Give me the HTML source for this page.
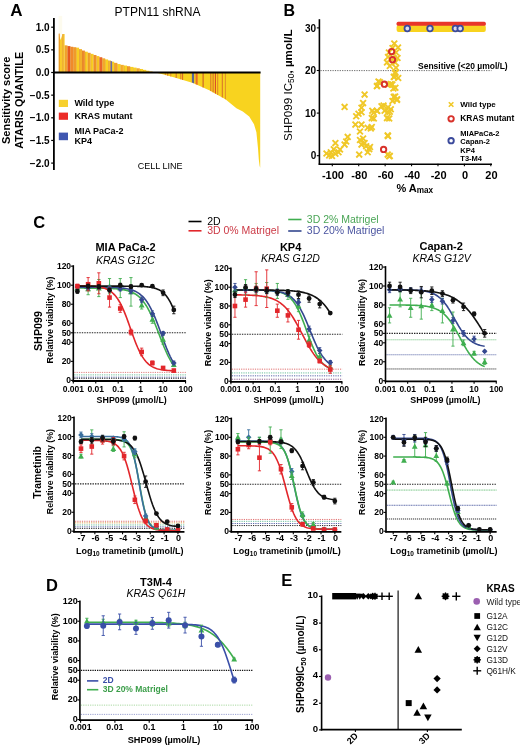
<!DOCTYPE html>
<html><head><meta charset="utf-8"><title>Figure</title><style>html,body{margin:0;padding:0;background:#fff;width:520px;height:750px;overflow:hidden}svg{display:block}</style></head><body>
<svg width="520" height="750" viewBox="0 0 520 750" font-family='"Liberation Sans", Arial, Helvetica, sans-serif'>
<rect width="520" height="750" fill="#fff"/>
<text x="10.2" y="15.8" font-size="17" font-weight="bold">A</text>
<text x="157.5" y="15.8" font-size="12" text-anchor="middle">PTPN11 shRNA</text>
<rect x="58.6" y="15.88" width="3.6" height="56.62" fill="#fdfbee"/>
<rect x="64.6" y="45.36" width="2.9" height="27.14" fill="#f2a22c"/>
<rect x="64.6" y="45.36" width="0.6" height="27.14" fill="#d88a2a" fill-opacity="0.55"/>
<rect x="67.5" y="46.1" width="2.9" height="26.4" fill="#e6561f"/>
<rect x="67.5" y="46.1" width="0.6" height="26.4" fill="#d88a2a" fill-opacity="0.55"/>
<rect x="70.4" y="46.77" width="2.9" height="25.73" fill="#f08a2a"/>
<rect x="70.4" y="46.77" width="0.6" height="25.73" fill="#d88a2a" fill-opacity="0.55"/>
<rect x="73.3" y="47.19" width="2.9" height="25.31" fill="#f09a2a"/>
<rect x="73.3" y="47.19" width="0.6" height="25.31" fill="#d88a2a" fill-opacity="0.55"/>
<rect x="76.2" y="47.66" width="2.9" height="24.84" fill="#f9cd22"/>
<rect x="76.2" y="47.66" width="0.6" height="24.84" fill="#d88a2a" fill-opacity="0.55"/>
<rect x="79.1" y="49.12" width="2.9" height="23.38" fill="#f3b02a"/>
<rect x="79.1" y="49.12" width="0.6" height="23.38" fill="#d88a2a" fill-opacity="0.55"/>
<rect x="82" y="50.58" width="2.9" height="21.92" fill="#ee8a2a"/>
<rect x="82" y="50.58" width="0.6" height="21.92" fill="#d88a2a" fill-opacity="0.55"/>
<rect x="84.9" y="51.71" width="2.9" height="20.79" fill="#f9cf22"/>
<rect x="84.9" y="51.71" width="0.6" height="20.79" fill="#d88a2a" fill-opacity="0.55"/>
<rect x="87.8" y="52.79" width="2.9" height="19.71" fill="#f3a02a"/>
<rect x="87.8" y="52.79" width="0.6" height="19.71" fill="#d88a2a" fill-opacity="0.55"/>
<rect x="90.7" y="53.87" width="2.9" height="18.63" fill="#f9d022"/>
<rect x="90.7" y="53.87" width="0.6" height="18.63" fill="#d88a2a" fill-opacity="0.55"/>
<rect x="93.6" y="54.98" width="2.9" height="17.52" fill="#ef9029"/>
<rect x="93.6" y="54.98" width="0.6" height="17.52" fill="#d88a2a" fill-opacity="0.55"/>
<rect x="96.5" y="56.1" width="2.9" height="16.4" fill="#f9c522"/>
<rect x="96.5" y="56.1" width="0.6" height="16.4" fill="#d88a2a" fill-opacity="0.55"/>
<rect x="99.4" y="57.22" width="2.9" height="15.28" fill="#e9652a"/>
<rect x="99.4" y="57.22" width="0.6" height="15.28" fill="#d88a2a" fill-opacity="0.55"/>
<rect x="102.3" y="58.32" width="2.9" height="14.18" fill="#f3a82a"/>
<rect x="102.3" y="58.32" width="0.6" height="14.18" fill="#d88a2a" fill-opacity="0.55"/>
<rect x="105.2" y="59.42" width="2.9" height="13.08" fill="#f9d122"/>
<rect x="105.2" y="59.42" width="0.6" height="13.08" fill="#d88a2a" fill-opacity="0.55"/>
<rect x="108.1" y="60.51" width="2.9" height="11.99" fill="#f6b82a"/>
<rect x="108.1" y="60.51" width="0.6" height="11.99" fill="#d88a2a" fill-opacity="0.55"/>
<rect x="111" y="61.66" width="3.2" height="10.84" fill="#f9cf22"/>
<rect x="111" y="61.66" width="0.6" height="10.84" fill="#d88a2a" fill-opacity="0.55"/>
<rect x="114.2" y="62.85" width="3.2" height="9.65" fill="#f3a12a"/>
<rect x="114.2" y="62.85" width="0.6" height="9.65" fill="#d88a2a" fill-opacity="0.55"/>
<rect x="117.4" y="64.05" width="3.2" height="8.45" fill="#f9d122"/>
<rect x="117.4" y="64.05" width="0.6" height="8.45" fill="#d88a2a" fill-opacity="0.55"/>
<rect x="120.6" y="64.86" width="3.2" height="7.64" fill="#f6b02a"/>
<rect x="120.6" y="64.86" width="0.6" height="7.64" fill="#d88a2a" fill-opacity="0.55"/>
<rect x="123.8" y="65.54" width="3.2" height="6.96" fill="#f9d122"/>
<rect x="123.8" y="65.54" width="0.6" height="6.96" fill="#d88a2a" fill-opacity="0.55"/>
<rect x="127" y="66.23" width="3.2" height="6.27" fill="#ef9a2a"/>
<rect x="127" y="66.23" width="0.6" height="6.27" fill="#d88a2a" fill-opacity="0.55"/>
<rect x="130.2" y="66.91" width="3.2" height="5.59" fill="#f9d122"/>
<rect x="130.2" y="66.91" width="0.6" height="5.59" fill="#d88a2a" fill-opacity="0.55"/>
<rect x="133.4" y="67.59" width="3.2" height="4.91" fill="#f9d122"/>
<rect x="133.4" y="67.59" width="0.6" height="4.91" fill="#d88a2a" fill-opacity="0.55"/>
<rect x="136.6" y="68.28" width="3.2" height="4.22" fill="#f4aa2a"/>
<rect x="136.6" y="68.28" width="0.6" height="4.22" fill="#d88a2a" fill-opacity="0.55"/>
<rect x="139.8" y="68.98" width="3.2" height="3.52" fill="#f9d122"/>
<rect x="139.8" y="68.98" width="0.6" height="3.52" fill="#d88a2a" fill-opacity="0.55"/>
<rect x="143" y="69.85" width="3.2" height="2.65" fill="#f9d122"/>
<rect x="143" y="69.85" width="0.6" height="2.65" fill="#d88a2a" fill-opacity="0.55"/>
<rect x="146.2" y="70.71" width="3.2" height="1.79" fill="#f9d122"/>
<rect x="146.2" y="70.71" width="0.6" height="1.79" fill="#d88a2a" fill-opacity="0.55"/>
<rect x="149.4" y="71.48" width="3.2" height="1.02" fill="#f6b52a"/>
<rect x="149.4" y="71.48" width="0.6" height="1.02" fill="#d88a2a" fill-opacity="0.55"/>
<rect x="152.6" y="72.11" width="3.2" height="0.39" fill="#f9d122"/>
<rect x="152.6" y="72.11" width="0.6" height="0.39" fill="#d88a2a" fill-opacity="0.55"/>
<path d="M58.8 72.5L58.8 33.54L60.6 39.88L62.6 34L64.6 34L64.6 72.5Z" fill="#f8c92a" stroke="none" stroke-width="1"/>
<rect x="58.8" y="33.54" width="0.9" height="38.96" fill="#e48a2a"/>
<rect x="62.4" y="34" width="0.9" height="38.5" fill="#e8a040"/>
<path d="M155 72.5L160.8 73.86L174.6 77.48L193 82.92L209.2 90.17L225.4 99.23L236.4 108.29L242.8 111.46L249.2 116.44L254 124.14L256.4 132.3L258 148.15L258.8 159.48L259.6 165.82L260.2 167.63L260.2 72.5Z" fill="#f8d31f" stroke="none" stroke-width="1"/>
<rect x="164.9" y="72.5" width="1" height="2.57" fill="#e08a2a"/>
<rect x="167.2" y="72.5" width="1" height="3.17" fill="#d8702a"/>
<rect x="170.3" y="72.5" width="1" height="3.99" fill="#e08a2a"/>
<rect x="175.7" y="72.5" width="1" height="5.46" fill="#d8702a"/>
<rect x="180.3" y="72.5" width="1" height="6.81" fill="#e07a2a"/>
<rect x="182.1" y="72.5" width="1" height="7.35" fill="#d8602a"/>
<rect x="191.9" y="72.5" width="1" height="10.24" fill="#4459a8"/>
<rect x="193.1" y="72.5" width="1" height="10.69" fill="#4a5aa0"/>
<rect x="195.7" y="72.5" width="1" height="11.85" fill="#e0402a"/>
<rect x="196.7" y="72.5" width="1" height="12.3" fill="#e8702a"/>
<rect x="202.6" y="72.5" width="1" height="14.94" fill="#c8502a"/>
<rect x="210.3" y="72.5" width="1" height="18.56" fill="#d8702a"/>
<rect x="212.6" y="72.5" width="1" height="19.85" fill="#d8602a"/>
<rect x="214.9" y="72.5" width="1" height="21.13" fill="#d8402a"/>
<rect x="217.2" y="72.5" width="1" height="22.42" fill="#e0802a"/>
<rect x="221.8" y="72.5" width="1" height="24.99" fill="#d8702a"/>
<rect x="224.9" y="72.5" width="1" height="26.73" fill="#e0902a"/>
<rect x="110.5" y="61.17" width="1.6" height="11.33" fill="#6a6aa8"/>
<line x1="53.9" y1="18" x2="53.9" y2="170" stroke="#000" stroke-width="1.8"/>
<line x1="53" y1="72.5" x2="260.6" y2="72.5" stroke="#000" stroke-width="2"/>
<line x1="51.2" y1="27.2" x2="53.9" y2="27.2" stroke="#000" stroke-width="1.2"/>
<text x="49.6" y="30.7" font-size="10" font-weight="bold" text-anchor="end">1.0</text>
<line x1="51.2" y1="49.85" x2="53.9" y2="49.85" stroke="#000" stroke-width="1.2"/>
<text x="49.6" y="53.35" font-size="10" font-weight="bold" text-anchor="end">0.5</text>
<line x1="51.2" y1="72.5" x2="53.9" y2="72.5" stroke="#000" stroke-width="1.2"/>
<text x="49.6" y="76" font-size="10" font-weight="bold" text-anchor="end">0.0</text>
<line x1="51.2" y1="95.15" x2="53.9" y2="95.15" stroke="#000" stroke-width="1.2"/>
<text x="49.6" y="98.65" font-size="10" font-weight="bold" text-anchor="end">−0.5</text>
<line x1="51.2" y1="117.8" x2="53.9" y2="117.8" stroke="#000" stroke-width="1.2"/>
<text x="49.6" y="121.3" font-size="10" font-weight="bold" text-anchor="end">−1.0</text>
<line x1="51.2" y1="140.45" x2="53.9" y2="140.45" stroke="#000" stroke-width="1.2"/>
<text x="49.6" y="143.95" font-size="10" font-weight="bold" text-anchor="end">−1.5</text>
<line x1="51.2" y1="163.1" x2="53.9" y2="163.1" stroke="#000" stroke-width="1.2"/>
<text x="49.6" y="166.6" font-size="10" font-weight="bold" text-anchor="end">−2.0</text>
<text x="9.8" y="100.3" font-size="11" font-weight="bold" text-anchor="middle" transform="rotate(-90 9.8 100.3)">Sensitivity score</text>
<text x="22.6" y="100.3" font-size="10.8" font-weight="bold" text-anchor="middle" transform="rotate(-90 22.6 100.3)">ATARIS QUANTILE</text>
<rect x="58.8" y="99.8" width="9.2" height="7.2" fill="#f7d02e"/>
<rect x="58.8" y="112.6" width="9.2" height="7.2" fill="#ec2b27"/>
<rect x="58.8" y="132.6" width="9.2" height="7.6" fill="#3f56b0"/>
<text x="74.4" y="106.3" font-size="9" font-weight="bold">Wild type</text>
<text x="74.4" y="119.2" font-size="9" font-weight="bold">KRAS mutant</text>
<text x="74.4" y="134.2" font-size="9" font-weight="bold">MIA PaCa-2</text>
<text x="74.4" y="143.5" font-size="9" font-weight="bold">KP4</text>
<text x="137.8" y="169.1" font-size="9">CELL LINE</text>
<text x="283.5" y="16.2" font-size="16" font-weight="bold">B</text>
<line x1="320.5" y1="70.6" x2="491.5" y2="70.6" stroke="#555" stroke-width="0.9" stroke-dasharray="1.2,1.2"/>
<text x="418" y="68.8" font-size="8.5" font-weight="bold">Sensitive (&lt;20 µmol/L)</text>
<rect x="396.6" y="25" width="89.2" height="7" fill="#f8d31f" rx="2"/>
<rect x="396.6" y="21.8" width="89.2" height="4" fill="#e8352a" rx="1.5"/>
<circle cx="407.3" cy="28.5" r="2.8" fill="#dcdcef" stroke="#3b4a9c" stroke-width="1.8"/>
<circle cx="430" cy="28.5" r="2.8" fill="#dcdcef" stroke="#3b4a9c" stroke-width="1.8"/>
<circle cx="455.4" cy="28.5" r="2.8" fill="#dcdcef" stroke="#3b4a9c" stroke-width="1.8"/>
<circle cx="460.2" cy="28.5" r="2.8" fill="#dcdcef" stroke="#3b4a9c" stroke-width="1.8"/>
<path d="M341.7 104L347.5 109.8M341.7 109.8L347.5 104" fill="none" stroke="#f0c828" stroke-width="1.9"/>
<path d="M361.7 91.7L367.5 97.5M361.7 97.5L367.5 91.7" fill="none" stroke="#f0c828" stroke-width="1.9"/>
<path d="M360.2 100.2L366 106M360.2 106L366 100.2" fill="none" stroke="#f0c828" stroke-width="1.9"/>
<path d="M358.6 104.8L364.4 110.6M358.6 110.6L364.4 104.8" fill="none" stroke="#f0c828" stroke-width="1.9"/>
<path d="M355.6 110.9L361.4 116.7M355.6 116.7L361.4 110.9" fill="none" stroke="#f0c828" stroke-width="1.9"/>
<path d="M358.6 109.4L364.4 115.2M358.6 115.2L364.4 109.4" fill="none" stroke="#f0c828" stroke-width="1.9"/>
<path d="M353.3 113.3L359.1 119.1M353.3 119.1L359.1 113.3" fill="none" stroke="#f0c828" stroke-width="1.9"/>
<path d="M352.5 121.7L358.3 127.5M352.5 127.5L358.3 121.7" fill="none" stroke="#f0c828" stroke-width="1.9"/>
<path d="M358.6 121.7L364.4 127.5M358.6 127.5L364.4 121.7" fill="none" stroke="#f0c828" stroke-width="1.9"/>
<path d="M357.1 128.6L362.9 134.4M357.1 134.4L362.9 128.6" fill="none" stroke="#f0c828" stroke-width="1.9"/>
<path d="M364.8 124.8L370.6 130.6M364.8 130.6L370.6 124.8" fill="none" stroke="#f0c828" stroke-width="1.9"/>
<path d="M367.9 125.6L373.7 131.4M367.9 131.4L373.7 125.6" fill="none" stroke="#f0c828" stroke-width="1.9"/>
<path d="M369.4 107.9L375.2 113.7M369.4 113.7L375.2 107.9" fill="none" stroke="#f0c828" stroke-width="1.9"/>
<path d="M374 107.9L379.8 113.7M374 113.7L379.8 107.9" fill="none" stroke="#f0c828" stroke-width="1.9"/>
<path d="M370.9 115.6L376.7 121.4M370.9 121.4L376.7 115.6" fill="none" stroke="#f0c828" stroke-width="1.9"/>
<path d="M378.6 103.3L384.4 109.1M378.6 109.1L384.4 103.3" fill="none" stroke="#f0c828" stroke-width="1.9"/>
<path d="M381.7 107.9L387.5 113.7M381.7 113.7L387.5 107.9" fill="none" stroke="#f0c828" stroke-width="1.9"/>
<path d="M384.8 109.4L390.6 115.2M384.8 115.2L390.6 109.4" fill="none" stroke="#f0c828" stroke-width="1.9"/>
<path d="M386.3 115.6L392.1 121.4M386.3 121.4L392.1 115.6" fill="none" stroke="#f0c828" stroke-width="1.9"/>
<path d="M384.8 132.5L390.6 138.3M384.8 138.3L390.6 132.5" fill="none" stroke="#f0c828" stroke-width="1.9"/>
<path d="M387.9 106.3L393.7 112.1M387.9 112.1L393.7 106.3" fill="none" stroke="#f0c828" stroke-width="1.9"/>
<path d="M390.9 94L396.7 99.8M390.9 99.8L396.7 94" fill="none" stroke="#f0c828" stroke-width="1.9"/>
<path d="M394 97.1L399.8 102.9M394 102.9L399.8 97.1" fill="none" stroke="#f0c828" stroke-width="1.9"/>
<path d="M389.4 81.7L395.2 87.5M389.4 87.5L395.2 81.7" fill="none" stroke="#f0c828" stroke-width="1.9"/>
<path d="M392.5 84.8L398.3 90.6M392.5 90.6L398.3 84.8" fill="none" stroke="#f0c828" stroke-width="1.9"/>
<path d="M390.9 74L396.7 79.8M390.9 79.8L396.7 74" fill="none" stroke="#f0c828" stroke-width="1.9"/>
<path d="M392.5 69.4L398.3 75.2M392.5 75.2L398.3 69.4" fill="none" stroke="#f0c828" stroke-width="1.9"/>
<path d="M374 83.3L379.8 89.1M374 89.1L379.8 83.3" fill="none" stroke="#f0c828" stroke-width="1.9"/>
<path d="M375.6 78.6L381.4 84.4M375.6 84.4L381.4 78.6" fill="none" stroke="#f0c828" stroke-width="1.9"/>
<path d="M384.8 81.7L390.6 87.5M384.8 87.5L390.6 81.7" fill="none" stroke="#f0c828" stroke-width="1.9"/>
<path d="M332.5 140.2L338.3 146M332.5 146L338.3 140.2" fill="none" stroke="#f0c828" stroke-width="1.9"/>
<path d="M330.9 146.3L336.7 152.1M330.9 152.1L336.7 146.3" fill="none" stroke="#f0c828" stroke-width="1.9"/>
<path d="M327.9 149.4L333.7 155.2M327.9 155.2L333.7 149.4" fill="none" stroke="#f0c828" stroke-width="1.9"/>
<path d="M332.5 150.9L338.3 156.7M332.5 156.7L338.3 150.9" fill="none" stroke="#f0c828" stroke-width="1.9"/>
<path d="M326.3 152.5L332.1 158.3M326.3 158.3L332.1 152.5" fill="none" stroke="#f0c828" stroke-width="1.9"/>
<path d="M335.6 149.4L341.4 155.2M335.6 155.2L341.4 149.4" fill="none" stroke="#f0c828" stroke-width="1.9"/>
<path d="M344.8 134L350.6 139.8M344.8 139.8L350.6 134" fill="none" stroke="#f0c828" stroke-width="1.9"/>
<path d="M343.3 138.6L349.1 144.4M343.3 144.4L349.1 138.6" fill="none" stroke="#f0c828" stroke-width="1.9"/>
<path d="M341.7 141.7L347.5 147.5M341.7 147.5L347.5 141.7" fill="none" stroke="#f0c828" stroke-width="1.9"/>
<path d="M357.1 137.1L362.9 142.9M357.1 142.9L362.9 137.1" fill="none" stroke="#f0c828" stroke-width="1.9"/>
<path d="M360.2 135.6L366 141.4M360.2 141.4L366 135.6" fill="none" stroke="#f0c828" stroke-width="1.9"/>
<path d="M358.6 141.7L364.4 147.5M358.6 147.5L364.4 141.7" fill="none" stroke="#f0c828" stroke-width="1.9"/>
<path d="M361.7 140.2L367.5 146M361.7 146L367.5 140.2" fill="none" stroke="#f0c828" stroke-width="1.9"/>
<path d="M363.3 143.3L369.1 149.1M363.3 149.1L369.1 143.3" fill="none" stroke="#f0c828" stroke-width="1.9"/>
<path d="M366.3 146.3L372.1 152.1M366.3 152.1L372.1 146.3" fill="none" stroke="#f0c828" stroke-width="1.9"/>
<path d="M364.8 149.4L370.6 155.2M364.8 155.2L370.6 149.4" fill="none" stroke="#f0c828" stroke-width="1.9"/>
<path d="M356.3 151.7L362.1 157.5M356.3 157.5L362.1 151.7" fill="none" stroke="#f0c828" stroke-width="1.9"/>
<path d="M384.8 151.7L390.6 157.5M384.8 157.5L390.6 151.7" fill="none" stroke="#f0c828" stroke-width="1.9"/>
<path d="M386.3 153.3L392.1 159.1M386.3 159.1L392.1 153.3" fill="none" stroke="#f0c828" stroke-width="1.9"/>
<path d="M391.4 40.6L397.2 46.4M391.4 46.4L397.2 40.6" fill="none" stroke="#f0c828" stroke-width="1.9"/>
<path d="M389.6 45.1L395.4 50.9M389.6 50.9L395.4 45.1" fill="none" stroke="#f0c828" stroke-width="1.9"/>
<path d="M386 49.6L391.8 55.4M386 55.4L391.8 49.6" fill="none" stroke="#f0c828" stroke-width="1.9"/>
<path d="M393.1 49.6L398.9 55.4M393.1 55.4L398.9 49.6" fill="none" stroke="#f0c828" stroke-width="1.9"/>
<path d="M385.1 54.1L390.9 59.9M385.1 59.9L390.9 54.1" fill="none" stroke="#f0c828" stroke-width="1.9"/>
<path d="M390.5 55L396.3 60.8M390.5 60.8L396.3 55" fill="none" stroke="#f0c828" stroke-width="1.9"/>
<path d="M384.1 59.5L389.9 65.3M384.1 65.3L389.9 59.5" fill="none" stroke="#f0c828" stroke-width="1.9"/>
<path d="M392.3 59.5L398.1 65.3M392.3 65.3L398.1 59.5" fill="none" stroke="#f0c828" stroke-width="1.9"/>
<path d="M386.9 63.1L392.7 68.9M386.9 68.9L392.7 63.1" fill="none" stroke="#f0c828" stroke-width="1.9"/>
<path d="M393.1 64.9L398.9 70.7M393.1 70.7L398.9 64.9" fill="none" stroke="#f0c828" stroke-width="1.9"/>
<path d="M392.3 70.3L398.1 76.1M392.3 76.1L398.1 70.3" fill="none" stroke="#f0c828" stroke-width="1.9"/>
<path d="M391.4 73.9L397.2 79.7M391.4 79.7L397.2 73.9" fill="none" stroke="#f0c828" stroke-width="1.9"/>
<path d="M374.3 82.9L380.1 88.7M374.3 88.7L380.1 82.9" fill="none" stroke="#f0c828" stroke-width="1.9"/>
<path d="M377 79.3L382.8 85.1M377 85.1L382.8 79.3" fill="none" stroke="#f0c828" stroke-width="1.9"/>
<path d="M387.8 81.1L393.6 86.9M387.8 86.9L393.6 81.1" fill="none" stroke="#f0c828" stroke-width="1.9"/>
<path d="M390.5 85.6L396.3 91.4M390.5 91.4L396.3 85.6" fill="none" stroke="#f0c828" stroke-width="1.9"/>
<path d="M392.3 93.6L398.1 99.4M392.3 99.4L398.1 93.6" fill="none" stroke="#f0c828" stroke-width="1.9"/>
<path d="M394.1 96.3L399.9 102.1M394.1 102.1L399.9 96.3" fill="none" stroke="#f0c828" stroke-width="1.9"/>
<path d="M389.6 98.1L395.4 103.9M389.6 103.9L395.4 98.1" fill="none" stroke="#f0c828" stroke-width="1.9"/>
<path d="M380.6 102.6L386.4 108.4M380.6 108.4L386.4 102.6" fill="none" stroke="#f0c828" stroke-width="1.9"/>
<path d="M385.1 104.4L390.9 110.2M385.1 110.2L390.9 104.4" fill="none" stroke="#f0c828" stroke-width="1.9"/>
<path d="M374.3 108.1L380.1 113.9M374.3 113.9L380.1 108.1" fill="none" stroke="#f0c828" stroke-width="1.9"/>
<path d="M370.7 109.8L376.5 115.6M370.7 115.6L376.5 109.8" fill="none" stroke="#f0c828" stroke-width="1.9"/>
<path d="M368.9 115.2L374.7 121M368.9 121L374.7 115.2" fill="none" stroke="#f0c828" stroke-width="1.9"/>
<path d="M386.9 108.9L392.7 114.7M386.9 114.7L392.7 108.9" fill="none" stroke="#f0c828" stroke-width="1.9"/>
<path d="M384.1 115.2L389.9 121M384.1 121L389.9 115.2" fill="none" stroke="#f0c828" stroke-width="1.9"/>
<path d="M368.9 124.1L374.7 129.9M368.9 129.9L374.7 124.1" fill="none" stroke="#f0c828" stroke-width="1.9"/>
<path d="M385.1 133.2L390.9 139M385.1 139L390.9 133.2" fill="none" stroke="#f0c828" stroke-width="1.9"/>
<path d="M386.9 153L392.7 158.8M386.9 158.8L392.7 153" fill="none" stroke="#f0c828" stroke-width="1.9"/>
<path d="M367.1 144.1L372.9 149.9M367.1 149.9L372.9 144.1" fill="none" stroke="#f0c828" stroke-width="1.9"/>
<path d="M323.6 150.6L329.4 156.4M323.6 156.4L329.4 150.6" fill="none" stroke="#f0c828" stroke-width="1.9"/>
<path d="M329.1 153.1L334.9 158.9M329.1 158.9L334.9 153.1" fill="none" stroke="#f0c828" stroke-width="1.9"/>
<path d="M337.1 146.6L342.9 152.4M337.1 152.4L342.9 146.6" fill="none" stroke="#f0c828" stroke-width="1.9"/>
<path d="M395.1 44.6L400.9 50.4M395.1 50.4L400.9 44.6" fill="none" stroke="#f0c828" stroke-width="1.9"/>
<path d="M394.6 55.1L400.4 60.9M394.6 60.9L400.4 55.1" fill="none" stroke="#f0c828" stroke-width="1.9"/>
<path d="M395.3 75.1L401.1 80.9M395.3 80.9L401.1 75.1" fill="none" stroke="#f0c828" stroke-width="1.9"/>
<circle cx="391.6" cy="51.6" r="2.7" fill="none" stroke="#d8322b" stroke-width="1.9"/>
<circle cx="392.5" cy="59.7" r="2.7" fill="none" stroke="#d8322b" stroke-width="1.9"/>
<circle cx="384.4" cy="84.2" r="2.7" fill="none" stroke="#d8322b" stroke-width="1.9"/>
<circle cx="383.6" cy="149.4" r="2.7" fill="none" stroke="#d8322b" stroke-width="1.9"/>
<line x1="319.4" y1="19.2" x2="319.4" y2="164.6" stroke="#000" stroke-width="1.6"/>
<line x1="318.6" y1="164.2" x2="492" y2="164.2" stroke="#000" stroke-width="1.6"/>
<line x1="316.8" y1="155.7" x2="319.4" y2="155.7" stroke="#000" stroke-width="1.1"/>
<text x="316.2" y="159.3" font-size="10" font-weight="bold" text-anchor="end">0</text>
<line x1="316.8" y1="113.1" x2="319.4" y2="113.1" stroke="#000" stroke-width="1.1"/>
<text x="316.2" y="116.7" font-size="10" font-weight="bold" text-anchor="end">10</text>
<line x1="316.8" y1="70.5" x2="319.4" y2="70.5" stroke="#000" stroke-width="1.1"/>
<text x="316.2" y="74.1" font-size="10" font-weight="bold" text-anchor="end">20</text>
<line x1="316.8" y1="27.9" x2="319.4" y2="27.9" stroke="#000" stroke-width="1.1"/>
<text x="316.2" y="31.5" font-size="10" font-weight="bold" text-anchor="end">30</text>
<line x1="332.3" y1="163.8" x2="332.3" y2="166.3" stroke="#000" stroke-width="1.1"/>
<text x="332.9" y="178.8" font-size="11" font-weight="bold" text-anchor="middle">-100</text>
<line x1="358.72" y1="163.8" x2="358.72" y2="166.3" stroke="#000" stroke-width="1.1"/>
<text x="359.32" y="178.8" font-size="11" font-weight="bold" text-anchor="middle">-80</text>
<line x1="385.14" y1="163.8" x2="385.14" y2="166.3" stroke="#000" stroke-width="1.1"/>
<text x="385.74" y="178.8" font-size="11" font-weight="bold" text-anchor="middle">-60</text>
<line x1="411.56" y1="163.8" x2="411.56" y2="166.3" stroke="#000" stroke-width="1.1"/>
<text x="412.16" y="178.8" font-size="11" font-weight="bold" text-anchor="middle">-40</text>
<line x1="437.98" y1="163.8" x2="437.98" y2="166.3" stroke="#000" stroke-width="1.1"/>
<text x="438.58" y="178.8" font-size="11" font-weight="bold" text-anchor="middle">-20</text>
<line x1="464.4" y1="163.8" x2="464.4" y2="166.3" stroke="#000" stroke-width="1.1"/>
<text x="465" y="178.8" font-size="11" font-weight="bold" text-anchor="middle">0</text>
<line x1="490.82" y1="163.8" x2="490.82" y2="166.3" stroke="#000" stroke-width="1.1"/>
<text x="491.42" y="178.8" font-size="11" font-weight="bold" text-anchor="middle">20</text>
<text x="396.4" y="191.5" font-size="11" font-weight="bold">% A<tspan font-size="8.2" dy="1.2">max</tspan></text>
<text x="291.6" y="85.2" font-size="11.6" text-anchor="middle" transform="rotate(-90 291.6 85.2)">SHP099 IC<tspan font-size="8.5" dy="2">50</tspan><tspan dy="-2" font-weight="bold">, µmol/L</tspan></text>
<path d="M448.8 102.2L453.4 106.8M448.8 106.8L453.4 102.2" fill="none" stroke="#f0c828" stroke-width="1.6"/>
<circle cx="451.1" cy="118.8" r="2.7" fill="none" stroke="#d8322b" stroke-width="1.9"/>
<circle cx="451.1" cy="140.7" r="2.7" fill="none" stroke="#3b4a9c" stroke-width="1.9"/>
<text x="460.3" y="107.3" font-size="8" font-weight="bold">Wild type</text>
<text x="460.3" y="121.2" font-size="8.4" font-weight="bold">KRAS mutant</text>
<text x="460.3" y="135.8" font-size="7.5" font-weight="bold">MIAPaCa-2</text>
<text x="460.3" y="144.1" font-size="7.5" font-weight="bold">Capan-2</text>
<text x="460.3" y="152.5" font-size="7.5" font-weight="bold">KP4</text>
<text x="460.3" y="160.8" font-size="7.5" font-weight="bold">T3-M4</text>
<text x="33.2" y="227.7" font-size="16.5" font-weight="bold">C</text>
<line x1="188.5" y1="221.5" x2="201.5" y2="221.5" stroke="#000" stroke-width="1.6"/>
<text x="207.2" y="224.6" font-size="10.5">2D</text>
<line x1="188.5" y1="230.8" x2="201.5" y2="230.8" stroke="#e2262b" stroke-width="1.6"/>
<text x="207.2" y="233.7" font-size="10.5" fill="#cc3a46">3D 0% Matrigel</text>
<line x1="288.2" y1="219.5" x2="301.5" y2="219.5" stroke="#3fae4f" stroke-width="1.6"/>
<text x="306.8" y="222.7" font-size="10.5" fill="#4aa556">3D 2% Matrigel</text>
<line x1="288.2" y1="231" x2="301.5" y2="231" stroke="#34488f" stroke-width="1.6"/>
<text x="306.8" y="234" font-size="10.5" fill="#4a54a0">3D 20% Matrigel</text>
<line x1="74.3" y1="372.4" x2="186.05" y2="372.4" stroke="#e08080" stroke-width="1" stroke-dasharray="1.2,1.1"/>
<line x1="74.3" y1="374.88" x2="186.05" y2="374.88" stroke="#6cbf9a" stroke-width="1" stroke-dasharray="1.2,1.1"/>
<line x1="74.3" y1="377.16" x2="186.05" y2="377.16" stroke="#5a66aa" stroke-width="1" stroke-dasharray="1.2,1.1"/>
<line x1="74.3" y1="378.31" x2="186.05" y2="378.31" stroke="#222" stroke-width="1" stroke-dasharray="1.2,1.1"/>
<line x1="74.3" y1="332.8" x2="186.05" y2="332.8" stroke="#222" stroke-width="1.1" stroke-dasharray="1.4,1.1"/>
<path d="M77.41 288.07L78.61 288.07L79.82 288.07L81.02 288.07L82.23 288.07L83.43 288.07L84.64 288.08L85.84 288.08L87.05 288.08L88.25 288.09L89.46 288.09L90.66 288.1L91.87 288.1L93.07 288.11L94.28 288.12L95.48 288.13L96.69 288.14L97.89 288.15L99.1 288.16L100.3 288.18L101.51 288.2L102.71 288.22L103.92 288.24L105.12 288.27L106.33 288.3L107.53 288.33L108.74 288.37L109.94 288.42L111.15 288.47L112.35 288.53L113.56 288.6L114.76 288.68L115.97 288.77L117.17 288.87L118.38 288.99L119.59 289.12L120.79 289.27L122 289.45L123.2 289.65L124.41 289.87L125.61 290.13L126.82 290.43L128.02 290.76L129.23 291.14L130.43 291.57L131.64 292.06L132.84 292.62L134.05 293.25L135.25 293.95L136.46 294.75L137.66 295.65L138.87 296.65L140.07 297.77L141.28 299.01L142.48 300.4L143.69 301.92L144.89 303.6L146.1 305.44L147.3 307.44L148.51 309.6L149.71 311.93L150.92 314.42L152.12 317.05L153.33 319.82L154.53 322.71L155.74 325.7L156.94 328.76L158.15 331.88L159.35 335.02L160.56 338.14L161.76 341.24L162.97 344.27L164.17 347.21L165.38 350.04L166.58 352.75L167.79 355.31L168.99 357.71L170.2 359.96L171.4 362.04L172.61 363.96L173.81 365.72" fill="none" stroke="#3fae4f" stroke-width="1.6" stroke-linejoin="round"/>
<path d="M77.41 287.11L78.61 287.11L79.82 287.11L81.02 287.11L82.23 287.11L83.43 287.11L84.64 287.12L85.84 287.12L87.05 287.12L88.25 287.12L89.46 287.12L90.66 287.13L91.87 287.13L93.07 287.13L94.28 287.14L95.48 287.14L96.69 287.15L97.89 287.16L99.1 287.17L100.3 287.18L101.51 287.19L102.71 287.2L103.92 287.21L105.12 287.23L106.33 287.25L107.53 287.27L108.74 287.3L109.94 287.33L111.15 287.36L112.35 287.4L113.56 287.44L114.76 287.49L115.97 287.55L117.17 287.62L118.38 287.7L119.59 287.79L120.79 287.89L122 288.01L123.2 288.15L124.41 288.31L125.61 288.49L126.82 288.7L128.02 288.94L129.23 289.21L130.43 289.53L131.64 289.88L132.84 290.29L134.05 290.76L135.25 291.3L136.46 291.9L137.66 292.59L138.87 293.38L140.07 294.26L141.28 295.26L142.48 296.38L143.69 297.63L144.89 299.04L146.1 300.6L147.3 302.32L148.51 304.22L149.71 306.3L150.92 308.55L152.12 310.99L153.33 313.6L154.53 316.38L155.74 319.31L156.94 322.37L158.15 325.53L159.35 328.78L160.56 332.08L161.76 335.39L162.97 338.69L164.17 341.94L165.38 345.1L166.58 348.17L167.79 351.09L168.99 353.87L170.2 356.49L171.4 358.93L172.61 361.19L173.81 363.26" fill="none" stroke="#34488f" stroke-width="1.6" stroke-linejoin="round"/>
<path d="M77.41 285.75L78.61 285.76L79.82 285.78L81.02 285.79L82.23 285.81L83.43 285.84L84.64 285.87L85.84 285.9L87.05 285.94L88.25 285.98L89.46 286.04L90.66 286.1L91.87 286.17L93.07 286.26L94.28 286.36L95.48 286.48L96.69 286.62L97.89 286.78L99.1 286.97L100.3 287.19L101.51 287.45L102.71 287.75L103.92 288.1L105.12 288.51L106.33 288.98L107.53 289.53L108.74 290.17L109.94 290.91L111.15 291.75L112.35 292.73L113.56 293.84L114.76 295.1L115.97 296.54L117.17 298.15L118.38 299.97L119.59 301.98L120.79 304.21L122 306.64L123.2 309.29L124.41 312.13L125.61 315.15L126.82 318.32L128.02 321.62L129.23 325L130.43 328.42L131.64 331.84L132.84 335.22L134.05 338.51L135.25 341.68L136.46 344.7L137.66 347.53L138.87 350.17L140.07 352.6L141.28 354.82L142.48 356.83L143.69 358.64L144.89 360.25L146.1 361.68L147.3 362.94L148.51 364.05L149.71 365.02L150.92 365.86L152.12 366.59L153.33 367.23L154.53 367.78L155.74 368.25L156.94 368.66L158.15 369.01L159.35 369.31L160.56 369.56L161.76 369.78L162.97 369.97L164.17 370.13L165.38 370.27L166.58 370.39L167.79 370.49L168.99 370.57L170.2 370.65L171.4 370.71L172.61 370.76L173.81 370.81" fill="none" stroke="#e2262b" stroke-width="1.6" stroke-linejoin="round"/>
<path d="M77.41 286.15L78.61 286.15L79.82 286.15L81.02 286.15L82.23 286.15L83.43 286.15L84.64 286.15L85.84 286.15L87.05 286.15L88.25 286.15L89.46 286.15L90.66 286.15L91.87 286.15L93.07 286.15L94.28 286.15L95.48 286.15L96.69 286.15L97.89 286.15L99.1 286.15L100.3 286.15L101.51 286.15L102.71 286.15L103.92 286.15L105.12 286.15L106.33 286.15L107.53 286.15L108.74 286.15L109.94 286.16L111.15 286.16L112.35 286.16L113.56 286.16L114.76 286.16L115.97 286.16L117.17 286.16L118.38 286.16L119.59 286.17L120.79 286.17L122 286.17L123.2 286.17L124.41 286.18L125.61 286.18L126.82 286.19L128.02 286.2L129.23 286.2L130.43 286.21L131.64 286.23L132.84 286.24L134.05 286.26L135.25 286.28L136.46 286.3L137.66 286.33L138.87 286.36L140.07 286.4L141.28 286.45L142.48 286.51L143.69 286.57L144.89 286.65L146.1 286.74L147.3 286.86L148.51 286.99L149.71 287.14L150.92 287.33L152.12 287.55L153.33 287.81L154.53 288.11L155.74 288.48L156.94 288.9L158.15 289.4L159.35 289.99L160.56 290.68L161.76 291.49L162.97 292.43L164.17 293.52L165.38 294.79L166.58 296.25L167.79 297.92L168.99 299.82L170.2 301.96L171.4 304.37L172.61 307.05L173.81 310" fill="none" stroke="#111" stroke-width="1.6" stroke-linejoin="round"/>
<line x1="77.41" y1="286.15" x2="77.41" y2="289.96" stroke="#3fae4f" stroke-width="0.9"/>
<line x1="75.81" y1="286.15" x2="79.01" y2="286.15" stroke="#3fae4f" stroke-width="0.9"/>
<line x1="75.81" y1="289.96" x2="79.01" y2="289.96" stroke="#3fae4f" stroke-width="0.9"/>
<path d="M77.41 285.16L80.31 290.38L74.51 290.38Z" fill="#3fae4f" stroke="none" stroke-width="1"/>
<line x1="88.12" y1="283.3" x2="88.12" y2="294.72" stroke="#3fae4f" stroke-width="0.9"/>
<line x1="86.52" y1="283.3" x2="89.72" y2="283.3" stroke="#3fae4f" stroke-width="0.9"/>
<line x1="86.52" y1="294.72" x2="89.72" y2="294.72" stroke="#3fae4f" stroke-width="0.9"/>
<path d="M88.12 286.11L91.02 291.33L85.22 291.33Z" fill="#3fae4f" stroke="none" stroke-width="1"/>
<line x1="98.83" y1="279.49" x2="98.83" y2="296.62" stroke="#3fae4f" stroke-width="0.9"/>
<line x1="97.23" y1="279.49" x2="100.43" y2="279.49" stroke="#3fae4f" stroke-width="0.9"/>
<line x1="97.23" y1="296.62" x2="100.43" y2="296.62" stroke="#3fae4f" stroke-width="0.9"/>
<path d="M98.83 285.16L101.73 290.38L95.93 290.38Z" fill="#3fae4f" stroke="none" stroke-width="1"/>
<line x1="109.54" y1="278.54" x2="109.54" y2="293.77" stroke="#3fae4f" stroke-width="0.9"/>
<line x1="107.94" y1="278.54" x2="111.14" y2="278.54" stroke="#3fae4f" stroke-width="0.9"/>
<line x1="107.94" y1="293.77" x2="111.14" y2="293.77" stroke="#3fae4f" stroke-width="0.9"/>
<path d="M109.54 283.25L112.44 288.47L106.64 288.47Z" fill="#3fae4f" stroke="none" stroke-width="1"/>
<line x1="120.25" y1="278.54" x2="120.25" y2="297.58" stroke="#3fae4f" stroke-width="0.9"/>
<line x1="118.65" y1="278.54" x2="121.85" y2="278.54" stroke="#3fae4f" stroke-width="0.9"/>
<line x1="118.65" y1="297.58" x2="121.85" y2="297.58" stroke="#3fae4f" stroke-width="0.9"/>
<path d="M120.25 285.16L123.15 290.38L117.35 290.38Z" fill="#3fae4f" stroke="none" stroke-width="1"/>
<line x1="130.97" y1="277.58" x2="130.97" y2="306.14" stroke="#3fae4f" stroke-width="0.9"/>
<line x1="129.37" y1="277.58" x2="132.57" y2="277.58" stroke="#3fae4f" stroke-width="0.9"/>
<line x1="129.37" y1="306.14" x2="132.57" y2="306.14" stroke="#3fae4f" stroke-width="0.9"/>
<path d="M130.97 288.96L133.87 294.18L128.07 294.18Z" fill="#3fae4f" stroke="none" stroke-width="1"/>
<line x1="141.68" y1="301.38" x2="141.68" y2="309" stroke="#3fae4f" stroke-width="0.9"/>
<line x1="140.08" y1="301.38" x2="143.28" y2="301.38" stroke="#3fae4f" stroke-width="0.9"/>
<line x1="140.08" y1="309" x2="143.28" y2="309" stroke="#3fae4f" stroke-width="0.9"/>
<path d="M141.68 302.29L144.58 307.51L138.78 307.51Z" fill="#3fae4f" stroke="none" stroke-width="1"/>
<line x1="152.39" y1="315.66" x2="152.39" y2="323.28" stroke="#3fae4f" stroke-width="0.9"/>
<line x1="150.79" y1="315.66" x2="153.99" y2="315.66" stroke="#3fae4f" stroke-width="0.9"/>
<line x1="150.79" y1="323.28" x2="153.99" y2="323.28" stroke="#3fae4f" stroke-width="0.9"/>
<path d="M152.39 316.57L155.29 321.79L149.49 321.79Z" fill="#3fae4f" stroke="none" stroke-width="1"/>
<line x1="163.1" y1="334.7" x2="163.1" y2="344.22" stroke="#3fae4f" stroke-width="0.9"/>
<line x1="161.5" y1="334.7" x2="164.7" y2="334.7" stroke="#3fae4f" stroke-width="0.9"/>
<line x1="161.5" y1="344.22" x2="164.7" y2="344.22" stroke="#3fae4f" stroke-width="0.9"/>
<path d="M163.1 336.56L166 341.78L160.2 341.78Z" fill="#3fae4f" stroke="none" stroke-width="1"/>
<line x1="173.81" y1="362.79" x2="173.81" y2="366.6" stroke="#3fae4f" stroke-width="0.9"/>
<line x1="172.21" y1="362.79" x2="175.41" y2="362.79" stroke="#3fae4f" stroke-width="0.9"/>
<line x1="172.21" y1="366.6" x2="175.41" y2="366.6" stroke="#3fae4f" stroke-width="0.9"/>
<path d="M173.81 361.79L176.71 367.01L170.91 367.01Z" fill="#3fae4f" stroke="none" stroke-width="1"/>
<line x1="77.41" y1="285.2" x2="77.41" y2="289.01" stroke="#34488f" stroke-width="0.9"/>
<line x1="75.81" y1="285.2" x2="79.01" y2="285.2" stroke="#34488f" stroke-width="0.9"/>
<line x1="75.81" y1="289.01" x2="79.01" y2="289.01" stroke="#34488f" stroke-width="0.9"/>
<path d="M77.41 284.3L80.21 287.1L77.41 289.9L74.61 287.1Z" fill="#34488f" stroke="none" stroke-width="1"/>
<line x1="88.12" y1="286.15" x2="88.12" y2="289.96" stroke="#34488f" stroke-width="0.9"/>
<line x1="86.52" y1="286.15" x2="89.72" y2="286.15" stroke="#34488f" stroke-width="0.9"/>
<line x1="86.52" y1="289.96" x2="89.72" y2="289.96" stroke="#34488f" stroke-width="0.9"/>
<path d="M88.12 285.26L90.92 288.06L88.12 290.86L85.32 288.06Z" fill="#34488f" stroke="none" stroke-width="1"/>
<line x1="98.83" y1="285.2" x2="98.83" y2="289.01" stroke="#34488f" stroke-width="0.9"/>
<line x1="97.23" y1="285.2" x2="100.43" y2="285.2" stroke="#34488f" stroke-width="0.9"/>
<line x1="97.23" y1="289.01" x2="100.43" y2="289.01" stroke="#34488f" stroke-width="0.9"/>
<path d="M98.83 284.3L101.63 287.1L98.83 289.9L96.03 287.1Z" fill="#34488f" stroke="none" stroke-width="1"/>
<line x1="109.54" y1="286.15" x2="109.54" y2="289.96" stroke="#34488f" stroke-width="0.9"/>
<line x1="107.94" y1="286.15" x2="111.14" y2="286.15" stroke="#34488f" stroke-width="0.9"/>
<line x1="107.94" y1="289.96" x2="111.14" y2="289.96" stroke="#34488f" stroke-width="0.9"/>
<path d="M109.54 285.26L112.34 288.06L109.54 290.86L106.74 288.06Z" fill="#34488f" stroke="none" stroke-width="1"/>
<line x1="120.25" y1="287.1" x2="120.25" y2="290.91" stroke="#34488f" stroke-width="0.9"/>
<line x1="118.65" y1="287.1" x2="121.85" y2="287.1" stroke="#34488f" stroke-width="0.9"/>
<line x1="118.65" y1="290.91" x2="121.85" y2="290.91" stroke="#34488f" stroke-width="0.9"/>
<path d="M120.25 286.21L123.05 289.01L120.25 291.81L117.45 289.01Z" fill="#34488f" stroke="none" stroke-width="1"/>
<line x1="130.97" y1="288.06" x2="130.97" y2="293.77" stroke="#34488f" stroke-width="0.9"/>
<line x1="129.37" y1="288.06" x2="132.57" y2="288.06" stroke="#34488f" stroke-width="0.9"/>
<line x1="129.37" y1="293.77" x2="132.57" y2="293.77" stroke="#34488f" stroke-width="0.9"/>
<path d="M130.97 288.11L133.77 290.91L130.97 293.71L128.17 290.91Z" fill="#34488f" stroke="none" stroke-width="1"/>
<line x1="141.68" y1="297" x2="141.68" y2="302.72" stroke="#34488f" stroke-width="0.9"/>
<line x1="140.08" y1="297" x2="143.28" y2="297" stroke="#34488f" stroke-width="0.9"/>
<line x1="140.08" y1="302.72" x2="143.28" y2="302.72" stroke="#34488f" stroke-width="0.9"/>
<path d="M141.68 297.06L144.48 299.86L141.68 302.66L138.88 299.86Z" fill="#34488f" stroke="none" stroke-width="1"/>
<line x1="152.39" y1="310.9" x2="152.39" y2="316.62" stroke="#34488f" stroke-width="0.9"/>
<line x1="150.79" y1="310.9" x2="153.99" y2="310.9" stroke="#34488f" stroke-width="0.9"/>
<line x1="150.79" y1="316.62" x2="153.99" y2="316.62" stroke="#34488f" stroke-width="0.9"/>
<path d="M152.39 310.96L155.19 313.76L152.39 316.56L149.59 313.76Z" fill="#34488f" stroke="none" stroke-width="1"/>
<line x1="163.1" y1="331.47" x2="163.1" y2="335.28" stroke="#34488f" stroke-width="0.9"/>
<line x1="161.5" y1="331.47" x2="164.7" y2="331.47" stroke="#34488f" stroke-width="0.9"/>
<line x1="161.5" y1="335.28" x2="164.7" y2="335.28" stroke="#34488f" stroke-width="0.9"/>
<path d="M163.1 330.57L165.9 333.37L163.1 336.17L160.3 333.37Z" fill="#34488f" stroke="none" stroke-width="1"/>
<line x1="173.81" y1="361.07" x2="173.81" y2="364.88" stroke="#34488f" stroke-width="0.9"/>
<line x1="172.21" y1="361.07" x2="175.41" y2="361.07" stroke="#34488f" stroke-width="0.9"/>
<line x1="172.21" y1="364.88" x2="175.41" y2="364.88" stroke="#34488f" stroke-width="0.9"/>
<path d="M173.81 360.18L176.61 362.98L173.81 365.78L171.01 362.98Z" fill="#34488f" stroke="none" stroke-width="1"/>
<line x1="77.41" y1="284.25" x2="77.41" y2="288.06" stroke="#e2262b" stroke-width="0.9"/>
<line x1="75.81" y1="284.25" x2="79.01" y2="284.25" stroke="#e2262b" stroke-width="0.9"/>
<line x1="75.81" y1="288.06" x2="79.01" y2="288.06" stroke="#e2262b" stroke-width="0.9"/>
<rect x="75.11" y="283.85" width="4.6" height="4.6" fill="#e2262b"/>
<line x1="88.12" y1="277.58" x2="88.12" y2="290.91" stroke="#e2262b" stroke-width="0.9"/>
<line x1="86.52" y1="277.58" x2="89.72" y2="277.58" stroke="#e2262b" stroke-width="0.9"/>
<line x1="86.52" y1="290.91" x2="89.72" y2="290.91" stroke="#e2262b" stroke-width="0.9"/>
<rect x="85.82" y="281.95" width="4.6" height="4.6" fill="#e2262b"/>
<line x1="98.83" y1="272.82" x2="98.83" y2="293.77" stroke="#e2262b" stroke-width="0.9"/>
<line x1="97.23" y1="272.82" x2="100.43" y2="272.82" stroke="#e2262b" stroke-width="0.9"/>
<line x1="97.23" y1="293.77" x2="100.43" y2="293.77" stroke="#e2262b" stroke-width="0.9"/>
<rect x="96.53" y="281" width="4.6" height="4.6" fill="#e2262b"/>
<line x1="109.54" y1="288.06" x2="109.54" y2="307.1" stroke="#e2262b" stroke-width="0.9"/>
<line x1="107.94" y1="288.06" x2="111.14" y2="288.06" stroke="#e2262b" stroke-width="0.9"/>
<line x1="107.94" y1="307.1" x2="111.14" y2="307.1" stroke="#e2262b" stroke-width="0.9"/>
<rect x="107.24" y="295.28" width="4.6" height="4.6" fill="#e2262b"/>
<line x1="120.25" y1="304.72" x2="120.25" y2="312.33" stroke="#e2262b" stroke-width="0.9"/>
<line x1="118.65" y1="304.72" x2="121.85" y2="304.72" stroke="#e2262b" stroke-width="0.9"/>
<line x1="118.65" y1="312.33" x2="121.85" y2="312.33" stroke="#e2262b" stroke-width="0.9"/>
<rect x="117.95" y="306.22" width="4.6" height="4.6" fill="#e2262b"/>
<line x1="130.97" y1="329.28" x2="130.97" y2="334.99" stroke="#e2262b" stroke-width="0.9"/>
<line x1="129.37" y1="329.28" x2="132.57" y2="329.28" stroke="#e2262b" stroke-width="0.9"/>
<line x1="129.37" y1="334.99" x2="132.57" y2="334.99" stroke="#e2262b" stroke-width="0.9"/>
<rect x="128.67" y="329.83" width="4.6" height="4.6" fill="#e2262b"/>
<line x1="141.68" y1="348.13" x2="141.68" y2="355.74" stroke="#e2262b" stroke-width="0.9"/>
<line x1="140.08" y1="348.13" x2="143.28" y2="348.13" stroke="#e2262b" stroke-width="0.9"/>
<line x1="140.08" y1="355.74" x2="143.28" y2="355.74" stroke="#e2262b" stroke-width="0.9"/>
<rect x="139.38" y="349.64" width="4.6" height="4.6" fill="#e2262b"/>
<line x1="152.39" y1="361.07" x2="152.39" y2="364.88" stroke="#e2262b" stroke-width="0.9"/>
<line x1="150.79" y1="361.07" x2="153.99" y2="361.07" stroke="#e2262b" stroke-width="0.9"/>
<line x1="150.79" y1="364.88" x2="153.99" y2="364.88" stroke="#e2262b" stroke-width="0.9"/>
<rect x="150.09" y="360.68" width="4.6" height="4.6" fill="#e2262b"/>
<line x1="163.1" y1="366.98" x2="163.1" y2="368.88" stroke="#e2262b" stroke-width="0.9"/>
<line x1="161.5" y1="366.98" x2="164.7" y2="366.98" stroke="#e2262b" stroke-width="0.9"/>
<line x1="161.5" y1="368.88" x2="164.7" y2="368.88" stroke="#e2262b" stroke-width="0.9"/>
<rect x="160.8" y="365.63" width="4.6" height="4.6" fill="#e2262b"/>
<line x1="173.81" y1="369.17" x2="173.81" y2="372.02" stroke="#e2262b" stroke-width="0.9"/>
<line x1="172.21" y1="369.17" x2="175.41" y2="369.17" stroke="#e2262b" stroke-width="0.9"/>
<line x1="172.21" y1="372.02" x2="175.41" y2="372.02" stroke="#e2262b" stroke-width="0.9"/>
<rect x="171.51" y="368.29" width="4.6" height="4.6" fill="#e2262b"/>
<line x1="77.41" y1="289.48" x2="77.41" y2="293.29" stroke="#111" stroke-width="0.9"/>
<line x1="75.81" y1="289.48" x2="79.01" y2="289.48" stroke="#111" stroke-width="0.9"/>
<line x1="75.81" y1="293.29" x2="79.01" y2="293.29" stroke="#111" stroke-width="0.9"/>
<circle cx="77.41" cy="291.39" r="2.4" fill="#111" stroke="none" stroke-width="1"/>
<line x1="88.12" y1="284.25" x2="88.12" y2="288.06" stroke="#111" stroke-width="0.9"/>
<line x1="86.52" y1="284.25" x2="89.72" y2="284.25" stroke="#111" stroke-width="0.9"/>
<line x1="86.52" y1="288.06" x2="89.72" y2="288.06" stroke="#111" stroke-width="0.9"/>
<circle cx="88.12" cy="286.15" r="2.4" fill="#111" stroke="none" stroke-width="1"/>
<line x1="98.83" y1="284.82" x2="98.83" y2="288.63" stroke="#111" stroke-width="0.9"/>
<line x1="97.23" y1="284.82" x2="100.43" y2="284.82" stroke="#111" stroke-width="0.9"/>
<line x1="97.23" y1="288.63" x2="100.43" y2="288.63" stroke="#111" stroke-width="0.9"/>
<circle cx="98.83" cy="286.72" r="2.4" fill="#111" stroke="none" stroke-width="1"/>
<line x1="109.54" y1="288.25" x2="109.54" y2="292.05" stroke="#111" stroke-width="0.9"/>
<line x1="107.94" y1="288.25" x2="111.14" y2="288.25" stroke="#111" stroke-width="0.9"/>
<line x1="107.94" y1="292.05" x2="111.14" y2="292.05" stroke="#111" stroke-width="0.9"/>
<circle cx="109.54" cy="290.15" r="2.4" fill="#111" stroke="none" stroke-width="1"/>
<line x1="120.25" y1="283.3" x2="120.25" y2="287.1" stroke="#111" stroke-width="0.9"/>
<line x1="118.65" y1="283.3" x2="121.85" y2="283.3" stroke="#111" stroke-width="0.9"/>
<line x1="118.65" y1="287.1" x2="121.85" y2="287.1" stroke="#111" stroke-width="0.9"/>
<circle cx="120.25" cy="285.2" r="2.4" fill="#111" stroke="none" stroke-width="1"/>
<line x1="130.97" y1="284.72" x2="130.97" y2="288.53" stroke="#111" stroke-width="0.9"/>
<line x1="129.37" y1="284.72" x2="132.57" y2="284.72" stroke="#111" stroke-width="0.9"/>
<line x1="129.37" y1="288.53" x2="132.57" y2="288.53" stroke="#111" stroke-width="0.9"/>
<circle cx="130.97" cy="286.63" r="2.4" fill="#111" stroke="none" stroke-width="1"/>
<line x1="141.68" y1="284.25" x2="141.68" y2="286.15" stroke="#111" stroke-width="0.9"/>
<line x1="140.08" y1="284.25" x2="143.28" y2="284.25" stroke="#111" stroke-width="0.9"/>
<line x1="140.08" y1="286.15" x2="143.28" y2="286.15" stroke="#111" stroke-width="0.9"/>
<circle cx="141.68" cy="285.2" r="2.4" fill="#111" stroke="none" stroke-width="1"/>
<line x1="152.39" y1="285.2" x2="152.39" y2="287.1" stroke="#111" stroke-width="0.9"/>
<line x1="150.79" y1="285.2" x2="153.99" y2="285.2" stroke="#111" stroke-width="0.9"/>
<line x1="150.79" y1="287.1" x2="153.99" y2="287.1" stroke="#111" stroke-width="0.9"/>
<circle cx="152.39" cy="286.15" r="2.4" fill="#111" stroke="none" stroke-width="1"/>
<line x1="163.1" y1="289.96" x2="163.1" y2="295.67" stroke="#111" stroke-width="0.9"/>
<line x1="161.5" y1="289.96" x2="164.7" y2="289.96" stroke="#111" stroke-width="0.9"/>
<line x1="161.5" y1="295.67" x2="164.7" y2="295.67" stroke="#111" stroke-width="0.9"/>
<circle cx="163.1" cy="292.82" r="2.4" fill="#111" stroke="none" stroke-width="1"/>
<line x1="173.81" y1="306.14" x2="173.81" y2="313.76" stroke="#111" stroke-width="0.9"/>
<line x1="172.21" y1="306.14" x2="175.41" y2="306.14" stroke="#111" stroke-width="0.9"/>
<line x1="172.21" y1="313.76" x2="175.41" y2="313.76" stroke="#111" stroke-width="0.9"/>
<circle cx="173.81" cy="309.95" r="2.4" fill="#111" stroke="none" stroke-width="1"/>
<line x1="73.3" y1="265.21" x2="73.3" y2="381.8" stroke="#000" stroke-width="1.6"/>
<line x1="72.5" y1="381" x2="186.05" y2="381" stroke="#000" stroke-width="1.8"/>
<line x1="70.8" y1="380.4" x2="73.3" y2="380.4" stroke="#000" stroke-width="1.1"/>
<text x="71.1" y="383.46" font-size="8.5" font-weight="bold" text-anchor="end">0</text>
<line x1="70.8" y1="361.36" x2="73.3" y2="361.36" stroke="#000" stroke-width="1.1"/>
<text x="71.1" y="364.42" font-size="8.5" font-weight="bold" text-anchor="end">20</text>
<line x1="70.8" y1="342.32" x2="73.3" y2="342.32" stroke="#000" stroke-width="1.1"/>
<text x="71.1" y="345.38" font-size="8.5" font-weight="bold" text-anchor="end">40</text>
<line x1="70.8" y1="332.8" x2="73.3" y2="332.8" stroke="#000" stroke-width="1.1"/>
<text x="71.1" y="335.86" font-size="8.5" font-weight="bold" text-anchor="end">50</text>
<line x1="70.8" y1="323.28" x2="73.3" y2="323.28" stroke="#000" stroke-width="1.1"/>
<text x="71.1" y="326.34" font-size="8.5" font-weight="bold" text-anchor="end">60</text>
<line x1="70.8" y1="304.24" x2="73.3" y2="304.24" stroke="#000" stroke-width="1.1"/>
<text x="71.1" y="307.3" font-size="8.5" font-weight="bold" text-anchor="end">80</text>
<line x1="70.8" y1="285.2" x2="73.3" y2="285.2" stroke="#000" stroke-width="1.1"/>
<text x="71.1" y="288.26" font-size="8.5" font-weight="bold" text-anchor="end">100</text>
<line x1="70.8" y1="266.16" x2="73.3" y2="266.16" stroke="#000" stroke-width="1.1"/>
<text x="71.1" y="269.22" font-size="8.5" font-weight="bold" text-anchor="end">120</text>
<line x1="73.3" y1="381" x2="73.3" y2="383.5" stroke="#000" stroke-width="1.1"/>
<text x="73.3" y="391.5" font-size="8.5" font-weight="bold" text-anchor="middle">0.001</text>
<line x1="95.75" y1="381" x2="95.75" y2="383.5" stroke="#000" stroke-width="1.1"/>
<text x="95.75" y="391.5" font-size="8.5" font-weight="bold" text-anchor="middle">0.01</text>
<line x1="118.2" y1="381" x2="118.2" y2="383.5" stroke="#000" stroke-width="1.1"/>
<text x="118.2" y="391.5" font-size="8.5" font-weight="bold" text-anchor="middle">0.1</text>
<line x1="140.65" y1="381" x2="140.65" y2="383.5" stroke="#000" stroke-width="1.1"/>
<text x="140.65" y="391.5" font-size="8.5" font-weight="bold" text-anchor="middle">1</text>
<line x1="163.1" y1="381" x2="163.1" y2="383.5" stroke="#000" stroke-width="1.1"/>
<text x="163.1" y="391.5" font-size="8.5" font-weight="bold" text-anchor="middle">10</text>
<line x1="185.55" y1="381" x2="185.55" y2="383.5" stroke="#000" stroke-width="1.1"/>
<text x="185.55" y="391.5" font-size="8.5" font-weight="bold" text-anchor="middle">100</text>
<line x1="231.9" y1="369.17" x2="342.4" y2="369.17" stroke="#e07070" stroke-width="1" stroke-dasharray="1.2,1.1"/>
<line x1="231.9" y1="372.93" x2="342.4" y2="372.93" stroke="#6cbf9a" stroke-width="1" stroke-dasharray="1.2,1.1"/>
<line x1="231.9" y1="375.84" x2="342.4" y2="375.84" stroke="#5a66aa" stroke-width="1" stroke-dasharray="1.2,1.1"/>
<line x1="231.9" y1="379.23" x2="342.4" y2="379.23" stroke="#8a5a8a" stroke-width="1" stroke-dasharray="1.2,1.1"/>
<line x1="231.9" y1="334.2" x2="342.4" y2="334.2" stroke="#222" stroke-width="1.1" stroke-dasharray="1.4,1.1"/>
<path d="M234.96 290.03L236.15 290.03L237.35 290.03L238.54 290.03L239.73 290.03L240.92 290.03L242.11 290.03L243.3 290.04L244.5 290.04L245.69 290.04L246.88 290.05L248.07 290.05L249.26 290.06L250.45 290.06L251.65 290.07L252.84 290.08L254.03 290.09L255.22 290.1L256.41 290.11L257.6 290.13L258.8 290.15L259.99 290.17L261.18 290.2L262.37 290.23L263.56 290.26L264.75 290.3L265.95 290.35L267.14 290.41L268.33 290.48L269.52 290.56L270.71 290.65L271.9 290.76L273.09 290.89L274.29 291.04L275.48 291.21L276.67 291.42L277.86 291.66L279.05 291.94L280.24 292.26L281.44 292.64L282.63 293.08L283.82 293.59L285.01 294.18L286.2 294.86L287.39 295.65L288.59 296.55L289.78 297.58L290.97 298.76L292.16 300.1L293.35 301.61L294.54 303.3L295.74 305.18L296.93 307.27L298.12 309.56L299.31 312.04L300.5 314.72L301.69 317.58L302.89 320.59L304.08 323.72L305.27 326.94L306.46 330.21L307.65 333.5L308.84 336.74L310.03 339.92L311.23 342.98L312.42 345.91L313.61 348.66L314.8 351.23L315.99 353.61L317.18 355.78L318.38 357.75L319.57 359.52L320.76 361.1L321.95 362.51L323.14 363.75L324.33 364.85L325.53 365.8L326.72 366.64L327.91 367.36L329.1 367.99L330.29 368.53" fill="none" stroke="#3fae4f" stroke-width="1.6" stroke-linejoin="round"/>
<path d="M234.96 290.03L236.15 290.03L237.35 290.03L238.54 290.03L239.73 290.03L240.92 290.04L242.11 290.04L243.3 290.04L244.5 290.04L245.69 290.05L246.88 290.05L248.07 290.06L249.26 290.06L250.45 290.07L251.65 290.08L252.84 290.09L254.03 290.1L255.22 290.11L256.41 290.12L257.6 290.14L258.8 290.16L259.99 290.18L261.18 290.21L262.37 290.24L263.56 290.27L264.75 290.31L265.95 290.36L267.14 290.41L268.33 290.47L269.52 290.54L270.71 290.63L271.9 290.72L273.09 290.84L274.29 290.96L275.48 291.11L276.67 291.28L277.86 291.48L279.05 291.71L280.24 291.98L281.44 292.28L282.63 292.63L283.82 293.03L285.01 293.49L286.2 294.02L287.39 294.62L288.59 295.31L289.78 296.09L290.97 296.98L292.16 297.98L293.35 299.11L294.54 300.37L295.74 301.78L296.93 303.35L298.12 305.08L299.31 306.97L300.5 309.04L301.69 311.27L302.89 313.66L304.08 316.2L305.27 318.88L306.46 321.66L307.65 324.54L308.84 327.47L310.03 330.43L311.23 333.38L312.42 336.3L313.61 339.15L314.8 341.9L315.99 344.54L317.18 347.04L318.38 349.38L319.57 351.56L320.76 353.57L321.95 355.42L323.14 357.1L324.33 358.61L325.53 359.98L326.72 361.2L327.91 362.29L329.1 363.25L330.29 364.1" fill="none" stroke="#34488f" stroke-width="1.6" stroke-linejoin="round"/>
<path d="M234.96 294.83L236.15 294.84L237.35 294.85L238.54 294.87L239.73 294.89L240.92 294.91L242.11 294.93L243.3 294.96L244.5 294.99L245.69 295.02L246.88 295.06L248.07 295.1L249.26 295.15L250.45 295.2L251.65 295.26L252.84 295.33L254.03 295.4L255.22 295.49L256.41 295.58L257.6 295.69L258.8 295.81L259.99 295.94L261.18 296.09L262.37 296.26L263.56 296.44L264.75 296.65L265.95 296.89L267.14 297.15L268.33 297.44L269.52 297.77L270.71 298.13L271.9 298.53L273.09 298.98L274.29 299.48L275.48 300.03L276.67 300.64L277.86 301.32L279.05 302.06L280.24 302.88L281.44 303.78L282.63 304.77L283.82 305.84L285.01 307.01L286.2 308.27L287.39 309.64L288.59 311.11L289.78 312.68L290.97 314.35L292.16 316.13L293.35 318L294.54 319.96L295.74 322L296.93 324.12L298.12 326.3L299.31 328.53L300.5 330.8L301.69 333.08L302.89 335.37L304.08 337.65L305.27 339.9L306.46 342.11L307.65 344.26L308.84 346.35L310.03 348.36L311.23 350.28L312.42 352.11L313.61 353.85L314.8 355.48L315.99 357L317.18 358.43L318.38 359.75L319.57 360.97L320.76 362.1L321.95 363.13L323.14 364.08L324.33 364.94L325.53 365.73L326.72 366.44L327.91 367.09L329.1 367.67L330.29 368.2" fill="none" stroke="#e2262b" stroke-width="1.6" stroke-linejoin="round"/>
<path d="M234.96 290.02L236.15 290.02L237.35 290.03L238.54 290.03L239.73 290.03L240.92 290.03L242.11 290.03L243.3 290.03L244.5 290.03L245.69 290.03L246.88 290.03L248.07 290.03L249.26 290.04L250.45 290.04L251.65 290.04L252.84 290.04L254.03 290.04L255.22 290.05L256.41 290.05L257.6 290.05L258.8 290.06L259.99 290.06L261.18 290.07L262.37 290.07L263.56 290.08L264.75 290.09L265.95 290.1L267.14 290.1L268.33 290.11L269.52 290.13L270.71 290.14L271.9 290.15L273.09 290.17L274.29 290.19L275.48 290.2L276.67 290.23L277.86 290.25L279.05 290.28L280.24 290.31L281.44 290.34L282.63 290.38L283.82 290.42L285.01 290.47L286.2 290.52L287.39 290.58L288.59 290.64L289.78 290.72L290.97 290.8L292.16 290.89L293.35 290.99L294.54 291.1L295.74 291.23L296.93 291.37L298.12 291.53L299.31 291.7L300.5 291.89L301.69 292.11L302.89 292.35L304.08 292.61L305.27 292.91L306.46 293.24L307.65 293.6L308.84 294L310.03 294.45L311.23 294.94L312.42 295.49L313.61 296.09L314.8 296.75L315.99 297.48L317.18 298.27L318.38 299.15L319.57 300.1L320.76 301.15L321.95 302.28L323.14 303.51L324.33 304.84L325.53 306.27L326.72 307.81L327.91 309.45L329.1 311.21L330.29 313.07" fill="none" stroke="#111" stroke-width="1.6" stroke-linejoin="round"/>
<line x1="234.96" y1="287.2" x2="234.96" y2="292.84" stroke="#3fae4f" stroke-width="0.9"/>
<line x1="233.36" y1="287.2" x2="236.56" y2="287.2" stroke="#3fae4f" stroke-width="0.9"/>
<line x1="233.36" y1="292.84" x2="236.56" y2="292.84" stroke="#3fae4f" stroke-width="0.9"/>
<path d="M234.96 287.12L237.86 292.34L232.06 292.34Z" fill="#3fae4f" stroke="none" stroke-width="1"/>
<line x1="245.56" y1="279.68" x2="245.56" y2="294.72" stroke="#3fae4f" stroke-width="0.9"/>
<line x1="243.96" y1="279.68" x2="247.16" y2="279.68" stroke="#3fae4f" stroke-width="0.9"/>
<line x1="243.96" y1="294.72" x2="247.16" y2="294.72" stroke="#3fae4f" stroke-width="0.9"/>
<path d="M245.56 284.3L248.46 289.52L242.66 289.52Z" fill="#3fae4f" stroke="none" stroke-width="1"/>
<line x1="256.15" y1="283.44" x2="256.15" y2="294.72" stroke="#3fae4f" stroke-width="0.9"/>
<line x1="254.55" y1="283.44" x2="257.75" y2="283.44" stroke="#3fae4f" stroke-width="0.9"/>
<line x1="254.55" y1="294.72" x2="257.75" y2="294.72" stroke="#3fae4f" stroke-width="0.9"/>
<path d="M256.15 286.18L259.05 291.4L253.25 291.4Z" fill="#3fae4f" stroke="none" stroke-width="1"/>
<line x1="266.74" y1="282.5" x2="266.74" y2="297.54" stroke="#3fae4f" stroke-width="0.9"/>
<line x1="265.14" y1="282.5" x2="268.34" y2="282.5" stroke="#3fae4f" stroke-width="0.9"/>
<line x1="265.14" y1="297.54" x2="268.34" y2="297.54" stroke="#3fae4f" stroke-width="0.9"/>
<path d="M266.74 287.12L269.64 292.34L263.84 292.34Z" fill="#3fae4f" stroke="none" stroke-width="1"/>
<line x1="277.33" y1="283.44" x2="277.33" y2="298.48" stroke="#3fae4f" stroke-width="0.9"/>
<line x1="275.73" y1="283.44" x2="278.93" y2="283.44" stroke="#3fae4f" stroke-width="0.9"/>
<line x1="275.73" y1="298.48" x2="278.93" y2="298.48" stroke="#3fae4f" stroke-width="0.9"/>
<path d="M277.33 288.06L280.23 293.28L274.43 293.28Z" fill="#3fae4f" stroke="none" stroke-width="1"/>
<line x1="287.92" y1="290.02" x2="287.92" y2="299.42" stroke="#3fae4f" stroke-width="0.9"/>
<line x1="286.32" y1="290.02" x2="289.52" y2="290.02" stroke="#3fae4f" stroke-width="0.9"/>
<line x1="286.32" y1="299.42" x2="289.52" y2="299.42" stroke="#3fae4f" stroke-width="0.9"/>
<path d="M287.92 291.82L290.82 297.04L285.02 297.04Z" fill="#3fae4f" stroke="none" stroke-width="1"/>
<line x1="298.52" y1="300.36" x2="298.52" y2="311.64" stroke="#3fae4f" stroke-width="0.9"/>
<line x1="296.92" y1="300.36" x2="300.12" y2="300.36" stroke="#3fae4f" stroke-width="0.9"/>
<line x1="296.92" y1="311.64" x2="300.12" y2="311.64" stroke="#3fae4f" stroke-width="0.9"/>
<path d="M298.52 303.1L301.42 308.32L295.62 308.32Z" fill="#3fae4f" stroke="none" stroke-width="1"/>
<line x1="309.11" y1="336.08" x2="309.11" y2="343.6" stroke="#3fae4f" stroke-width="0.9"/>
<line x1="307.51" y1="336.08" x2="310.71" y2="336.08" stroke="#3fae4f" stroke-width="0.9"/>
<line x1="307.51" y1="343.6" x2="310.71" y2="343.6" stroke="#3fae4f" stroke-width="0.9"/>
<path d="M309.11 336.94L312.01 342.16L306.21 342.16Z" fill="#3fae4f" stroke="none" stroke-width="1"/>
<line x1="319.7" y1="353.38" x2="319.7" y2="359.02" stroke="#3fae4f" stroke-width="0.9"/>
<line x1="318.1" y1="353.38" x2="321.3" y2="353.38" stroke="#3fae4f" stroke-width="0.9"/>
<line x1="318.1" y1="359.02" x2="321.3" y2="359.02" stroke="#3fae4f" stroke-width="0.9"/>
<path d="M319.7 353.3L322.6 358.52L316.8 358.52Z" fill="#3fae4f" stroke="none" stroke-width="1"/>
<line x1="330.29" y1="365.22" x2="330.29" y2="368.98" stroke="#3fae4f" stroke-width="0.9"/>
<line x1="328.69" y1="365.22" x2="331.89" y2="365.22" stroke="#3fae4f" stroke-width="0.9"/>
<line x1="328.69" y1="368.98" x2="331.89" y2="368.98" stroke="#3fae4f" stroke-width="0.9"/>
<path d="M330.29 364.2L333.19 369.42L327.39 369.42Z" fill="#3fae4f" stroke="none" stroke-width="1"/>
<line x1="234.96" y1="283.44" x2="234.96" y2="290.96" stroke="#34488f" stroke-width="0.9"/>
<line x1="233.36" y1="283.44" x2="236.56" y2="283.44" stroke="#34488f" stroke-width="0.9"/>
<line x1="233.36" y1="290.96" x2="236.56" y2="290.96" stroke="#34488f" stroke-width="0.9"/>
<path d="M234.96 284.4L237.76 287.2L234.96 290L232.16 287.2Z" fill="#34488f" stroke="none" stroke-width="1"/>
<line x1="245.56" y1="287.2" x2="245.56" y2="292.84" stroke="#34488f" stroke-width="0.9"/>
<line x1="243.96" y1="287.2" x2="247.16" y2="287.2" stroke="#34488f" stroke-width="0.9"/>
<line x1="243.96" y1="292.84" x2="247.16" y2="292.84" stroke="#34488f" stroke-width="0.9"/>
<path d="M245.56 287.22L248.36 290.02L245.56 292.82L242.76 290.02Z" fill="#34488f" stroke="none" stroke-width="1"/>
<line x1="256.15" y1="287.2" x2="256.15" y2="292.84" stroke="#34488f" stroke-width="0.9"/>
<line x1="254.55" y1="287.2" x2="257.75" y2="287.2" stroke="#34488f" stroke-width="0.9"/>
<line x1="254.55" y1="292.84" x2="257.75" y2="292.84" stroke="#34488f" stroke-width="0.9"/>
<path d="M256.15 287.22L258.95 290.02L256.15 292.82L253.35 290.02Z" fill="#34488f" stroke="none" stroke-width="1"/>
<line x1="266.74" y1="288.14" x2="266.74" y2="293.78" stroke="#34488f" stroke-width="0.9"/>
<line x1="265.14" y1="288.14" x2="268.34" y2="288.14" stroke="#34488f" stroke-width="0.9"/>
<line x1="265.14" y1="293.78" x2="268.34" y2="293.78" stroke="#34488f" stroke-width="0.9"/>
<path d="M266.74 288.16L269.54 290.96L266.74 293.76L263.94 290.96Z" fill="#34488f" stroke="none" stroke-width="1"/>
<line x1="277.33" y1="289.08" x2="277.33" y2="294.72" stroke="#34488f" stroke-width="0.9"/>
<line x1="275.73" y1="289.08" x2="278.93" y2="289.08" stroke="#34488f" stroke-width="0.9"/>
<line x1="275.73" y1="294.72" x2="278.93" y2="294.72" stroke="#34488f" stroke-width="0.9"/>
<path d="M277.33 289.1L280.13 291.9L277.33 294.7L274.53 291.9Z" fill="#34488f" stroke="none" stroke-width="1"/>
<line x1="287.92" y1="290.96" x2="287.92" y2="296.6" stroke="#34488f" stroke-width="0.9"/>
<line x1="286.32" y1="290.96" x2="289.52" y2="290.96" stroke="#34488f" stroke-width="0.9"/>
<line x1="286.32" y1="296.6" x2="289.52" y2="296.6" stroke="#34488f" stroke-width="0.9"/>
<path d="M287.92 290.98L290.72 293.78L287.92 296.58L285.12 293.78Z" fill="#34488f" stroke="none" stroke-width="1"/>
<line x1="298.52" y1="299.42" x2="298.52" y2="305.06" stroke="#34488f" stroke-width="0.9"/>
<line x1="296.92" y1="299.42" x2="300.12" y2="299.42" stroke="#34488f" stroke-width="0.9"/>
<line x1="296.92" y1="305.06" x2="300.12" y2="305.06" stroke="#34488f" stroke-width="0.9"/>
<path d="M298.52 299.44L301.32 302.24L298.52 305.04L295.72 302.24Z" fill="#34488f" stroke="none" stroke-width="1"/>
<line x1="309.11" y1="326.12" x2="309.11" y2="331.76" stroke="#34488f" stroke-width="0.9"/>
<line x1="307.51" y1="326.12" x2="310.71" y2="326.12" stroke="#34488f" stroke-width="0.9"/>
<line x1="307.51" y1="331.76" x2="310.71" y2="331.76" stroke="#34488f" stroke-width="0.9"/>
<path d="M309.11 326.14L311.91 328.94L309.11 331.74L306.31 328.94Z" fill="#34488f" stroke="none" stroke-width="1"/>
<line x1="319.7" y1="347.64" x2="319.7" y2="353.28" stroke="#34488f" stroke-width="0.9"/>
<line x1="318.1" y1="347.64" x2="321.3" y2="347.64" stroke="#34488f" stroke-width="0.9"/>
<line x1="318.1" y1="353.28" x2="321.3" y2="353.28" stroke="#34488f" stroke-width="0.9"/>
<path d="M319.7 347.66L322.5 350.46L319.7 353.26L316.9 350.46Z" fill="#34488f" stroke="none" stroke-width="1"/>
<line x1="330.29" y1="360.52" x2="330.29" y2="364.28" stroke="#34488f" stroke-width="0.9"/>
<line x1="328.69" y1="360.52" x2="331.89" y2="360.52" stroke="#34488f" stroke-width="0.9"/>
<line x1="328.69" y1="364.28" x2="331.89" y2="364.28" stroke="#34488f" stroke-width="0.9"/>
<path d="M330.29 359.6L333.09 362.4L330.29 365.2L327.49 362.4Z" fill="#34488f" stroke="none" stroke-width="1"/>
<line x1="234.96" y1="294.72" x2="234.96" y2="317.28" stroke="#e2262b" stroke-width="0.9"/>
<line x1="233.36" y1="294.72" x2="236.56" y2="294.72" stroke="#e2262b" stroke-width="0.9"/>
<line x1="233.36" y1="317.28" x2="236.56" y2="317.28" stroke="#e2262b" stroke-width="0.9"/>
<rect x="232.66" y="303.7" width="4.6" height="4.6" fill="#e2262b"/>
<line x1="245.56" y1="292.09" x2="245.56" y2="307.13" stroke="#e2262b" stroke-width="0.9"/>
<line x1="243.96" y1="292.09" x2="247.16" y2="292.09" stroke="#e2262b" stroke-width="0.9"/>
<line x1="243.96" y1="307.13" x2="247.16" y2="307.13" stroke="#e2262b" stroke-width="0.9"/>
<rect x="243.26" y="297.31" width="4.6" height="4.6" fill="#e2262b"/>
<line x1="256.15" y1="271.78" x2="256.15" y2="305.62" stroke="#e2262b" stroke-width="0.9"/>
<line x1="254.55" y1="271.78" x2="257.75" y2="271.78" stroke="#e2262b" stroke-width="0.9"/>
<line x1="254.55" y1="305.62" x2="257.75" y2="305.62" stroke="#e2262b" stroke-width="0.9"/>
<rect x="253.85" y="286.4" width="4.6" height="4.6" fill="#e2262b"/>
<line x1="266.74" y1="269.9" x2="266.74" y2="307.5" stroke="#e2262b" stroke-width="0.9"/>
<line x1="265.14" y1="269.9" x2="268.34" y2="269.9" stroke="#e2262b" stroke-width="0.9"/>
<line x1="265.14" y1="307.5" x2="268.34" y2="307.5" stroke="#e2262b" stroke-width="0.9"/>
<rect x="264.44" y="286.4" width="4.6" height="4.6" fill="#e2262b"/>
<line x1="277.33" y1="304.12" x2="277.33" y2="317.28" stroke="#e2262b" stroke-width="0.9"/>
<line x1="275.73" y1="304.12" x2="278.93" y2="304.12" stroke="#e2262b" stroke-width="0.9"/>
<line x1="275.73" y1="317.28" x2="278.93" y2="317.28" stroke="#e2262b" stroke-width="0.9"/>
<rect x="275.03" y="308.4" width="4.6" height="4.6" fill="#e2262b"/>
<line x1="287.92" y1="308.82" x2="287.92" y2="321.98" stroke="#e2262b" stroke-width="0.9"/>
<line x1="286.32" y1="308.82" x2="289.52" y2="308.82" stroke="#e2262b" stroke-width="0.9"/>
<line x1="286.32" y1="321.98" x2="289.52" y2="321.98" stroke="#e2262b" stroke-width="0.9"/>
<rect x="285.62" y="313.1" width="4.6" height="4.6" fill="#e2262b"/>
<line x1="298.52" y1="320.38" x2="298.52" y2="339.18" stroke="#e2262b" stroke-width="0.9"/>
<line x1="296.92" y1="320.38" x2="300.12" y2="320.38" stroke="#e2262b" stroke-width="0.9"/>
<line x1="296.92" y1="339.18" x2="300.12" y2="339.18" stroke="#e2262b" stroke-width="0.9"/>
<rect x="296.22" y="327.48" width="4.6" height="4.6" fill="#e2262b"/>
<line x1="309.11" y1="341.81" x2="309.11" y2="347.45" stroke="#e2262b" stroke-width="0.9"/>
<line x1="307.51" y1="341.81" x2="310.71" y2="341.81" stroke="#e2262b" stroke-width="0.9"/>
<line x1="307.51" y1="347.45" x2="310.71" y2="347.45" stroke="#e2262b" stroke-width="0.9"/>
<rect x="306.81" y="342.33" width="4.6" height="4.6" fill="#e2262b"/>
<line x1="319.7" y1="359.11" x2="319.7" y2="362.87" stroke="#e2262b" stroke-width="0.9"/>
<line x1="318.1" y1="359.11" x2="321.3" y2="359.11" stroke="#e2262b" stroke-width="0.9"/>
<line x1="318.1" y1="362.87" x2="321.3" y2="362.87" stroke="#e2262b" stroke-width="0.9"/>
<rect x="317.4" y="358.69" width="4.6" height="4.6" fill="#e2262b"/>
<line x1="330.29" y1="365.78" x2="330.29" y2="373.3" stroke="#e2262b" stroke-width="0.9"/>
<line x1="328.69" y1="365.78" x2="331.89" y2="365.78" stroke="#e2262b" stroke-width="0.9"/>
<line x1="328.69" y1="373.3" x2="331.89" y2="373.3" stroke="#e2262b" stroke-width="0.9"/>
<rect x="327.99" y="367.24" width="4.6" height="4.6" fill="#e2262b"/>
<line x1="234.96" y1="291.9" x2="234.96" y2="297.54" stroke="#111" stroke-width="0.9"/>
<line x1="233.36" y1="291.9" x2="236.56" y2="291.9" stroke="#111" stroke-width="0.9"/>
<line x1="233.36" y1="297.54" x2="236.56" y2="297.54" stroke="#111" stroke-width="0.9"/>
<circle cx="234.96" cy="294.72" r="2.4" fill="#111" stroke="none" stroke-width="1"/>
<line x1="245.56" y1="284.57" x2="245.56" y2="290.21" stroke="#111" stroke-width="0.9"/>
<line x1="243.96" y1="284.57" x2="247.16" y2="284.57" stroke="#111" stroke-width="0.9"/>
<line x1="243.96" y1="290.21" x2="247.16" y2="290.21" stroke="#111" stroke-width="0.9"/>
<circle cx="245.56" cy="287.39" r="2.4" fill="#111" stroke="none" stroke-width="1"/>
<line x1="256.15" y1="286.26" x2="256.15" y2="291.9" stroke="#111" stroke-width="0.9"/>
<line x1="254.55" y1="286.26" x2="257.75" y2="286.26" stroke="#111" stroke-width="0.9"/>
<line x1="254.55" y1="291.9" x2="257.75" y2="291.9" stroke="#111" stroke-width="0.9"/>
<circle cx="256.15" cy="289.08" r="2.4" fill="#111" stroke="none" stroke-width="1"/>
<line x1="266.74" y1="287.76" x2="266.74" y2="293.4" stroke="#111" stroke-width="0.9"/>
<line x1="265.14" y1="287.76" x2="268.34" y2="287.76" stroke="#111" stroke-width="0.9"/>
<line x1="265.14" y1="293.4" x2="268.34" y2="293.4" stroke="#111" stroke-width="0.9"/>
<circle cx="266.74" cy="290.58" r="2.4" fill="#111" stroke="none" stroke-width="1"/>
<line x1="277.33" y1="289.55" x2="277.33" y2="295.19" stroke="#111" stroke-width="0.9"/>
<line x1="275.73" y1="289.55" x2="278.93" y2="289.55" stroke="#111" stroke-width="0.9"/>
<line x1="275.73" y1="295.19" x2="278.93" y2="295.19" stroke="#111" stroke-width="0.9"/>
<circle cx="277.33" cy="292.37" r="2.4" fill="#111" stroke="none" stroke-width="1"/>
<line x1="287.92" y1="289.55" x2="287.92" y2="295.19" stroke="#111" stroke-width="0.9"/>
<line x1="286.32" y1="289.55" x2="289.52" y2="289.55" stroke="#111" stroke-width="0.9"/>
<line x1="286.32" y1="295.19" x2="289.52" y2="295.19" stroke="#111" stroke-width="0.9"/>
<circle cx="287.92" cy="292.37" r="2.4" fill="#111" stroke="none" stroke-width="1"/>
<line x1="298.52" y1="290.96" x2="298.52" y2="298.48" stroke="#111" stroke-width="0.9"/>
<line x1="296.92" y1="290.96" x2="300.12" y2="290.96" stroke="#111" stroke-width="0.9"/>
<line x1="296.92" y1="298.48" x2="300.12" y2="298.48" stroke="#111" stroke-width="0.9"/>
<circle cx="298.52" cy="294.72" r="2.4" fill="#111" stroke="none" stroke-width="1"/>
<line x1="309.11" y1="294.72" x2="309.11" y2="302.24" stroke="#111" stroke-width="0.9"/>
<line x1="307.51" y1="294.72" x2="310.71" y2="294.72" stroke="#111" stroke-width="0.9"/>
<line x1="307.51" y1="302.24" x2="310.71" y2="302.24" stroke="#111" stroke-width="0.9"/>
<circle cx="309.11" cy="298.48" r="2.4" fill="#111" stroke="none" stroke-width="1"/>
<line x1="319.7" y1="300.36" x2="319.7" y2="307.88" stroke="#111" stroke-width="0.9"/>
<line x1="318.1" y1="300.36" x2="321.3" y2="300.36" stroke="#111" stroke-width="0.9"/>
<line x1="318.1" y1="307.88" x2="321.3" y2="307.88" stroke="#111" stroke-width="0.9"/>
<circle cx="319.7" cy="304.12" r="2.4" fill="#111" stroke="none" stroke-width="1"/>
<line x1="330.29" y1="312.11" x2="330.29" y2="313.99" stroke="#111" stroke-width="0.9"/>
<line x1="328.69" y1="312.11" x2="331.89" y2="312.11" stroke="#111" stroke-width="0.9"/>
<line x1="328.69" y1="313.99" x2="331.89" y2="313.99" stroke="#111" stroke-width="0.9"/>
<circle cx="330.29" cy="313.05" r="2.4" fill="#111" stroke="none" stroke-width="1"/>
<line x1="230.9" y1="267.46" x2="230.9" y2="382.6" stroke="#000" stroke-width="1.6"/>
<line x1="230.1" y1="381.8" x2="342.4" y2="381.8" stroke="#000" stroke-width="1.8"/>
<line x1="228.4" y1="381.2" x2="230.9" y2="381.2" stroke="#000" stroke-width="1.1"/>
<text x="228.7" y="384.26" font-size="8.5" font-weight="bold" text-anchor="end">0</text>
<line x1="228.4" y1="362.4" x2="230.9" y2="362.4" stroke="#000" stroke-width="1.1"/>
<text x="228.7" y="365.46" font-size="8.5" font-weight="bold" text-anchor="end">20</text>
<line x1="228.4" y1="343.6" x2="230.9" y2="343.6" stroke="#000" stroke-width="1.1"/>
<text x="228.7" y="346.66" font-size="8.5" font-weight="bold" text-anchor="end">40</text>
<line x1="228.4" y1="334.2" x2="230.9" y2="334.2" stroke="#000" stroke-width="1.1"/>
<text x="228.7" y="337.26" font-size="8.5" font-weight="bold" text-anchor="end">50</text>
<line x1="228.4" y1="324.8" x2="230.9" y2="324.8" stroke="#000" stroke-width="1.1"/>
<text x="228.7" y="327.86" font-size="8.5" font-weight="bold" text-anchor="end">60</text>
<line x1="228.4" y1="306" x2="230.9" y2="306" stroke="#000" stroke-width="1.1"/>
<text x="228.7" y="309.06" font-size="8.5" font-weight="bold" text-anchor="end">80</text>
<line x1="228.4" y1="287.2" x2="230.9" y2="287.2" stroke="#000" stroke-width="1.1"/>
<text x="228.7" y="290.26" font-size="8.5" font-weight="bold" text-anchor="end">100</text>
<line x1="228.4" y1="268.4" x2="230.9" y2="268.4" stroke="#000" stroke-width="1.1"/>
<text x="228.7" y="271.46" font-size="8.5" font-weight="bold" text-anchor="end">120</text>
<line x1="230.9" y1="381.8" x2="230.9" y2="384.3" stroke="#000" stroke-width="1.1"/>
<text x="230.9" y="392.3" font-size="8.5" font-weight="bold" text-anchor="middle">0.001</text>
<line x1="253.1" y1="381.8" x2="253.1" y2="384.3" stroke="#000" stroke-width="1.1"/>
<text x="253.1" y="392.3" font-size="8.5" font-weight="bold" text-anchor="middle">0.01</text>
<line x1="275.3" y1="381.8" x2="275.3" y2="384.3" stroke="#000" stroke-width="1.1"/>
<text x="275.3" y="392.3" font-size="8.5" font-weight="bold" text-anchor="middle">0.1</text>
<line x1="297.5" y1="381.8" x2="297.5" y2="384.3" stroke="#000" stroke-width="1.1"/>
<text x="297.5" y="392.3" font-size="8.5" font-weight="bold" text-anchor="middle">1</text>
<line x1="319.7" y1="381.8" x2="319.7" y2="384.3" stroke="#000" stroke-width="1.1"/>
<text x="319.7" y="392.3" font-size="8.5" font-weight="bold" text-anchor="middle">10</text>
<line x1="341.9" y1="381.8" x2="341.9" y2="384.3" stroke="#000" stroke-width="1.1"/>
<text x="341.9" y="392.3" font-size="8.5" font-weight="bold" text-anchor="middle">100</text>
<line x1="386.5" y1="339.79" x2="496.75" y2="339.79" stroke="#7cc88a" stroke-width="1" stroke-dasharray="1.2,0.8"/>
<line x1="386.5" y1="354.75" x2="496.75" y2="354.75" stroke="#6a76b0" stroke-width="1" stroke-dasharray="1.2,0.8"/>
<line x1="386.5" y1="368.96" x2="496.75" y2="368.96" stroke="#333" stroke-width="1" stroke-dasharray="1.2,0.8"/>
<line x1="386.5" y1="333.35" x2="496.75" y2="333.35" stroke="#222" stroke-width="1.1" stroke-dasharray="1.4,1.1"/>
<path d="M389.55 304.96L390.74 304.96L391.93 304.97L393.12 304.97L394.31 304.98L395.5 304.98L396.69 304.99L397.88 304.99L399.07 305L400.25 305.01L401.44 305.02L402.63 305.03L403.82 305.05L405.01 305.06L406.2 305.08L407.39 305.1L408.58 305.12L409.77 305.15L410.95 305.18L412.14 305.21L413.33 305.25L414.52 305.3L415.71 305.35L416.9 305.41L418.09 305.48L419.28 305.56L420.47 305.65L421.66 305.75L422.84 305.86L424.03 306L425.22 306.15L426.41 306.32L427.6 306.52L428.79 306.74L429.98 306.99L431.17 307.28L432.36 307.61L433.54 307.98L434.73 308.4L435.92 308.87L437.11 309.4L438.3 310L439.49 310.68L440.68 311.43L441.87 312.27L443.06 313.2L444.24 314.23L445.43 315.37L446.62 316.61L447.81 317.98L449 319.45L450.19 321.05L451.38 322.75L452.57 324.57L453.76 326.48L454.95 328.49L456.13 330.57L457.32 332.72L458.51 334.91L459.7 337.12L460.89 339.34L462.08 341.55L463.27 343.71L464.46 345.83L465.65 347.87L466.83 349.83L468.02 351.69L469.21 353.44L470.4 355.08L471.59 356.61L472.78 358.02L473.97 359.32L475.16 360.51L476.35 361.58L477.53 362.56L478.72 363.44L479.91 364.23L481.1 364.93L482.29 365.56L483.48 366.13L484.67 366.62" fill="none" stroke="#3fae4f" stroke-width="1.6" stroke-linejoin="round"/>
<path d="M389.55 289.81L390.74 289.81L391.93 289.81L393.12 289.82L394.31 289.82L395.5 289.82L396.69 289.83L397.88 289.84L399.07 289.85L400.25 289.85L401.44 289.87L402.63 289.88L403.82 289.89L405.01 289.91L406.2 289.93L407.39 289.95L408.58 289.98L409.77 290.01L410.95 290.04L412.14 290.08L413.33 290.13L414.52 290.18L415.71 290.24L416.9 290.32L418.09 290.4L419.28 290.5L420.47 290.61L421.66 290.74L422.84 290.88L424.03 291.06L425.22 291.25L426.41 291.48L427.6 291.74L428.79 292.04L429.98 292.39L431.17 292.78L432.36 293.23L433.54 293.74L434.73 294.32L435.92 294.98L437.11 295.73L438.3 296.57L439.49 297.51L440.68 298.55L441.87 299.71L443.06 300.99L444.24 302.39L445.43 303.92L446.62 305.56L447.81 307.32L449 309.18L450.19 311.13L451.38 313.16L452.57 315.25L453.76 317.38L454.95 319.52L456.13 321.65L457.32 323.75L458.51 325.8L459.7 327.77L460.89 329.65L462.08 331.43L463.27 333.1L464.46 334.64L465.65 336.07L466.83 337.37L468.02 338.56L469.21 339.63L470.4 340.59L471.59 341.45L472.78 342.21L473.97 342.89L475.16 343.49L476.35 344.01L477.53 344.48L478.72 344.88L479.91 345.23L481.1 345.54L482.29 345.81L483.48 346.05L484.67 346.25" fill="none" stroke="#34488f" stroke-width="1.6" stroke-linejoin="round"/>
<path d="M389.55 289.87L390.74 289.88L391.93 289.89L393.12 289.9L394.31 289.91L395.5 289.92L396.69 289.93L397.88 289.94L399.07 289.96L400.25 289.97L401.44 289.99L402.63 290.01L403.82 290.03L405.01 290.05L406.2 290.07L407.39 290.1L408.58 290.13L409.77 290.16L410.95 290.19L412.14 290.23L413.33 290.27L414.52 290.31L415.71 290.36L416.9 290.41L418.09 290.47L419.28 290.53L420.47 290.59L421.66 290.67L422.84 290.74L424.03 290.83L425.22 290.92L426.41 291.02L427.6 291.13L428.79 291.25L429.98 291.38L431.17 291.53L432.36 291.68L433.54 291.85L434.73 292.03L435.92 292.22L437.11 292.44L438.3 292.67L439.49 292.92L440.68 293.19L441.87 293.49L443.06 293.81L444.24 294.15L445.43 294.53L446.62 294.93L447.81 295.37L449 295.84L450.19 296.35L451.38 296.89L452.57 297.48L453.76 298.11L454.95 298.79L456.13 299.52L457.32 300.29L458.51 301.13L459.7 302.01L460.89 302.96L462.08 303.96L463.27 305.03L464.46 306.16L465.65 307.35L466.83 308.61L468.02 309.93L469.21 311.32L470.4 312.78L471.59 314.29L472.78 315.87L473.97 317.51L475.16 319.21L476.35 320.95L477.53 322.75L478.72 324.59L479.91 326.46L481.1 328.37L482.29 330.3L483.48 332.26L484.67 334.22" fill="none" stroke="#111" stroke-width="1.6" stroke-linejoin="round"/>
<line x1="389.55" y1="307.78" x2="389.55" y2="322.93" stroke="#3fae4f" stroke-width="0.9"/>
<line x1="387.95" y1="307.78" x2="391.15" y2="307.78" stroke="#3fae4f" stroke-width="0.9"/>
<line x1="387.95" y1="322.93" x2="391.15" y2="322.93" stroke="#3fae4f" stroke-width="0.9"/>
<path d="M389.55 312.46L392.45 317.68L386.65 317.68Z" fill="#3fae4f" stroke="none" stroke-width="1"/>
<line x1="400.12" y1="291.68" x2="400.12" y2="306.83" stroke="#3fae4f" stroke-width="0.9"/>
<line x1="398.52" y1="291.68" x2="401.72" y2="291.68" stroke="#3fae4f" stroke-width="0.9"/>
<line x1="398.52" y1="306.83" x2="401.72" y2="306.83" stroke="#3fae4f" stroke-width="0.9"/>
<path d="M400.12 296.36L403.02 301.58L397.22 301.58Z" fill="#3fae4f" stroke="none" stroke-width="1"/>
<line x1="410.69" y1="298.31" x2="410.69" y2="317.25" stroke="#3fae4f" stroke-width="0.9"/>
<line x1="409.09" y1="298.31" x2="412.29" y2="298.31" stroke="#3fae4f" stroke-width="0.9"/>
<line x1="409.09" y1="317.25" x2="412.29" y2="317.25" stroke="#3fae4f" stroke-width="0.9"/>
<path d="M410.69 304.88L413.59 310.1L407.79 310.1Z" fill="#3fae4f" stroke="none" stroke-width="1"/>
<line x1="421.26" y1="292.63" x2="421.26" y2="319.14" stroke="#3fae4f" stroke-width="0.9"/>
<line x1="419.66" y1="292.63" x2="422.86" y2="292.63" stroke="#3fae4f" stroke-width="0.9"/>
<line x1="419.66" y1="319.14" x2="422.86" y2="319.14" stroke="#3fae4f" stroke-width="0.9"/>
<path d="M421.26 302.99L424.16 308.21L418.36 308.21Z" fill="#3fae4f" stroke="none" stroke-width="1"/>
<line x1="431.83" y1="299.26" x2="431.83" y2="310.62" stroke="#3fae4f" stroke-width="0.9"/>
<line x1="430.23" y1="299.26" x2="433.43" y2="299.26" stroke="#3fae4f" stroke-width="0.9"/>
<line x1="430.23" y1="310.62" x2="433.43" y2="310.62" stroke="#3fae4f" stroke-width="0.9"/>
<path d="M431.83 302.04L434.73 307.26L428.93 307.26Z" fill="#3fae4f" stroke="none" stroke-width="1"/>
<line x1="442.4" y1="298.31" x2="442.4" y2="322.93" stroke="#3fae4f" stroke-width="0.9"/>
<line x1="440.8" y1="298.31" x2="444" y2="298.31" stroke="#3fae4f" stroke-width="0.9"/>
<line x1="440.8" y1="322.93" x2="444" y2="322.93" stroke="#3fae4f" stroke-width="0.9"/>
<path d="M442.4 307.72L445.3 312.94L439.5 312.94Z" fill="#3fae4f" stroke="none" stroke-width="1"/>
<line x1="452.96" y1="312.04" x2="452.96" y2="346.13" stroke="#3fae4f" stroke-width="0.9"/>
<line x1="451.36" y1="312.04" x2="454.56" y2="312.04" stroke="#3fae4f" stroke-width="0.9"/>
<line x1="451.36" y1="346.13" x2="454.56" y2="346.13" stroke="#3fae4f" stroke-width="0.9"/>
<path d="M452.96 326.19L455.86 331.41L450.06 331.41Z" fill="#3fae4f" stroke="none" stroke-width="1"/>
<line x1="463.53" y1="339.98" x2="463.53" y2="345.66" stroke="#3fae4f" stroke-width="0.9"/>
<line x1="461.93" y1="339.98" x2="465.13" y2="339.98" stroke="#3fae4f" stroke-width="0.9"/>
<line x1="461.93" y1="345.66" x2="465.13" y2="345.66" stroke="#3fae4f" stroke-width="0.9"/>
<path d="M463.53 339.92L466.43 345.14L460.63 345.14Z" fill="#3fae4f" stroke="none" stroke-width="1"/>
<line x1="474.1" y1="351.34" x2="474.1" y2="355.13" stroke="#3fae4f" stroke-width="0.9"/>
<line x1="472.5" y1="351.34" x2="475.7" y2="351.34" stroke="#3fae4f" stroke-width="0.9"/>
<line x1="472.5" y1="355.13" x2="475.7" y2="355.13" stroke="#3fae4f" stroke-width="0.9"/>
<path d="M474.1 350.34L477 355.56L471.2 355.56Z" fill="#3fae4f" stroke="none" stroke-width="1"/>
<line x1="484.67" y1="358.92" x2="484.67" y2="364.6" stroke="#3fae4f" stroke-width="0.9"/>
<line x1="483.07" y1="358.92" x2="486.27" y2="358.92" stroke="#3fae4f" stroke-width="0.9"/>
<line x1="483.07" y1="364.6" x2="486.27" y2="364.6" stroke="#3fae4f" stroke-width="0.9"/>
<path d="M484.67 358.86L487.57 364.08L481.77 364.08Z" fill="#3fae4f" stroke="none" stroke-width="1"/>
<line x1="389.55" y1="286.95" x2="389.55" y2="292.63" stroke="#34488f" stroke-width="0.9"/>
<line x1="387.95" y1="286.95" x2="391.15" y2="286.95" stroke="#34488f" stroke-width="0.9"/>
<line x1="387.95" y1="292.63" x2="391.15" y2="292.63" stroke="#34488f" stroke-width="0.9"/>
<path d="M389.55 286.99L392.35 289.79L389.55 292.59L386.75 289.79Z" fill="#34488f" stroke="none" stroke-width="1"/>
<line x1="400.12" y1="286" x2="400.12" y2="291.68" stroke="#34488f" stroke-width="0.9"/>
<line x1="398.52" y1="286" x2="401.72" y2="286" stroke="#34488f" stroke-width="0.9"/>
<line x1="398.52" y1="291.68" x2="401.72" y2="291.68" stroke="#34488f" stroke-width="0.9"/>
<path d="M400.12 286.04L402.92 288.84L400.12 291.64L397.32 288.84Z" fill="#34488f" stroke="none" stroke-width="1"/>
<line x1="410.69" y1="287.89" x2="410.69" y2="291.68" stroke="#34488f" stroke-width="0.9"/>
<line x1="409.09" y1="287.89" x2="412.29" y2="287.89" stroke="#34488f" stroke-width="0.9"/>
<line x1="409.09" y1="291.68" x2="412.29" y2="291.68" stroke="#34488f" stroke-width="0.9"/>
<path d="M410.69 286.99L413.49 289.79L410.69 292.59L407.89 289.79Z" fill="#34488f" stroke="none" stroke-width="1"/>
<line x1="421.26" y1="287.89" x2="421.26" y2="293.58" stroke="#34488f" stroke-width="0.9"/>
<line x1="419.66" y1="287.89" x2="422.86" y2="287.89" stroke="#34488f" stroke-width="0.9"/>
<line x1="419.66" y1="293.58" x2="422.86" y2="293.58" stroke="#34488f" stroke-width="0.9"/>
<path d="M421.26 287.94L424.06 290.74L421.26 293.54L418.46 290.74Z" fill="#34488f" stroke="none" stroke-width="1"/>
<line x1="431.83" y1="296.7" x2="431.83" y2="302.38" stroke="#34488f" stroke-width="0.9"/>
<line x1="430.23" y1="296.7" x2="433.43" y2="296.7" stroke="#34488f" stroke-width="0.9"/>
<line x1="430.23" y1="302.38" x2="433.43" y2="302.38" stroke="#34488f" stroke-width="0.9"/>
<path d="M431.83 296.74L434.63 299.54L431.83 302.34L429.03 299.54Z" fill="#34488f" stroke="none" stroke-width="1"/>
<line x1="442.4" y1="298.31" x2="442.4" y2="303.99" stroke="#34488f" stroke-width="0.9"/>
<line x1="440.8" y1="298.31" x2="444" y2="298.31" stroke="#34488f" stroke-width="0.9"/>
<line x1="440.8" y1="303.99" x2="444" y2="303.99" stroke="#34488f" stroke-width="0.9"/>
<path d="M442.4 298.35L445.2 301.15L442.4 303.95L439.6 301.15Z" fill="#34488f" stroke="none" stroke-width="1"/>
<line x1="452.96" y1="317.63" x2="452.96" y2="323.31" stroke="#34488f" stroke-width="0.9"/>
<line x1="451.36" y1="317.63" x2="454.56" y2="317.63" stroke="#34488f" stroke-width="0.9"/>
<line x1="451.36" y1="323.31" x2="454.56" y2="323.31" stroke="#34488f" stroke-width="0.9"/>
<path d="M452.96 317.67L455.76 320.47L452.96 323.27L450.16 320.47Z" fill="#34488f" stroke="none" stroke-width="1"/>
<line x1="463.53" y1="330.51" x2="463.53" y2="336.19" stroke="#34488f" stroke-width="0.9"/>
<line x1="461.93" y1="330.51" x2="465.13" y2="330.51" stroke="#34488f" stroke-width="0.9"/>
<line x1="461.93" y1="336.19" x2="465.13" y2="336.19" stroke="#34488f" stroke-width="0.9"/>
<path d="M463.53 330.55L466.33 333.35L463.53 336.15L460.73 333.35Z" fill="#34488f" stroke="none" stroke-width="1"/>
<line x1="474.1" y1="336.19" x2="474.1" y2="341.87" stroke="#34488f" stroke-width="0.9"/>
<line x1="472.5" y1="336.19" x2="475.7" y2="336.19" stroke="#34488f" stroke-width="0.9"/>
<line x1="472.5" y1="341.87" x2="475.7" y2="341.87" stroke="#34488f" stroke-width="0.9"/>
<path d="M474.1 336.23L476.9 339.03L474.1 341.83L471.3 339.03Z" fill="#34488f" stroke="none" stroke-width="1"/>
<line x1="484.67" y1="350.4" x2="484.67" y2="352.29" stroke="#34488f" stroke-width="0.9"/>
<line x1="483.07" y1="350.4" x2="486.27" y2="350.4" stroke="#34488f" stroke-width="0.9"/>
<line x1="483.07" y1="352.29" x2="486.27" y2="352.29" stroke="#34488f" stroke-width="0.9"/>
<path d="M484.67 348.54L487.47 351.34L484.67 354.14L481.87 351.34Z" fill="#34488f" stroke="none" stroke-width="1"/>
<line x1="389.55" y1="282.21" x2="389.55" y2="289.79" stroke="#111" stroke-width="0.9"/>
<line x1="387.95" y1="282.21" x2="391.15" y2="282.21" stroke="#111" stroke-width="0.9"/>
<line x1="387.95" y1="289.79" x2="391.15" y2="289.79" stroke="#111" stroke-width="0.9"/>
<circle cx="389.55" cy="286" r="2.4" fill="#111" stroke="none" stroke-width="1"/>
<line x1="400.12" y1="282.21" x2="400.12" y2="291.68" stroke="#111" stroke-width="0.9"/>
<line x1="398.52" y1="282.21" x2="401.72" y2="282.21" stroke="#111" stroke-width="0.9"/>
<line x1="398.52" y1="291.68" x2="401.72" y2="291.68" stroke="#111" stroke-width="0.9"/>
<circle cx="400.12" cy="286.95" r="2.4" fill="#111" stroke="none" stroke-width="1"/>
<line x1="410.69" y1="287.89" x2="410.69" y2="293.58" stroke="#111" stroke-width="0.9"/>
<line x1="409.09" y1="287.89" x2="412.29" y2="287.89" stroke="#111" stroke-width="0.9"/>
<line x1="409.09" y1="293.58" x2="412.29" y2="293.58" stroke="#111" stroke-width="0.9"/>
<circle cx="410.69" cy="290.74" r="2.4" fill="#111" stroke="none" stroke-width="1"/>
<line x1="421.26" y1="286.47" x2="421.26" y2="297.84" stroke="#111" stroke-width="0.9"/>
<line x1="419.66" y1="286.47" x2="422.86" y2="286.47" stroke="#111" stroke-width="0.9"/>
<line x1="419.66" y1="297.84" x2="422.86" y2="297.84" stroke="#111" stroke-width="0.9"/>
<circle cx="421.26" cy="292.16" r="2.4" fill="#111" stroke="none" stroke-width="1"/>
<line x1="431.83" y1="286.95" x2="431.83" y2="294.52" stroke="#111" stroke-width="0.9"/>
<line x1="430.23" y1="286.95" x2="433.43" y2="286.95" stroke="#111" stroke-width="0.9"/>
<line x1="430.23" y1="294.52" x2="433.43" y2="294.52" stroke="#111" stroke-width="0.9"/>
<circle cx="431.83" cy="290.74" r="2.4" fill="#111" stroke="none" stroke-width="1"/>
<line x1="442.4" y1="290.74" x2="442.4" y2="296.42" stroke="#111" stroke-width="0.9"/>
<line x1="440.8" y1="290.74" x2="444" y2="290.74" stroke="#111" stroke-width="0.9"/>
<line x1="440.8" y1="296.42" x2="444" y2="296.42" stroke="#111" stroke-width="0.9"/>
<circle cx="442.4" cy="293.58" r="2.4" fill="#111" stroke="none" stroke-width="1"/>
<line x1="452.96" y1="297.36" x2="452.96" y2="303.05" stroke="#111" stroke-width="0.9"/>
<line x1="451.36" y1="297.36" x2="454.56" y2="297.36" stroke="#111" stroke-width="0.9"/>
<line x1="451.36" y1="303.05" x2="454.56" y2="303.05" stroke="#111" stroke-width="0.9"/>
<circle cx="452.96" cy="300.2" r="2.4" fill="#111" stroke="none" stroke-width="1"/>
<line x1="463.53" y1="303.05" x2="463.53" y2="310.62" stroke="#111" stroke-width="0.9"/>
<line x1="461.93" y1="303.05" x2="465.13" y2="303.05" stroke="#111" stroke-width="0.9"/>
<line x1="461.93" y1="310.62" x2="465.13" y2="310.62" stroke="#111" stroke-width="0.9"/>
<circle cx="463.53" cy="306.83" r="2.4" fill="#111" stroke="none" stroke-width="1"/>
<line x1="474.1" y1="312.04" x2="474.1" y2="315.83" stroke="#111" stroke-width="0.9"/>
<line x1="472.5" y1="312.04" x2="475.7" y2="312.04" stroke="#111" stroke-width="0.9"/>
<line x1="472.5" y1="315.83" x2="475.7" y2="315.83" stroke="#111" stroke-width="0.9"/>
<circle cx="474.1" cy="313.94" r="2.4" fill="#111" stroke="none" stroke-width="1"/>
<line x1="484.67" y1="329.56" x2="484.67" y2="337.14" stroke="#111" stroke-width="0.9"/>
<line x1="483.07" y1="329.56" x2="486.27" y2="329.56" stroke="#111" stroke-width="0.9"/>
<line x1="483.07" y1="337.14" x2="486.27" y2="337.14" stroke="#111" stroke-width="0.9"/>
<circle cx="484.67" cy="333.35" r="2.4" fill="#111" stroke="none" stroke-width="1"/>
<line x1="385.5" y1="266.11" x2="385.5" y2="382.1" stroke="#000" stroke-width="1.6"/>
<line x1="384.7" y1="381.3" x2="496.75" y2="381.3" stroke="#000" stroke-width="1.8"/>
<line x1="383" y1="380.7" x2="385.5" y2="380.7" stroke="#000" stroke-width="1.1"/>
<text x="383.3" y="383.76" font-size="8.5" font-weight="bold" text-anchor="end">0</text>
<line x1="383" y1="361.76" x2="385.5" y2="361.76" stroke="#000" stroke-width="1.1"/>
<text x="383.3" y="364.82" font-size="8.5" font-weight="bold" text-anchor="end">20</text>
<line x1="383" y1="342.82" x2="385.5" y2="342.82" stroke="#000" stroke-width="1.1"/>
<text x="383.3" y="345.88" font-size="8.5" font-weight="bold" text-anchor="end">40</text>
<line x1="383" y1="333.35" x2="385.5" y2="333.35" stroke="#000" stroke-width="1.1"/>
<text x="383.3" y="336.41" font-size="8.5" font-weight="bold" text-anchor="end">50</text>
<line x1="383" y1="323.88" x2="385.5" y2="323.88" stroke="#000" stroke-width="1.1"/>
<text x="383.3" y="326.94" font-size="8.5" font-weight="bold" text-anchor="end">60</text>
<line x1="383" y1="304.94" x2="385.5" y2="304.94" stroke="#000" stroke-width="1.1"/>
<text x="383.3" y="308" font-size="8.5" font-weight="bold" text-anchor="end">80</text>
<line x1="383" y1="286" x2="385.5" y2="286" stroke="#000" stroke-width="1.1"/>
<text x="383.3" y="289.06" font-size="8.5" font-weight="bold" text-anchor="end">100</text>
<line x1="383" y1="267.06" x2="385.5" y2="267.06" stroke="#000" stroke-width="1.1"/>
<text x="383.3" y="270.12" font-size="8.5" font-weight="bold" text-anchor="end">120</text>
<line x1="385.5" y1="381.3" x2="385.5" y2="383.8" stroke="#000" stroke-width="1.1"/>
<text x="385.5" y="391.8" font-size="8.5" font-weight="bold" text-anchor="middle">0.001</text>
<line x1="407.65" y1="381.3" x2="407.65" y2="383.8" stroke="#000" stroke-width="1.1"/>
<text x="407.65" y="391.8" font-size="8.5" font-weight="bold" text-anchor="middle">0.01</text>
<line x1="429.8" y1="381.3" x2="429.8" y2="383.8" stroke="#000" stroke-width="1.1"/>
<text x="429.8" y="391.8" font-size="8.5" font-weight="bold" text-anchor="middle">0.1</text>
<line x1="451.95" y1="381.3" x2="451.95" y2="383.8" stroke="#000" stroke-width="1.1"/>
<text x="451.95" y="391.8" font-size="8.5" font-weight="bold" text-anchor="middle">1</text>
<line x1="474.1" y1="381.3" x2="474.1" y2="383.8" stroke="#000" stroke-width="1.1"/>
<text x="474.1" y="391.8" font-size="8.5" font-weight="bold" text-anchor="middle">10</text>
<line x1="496.25" y1="381.3" x2="496.25" y2="383.8" stroke="#000" stroke-width="1.1"/>
<text x="496.25" y="391.8" font-size="8.5" font-weight="bold" text-anchor="middle">100</text>
<text x="125.5" y="251.1" font-size="11" font-weight="bold" text-anchor="middle">MIA PaCa-2</text>
<text x="125.4" y="263.5" font-size="10.5" font-style="italic" text-anchor="middle">KRAS G12C</text>
<text x="290.6" y="250.8" font-size="11" font-weight="bold" text-anchor="middle">KP4</text>
<text x="290.5" y="261.9" font-size="10.5" font-style="italic" text-anchor="middle">KRAS G12D</text>
<text x="441.2" y="250.4" font-size="11" font-weight="bold" text-anchor="middle">Capan-2</text>
<text x="441.6" y="261.9" font-size="10.5" font-style="italic" text-anchor="middle">KRAS G12V</text>
<text x="131.7" y="403.4" font-size="8.9" font-weight="bold" text-anchor="middle">SHP099 (µmol/L)</text>
<text x="288.7" y="403.2" font-size="8.9" font-weight="bold" text-anchor="middle">SHP099 (µmol/L)</text>
<text x="445.4" y="403.4" font-size="8.9" font-weight="bold" text-anchor="middle">SHP099 (µmol/L)</text>
<text x="52.8" y="319.9" font-size="9" font-weight="bold" text-anchor="middle" transform="rotate(-90 52.8 319.9)">Relative viability (%)</text>
<text x="210.8" y="322.8" font-size="9" font-weight="bold" text-anchor="middle" transform="rotate(-90 210.8 322.8)">Relative viability (%)</text>
<text x="364.8" y="322.4" font-size="9" font-weight="bold" text-anchor="middle" transform="rotate(-90 364.8 322.4)">Relative viability (%)</text>
<text x="41.6" y="331" font-size="10.8" font-weight="bold" text-anchor="middle" transform="rotate(-90 41.6 331)">SHP099</text>
<line x1="75" y1="521.26" x2="184.45" y2="521.26" stroke="#e07070" stroke-width="1" stroke-dasharray="1.2,1.1"/>
<line x1="75" y1="522.87" x2="184.45" y2="522.87" stroke="#d8a050" stroke-width="1" stroke-dasharray="1.2,1.1"/>
<line x1="75" y1="524.95" x2="184.45" y2="524.95" stroke="#6cbf9a" stroke-width="1" stroke-dasharray="1.2,1.1"/>
<line x1="75" y1="526.84" x2="184.45" y2="526.84" stroke="#5a66aa" stroke-width="1" stroke-dasharray="1.2,1.1"/>
<line x1="75" y1="528.36" x2="184.45" y2="528.36" stroke="#222" stroke-width="1" stroke-dasharray="1.2,1.1"/>
<line x1="75" y1="483.85" x2="184.45" y2="483.85" stroke="#222" stroke-width="1.1" stroke-dasharray="1.4,1.1"/>
<path d="M81 439.34L82.21 439.34L83.42 439.34L84.64 439.34L85.85 439.34L87.06 439.34L88.27 439.34L89.48 439.34L90.7 439.34L91.91 439.34L93.12 439.34L94.33 439.34L95.54 439.34L96.75 439.34L97.97 439.34L99.18 439.34L100.39 439.35L101.6 439.35L102.81 439.35L104.03 439.35L105.24 439.36L106.45 439.36L107.66 439.37L108.87 439.38L110.08 439.4L111.3 439.42L112.51 439.45L113.72 439.48L114.93 439.53L116.14 439.6L117.36 439.7L118.57 439.82L119.78 439.99L120.99 440.21L122.2 440.52L123.42 440.92L124.63 441.47L125.84 442.2L127.05 443.16L128.26 444.44L129.47 446.1L130.69 448.25L131.9 451L133.11 454.43L134.32 458.62L135.53 463.61L136.75 469.34L137.96 475.7L139.17 482.44L140.38 489.3L141.59 495.95L142.81 502.13L144.02 507.64L145.23 512.38L146.44 516.32L147.65 519.53L148.87 522.07L150.08 524.06L151.29 525.59L152.5 526.76L153.71 527.65L154.92 528.31L156.14 528.81L157.35 529.18L158.56 529.46L159.77 529.66L160.98 529.82L162.2 529.93L163.41 530.01L164.62 530.08L165.83 530.12L167.04 530.16L168.25 530.18L169.47 530.2L170.68 530.21L171.89 530.22L173.1 530.23L174.31 530.24L175.53 530.24L176.74 530.24L177.95 530.25" fill="none" stroke="#3fae4f" stroke-width="1.6" stroke-linejoin="round"/>
<path d="M81 436.5L82.21 436.5L83.42 436.5L84.64 436.5L85.85 436.5L87.06 436.5L88.27 436.5L89.48 436.5L90.7 436.5L91.91 436.5L93.12 436.5L94.33 436.5L95.54 436.5L96.75 436.5L97.97 436.5L99.18 436.5L100.39 436.51L101.6 436.51L102.81 436.51L104.03 436.51L105.24 436.52L106.45 436.53L107.66 436.54L108.87 436.55L110.08 436.57L111.3 436.59L112.51 436.62L113.72 436.66L114.93 436.72L116.14 436.8L117.36 436.91L118.57 437.05L119.78 437.24L120.99 437.5L122.2 437.84L123.42 438.31L124.63 438.93L125.84 439.76L127.05 440.85L128.26 442.29L129.47 444.17L130.69 446.59L131.9 449.65L133.11 453.45L134.32 458.05L135.53 463.47L136.75 469.63L137.96 476.35L139.17 483.38L140.38 490.41L141.59 497.13L142.81 503.28L144.02 508.7L145.23 513.3L146.44 517.1L147.65 520.17L148.87 522.58L150.08 524.46L151.29 525.9L152.5 527L153.71 527.82L154.92 528.44L156.14 528.91L157.35 529.26L158.56 529.51L159.77 529.71L160.98 529.85L162.2 529.95L163.41 530.03L164.62 530.09L165.83 530.13L167.04 530.16L168.25 530.19L169.47 530.2L170.68 530.22L171.89 530.23L173.1 530.23L174.31 530.24L175.53 530.24L176.74 530.24L177.95 530.25" fill="none" stroke="#3a6f9e" stroke-width="1.6" stroke-linejoin="round"/>
<path d="M81 440.3L82.21 440.3L83.42 440.3L84.64 440.3L85.85 440.31L87.06 440.31L88.27 440.32L89.48 440.32L90.7 440.33L91.91 440.34L93.12 440.36L94.33 440.38L95.54 440.4L96.75 440.43L97.97 440.46L99.18 440.5L100.39 440.55L101.6 440.62L102.81 440.7L104.03 440.8L105.24 440.93L106.45 441.09L107.66 441.29L108.87 441.53L110.08 441.83L111.3 442.21L112.51 442.67L113.72 443.24L114.93 443.95L116.14 444.81L117.36 445.86L118.57 447.14L119.78 448.68L120.99 450.53L122.2 452.72L123.42 455.3L124.63 458.28L125.84 461.69L127.05 465.51L128.26 469.73L129.47 474.29L130.69 479.11L131.9 484.08L133.11 489.08L134.32 494L135.53 498.71L136.75 503.13L137.96 507.19L139.17 510.84L140.38 514.07L141.59 516.87L142.81 519.28L144.02 521.32L145.23 523.03L146.44 524.45L147.65 525.63L148.87 526.6L150.08 527.39L151.29 528.03L152.5 528.55L153.71 528.98L154.92 529.32L156.14 529.6L157.35 529.82L158.56 530L159.77 530.14L160.98 530.26L162.2 530.35L163.41 530.42L164.62 530.48L165.83 530.53L167.04 530.57L168.25 530.6L169.47 530.63L170.68 530.65L171.89 530.66L173.1 530.68L174.31 530.69L175.53 530.69L176.74 530.7L177.95 530.71" fill="none" stroke="#e2262b" stroke-width="1.6" stroke-linejoin="round"/>
<path d="M81 439.34L82.21 439.34L83.42 439.34L84.64 439.34L85.85 439.34L87.06 439.35L88.27 439.35L89.48 439.35L90.7 439.35L91.91 439.35L93.12 439.35L94.33 439.36L95.54 439.36L96.75 439.36L97.97 439.37L99.18 439.38L100.39 439.38L101.6 439.39L102.81 439.41L104.03 439.42L105.24 439.44L106.45 439.46L107.66 439.49L108.87 439.52L110.08 439.56L111.3 439.61L112.51 439.67L113.72 439.74L114.93 439.83L116.14 439.94L117.36 440.07L118.57 440.23L119.78 440.43L120.99 440.67L122.2 440.96L123.42 441.31L124.63 441.74L125.84 442.26L127.05 442.89L128.26 443.64L129.47 444.54L130.69 445.62L131.9 446.9L133.11 448.41L134.32 450.18L135.53 452.25L136.75 454.62L137.96 457.34L139.17 460.39L140.38 463.77L141.59 467.48L142.81 471.45L144.02 475.65L145.23 479.99L146.44 484.4L147.65 488.78L148.87 493.05L150.08 497.13L151.29 500.96L152.5 504.48L153.71 507.68L154.92 510.53L156.14 513.05L157.35 515.25L158.56 517.14L159.77 518.76L160.98 520.14L162.2 521.3L163.41 522.27L164.62 523.09L165.83 523.77L167.04 524.33L168.25 524.79L169.47 525.18L170.68 525.49L171.89 525.75L173.1 525.97L174.31 526.14L175.53 526.29L176.74 526.4L177.95 526.5" fill="none" stroke="#111" stroke-width="1.6" stroke-linejoin="round"/>
<line x1="81" y1="454.21" x2="81" y2="458" stroke="#3fae4f" stroke-width="0.9"/>
<line x1="79.4" y1="454.21" x2="82.6" y2="454.21" stroke="#3fae4f" stroke-width="0.9"/>
<line x1="79.4" y1="458" x2="82.6" y2="458" stroke="#3fae4f" stroke-width="0.9"/>
<path d="M81 453.2L83.9 458.42L78.1 458.42Z" fill="#3fae4f" stroke="none" stroke-width="1"/>
<line x1="91.77" y1="429.87" x2="91.77" y2="445.02" stroke="#3fae4f" stroke-width="0.9"/>
<line x1="90.17" y1="429.87" x2="93.37" y2="429.87" stroke="#3fae4f" stroke-width="0.9"/>
<line x1="90.17" y1="445.02" x2="93.37" y2="445.02" stroke="#3fae4f" stroke-width="0.9"/>
<path d="M91.77 434.55L94.67 439.77L88.87 439.77Z" fill="#3fae4f" stroke="none" stroke-width="1"/>
<line x1="102.54" y1="436.5" x2="102.54" y2="442.18" stroke="#3fae4f" stroke-width="0.9"/>
<line x1="100.94" y1="436.5" x2="104.14" y2="436.5" stroke="#3fae4f" stroke-width="0.9"/>
<line x1="100.94" y1="442.18" x2="104.14" y2="442.18" stroke="#3fae4f" stroke-width="0.9"/>
<path d="M102.54 436.44L105.44 441.66L99.64 441.66Z" fill="#3fae4f" stroke="none" stroke-width="1"/>
<line x1="113.32" y1="445.78" x2="113.32" y2="451.46" stroke="#3fae4f" stroke-width="0.9"/>
<line x1="111.72" y1="445.78" x2="114.92" y2="445.78" stroke="#3fae4f" stroke-width="0.9"/>
<line x1="111.72" y1="451.46" x2="114.92" y2="451.46" stroke="#3fae4f" stroke-width="0.9"/>
<path d="M113.32 445.72L116.22 450.94L110.42 450.94Z" fill="#3fae4f" stroke="none" stroke-width="1"/>
<line x1="124.09" y1="431.77" x2="124.09" y2="446.92" stroke="#3fae4f" stroke-width="0.9"/>
<line x1="122.49" y1="431.77" x2="125.69" y2="431.77" stroke="#3fae4f" stroke-width="0.9"/>
<line x1="122.49" y1="446.92" x2="125.69" y2="446.92" stroke="#3fae4f" stroke-width="0.9"/>
<path d="M124.09 436.44L126.99 441.66L121.19 441.66Z" fill="#3fae4f" stroke="none" stroke-width="1"/>
<line x1="134.86" y1="450.23" x2="134.86" y2="457.81" stroke="#3fae4f" stroke-width="0.9"/>
<line x1="133.26" y1="450.23" x2="136.46" y2="450.23" stroke="#3fae4f" stroke-width="0.9"/>
<line x1="133.26" y1="457.81" x2="136.46" y2="457.81" stroke="#3fae4f" stroke-width="0.9"/>
<path d="M134.86 451.12L137.76 456.34L131.96 456.34Z" fill="#3fae4f" stroke="none" stroke-width="1"/>
<line x1="145.63" y1="515.95" x2="145.63" y2="519.74" stroke="#3fae4f" stroke-width="0.9"/>
<line x1="144.03" y1="515.95" x2="147.23" y2="515.95" stroke="#3fae4f" stroke-width="0.9"/>
<line x1="144.03" y1="519.74" x2="147.23" y2="519.74" stroke="#3fae4f" stroke-width="0.9"/>
<path d="M145.63 514.95L148.53 520.17L142.73 520.17Z" fill="#3fae4f" stroke="none" stroke-width="1"/>
<line x1="156.41" y1="526.47" x2="156.41" y2="528.36" stroke="#3fae4f" stroke-width="0.9"/>
<line x1="154.81" y1="526.47" x2="158.01" y2="526.47" stroke="#3fae4f" stroke-width="0.9"/>
<line x1="154.81" y1="528.36" x2="158.01" y2="528.36" stroke="#3fae4f" stroke-width="0.9"/>
<path d="M156.41 524.51L159.31 529.73L153.51 529.73Z" fill="#3fae4f" stroke="none" stroke-width="1"/>
<line x1="167.18" y1="528.36" x2="167.18" y2="530.25" stroke="#3fae4f" stroke-width="0.9"/>
<line x1="165.58" y1="528.36" x2="168.78" y2="528.36" stroke="#3fae4f" stroke-width="0.9"/>
<line x1="165.58" y1="530.25" x2="168.78" y2="530.25" stroke="#3fae4f" stroke-width="0.9"/>
<path d="M167.18 526.41L170.08 531.63L164.28 531.63Z" fill="#3fae4f" stroke="none" stroke-width="1"/>
<line x1="177.95" y1="528.83" x2="177.95" y2="530.73" stroke="#3fae4f" stroke-width="0.9"/>
<line x1="176.35" y1="528.83" x2="179.55" y2="528.83" stroke="#3fae4f" stroke-width="0.9"/>
<line x1="176.35" y1="530.73" x2="179.55" y2="530.73" stroke="#3fae4f" stroke-width="0.9"/>
<path d="M177.95 526.88L180.85 532.1L175.05 532.1Z" fill="#3fae4f" stroke="none" stroke-width="1"/>
<line x1="81" y1="432.05" x2="81" y2="437.73" stroke="#3a6f9e" stroke-width="0.9"/>
<line x1="79.4" y1="432.05" x2="82.6" y2="432.05" stroke="#3a6f9e" stroke-width="0.9"/>
<line x1="79.4" y1="437.73" x2="82.6" y2="437.73" stroke="#3a6f9e" stroke-width="0.9"/>
<path d="M81 432.09L83.8 434.89L81 437.69L78.2 434.89Z" fill="#3a6f9e" stroke="none" stroke-width="1"/>
<line x1="91.77" y1="433.66" x2="91.77" y2="439.34" stroke="#3a6f9e" stroke-width="0.9"/>
<line x1="90.17" y1="433.66" x2="93.37" y2="433.66" stroke="#3a6f9e" stroke-width="0.9"/>
<line x1="90.17" y1="439.34" x2="93.37" y2="439.34" stroke="#3a6f9e" stroke-width="0.9"/>
<path d="M91.77 433.7L94.57 436.5L91.77 439.3L88.97 436.5Z" fill="#3a6f9e" stroke="none" stroke-width="1"/>
<line x1="102.54" y1="435.55" x2="102.54" y2="439.34" stroke="#3a6f9e" stroke-width="0.9"/>
<line x1="100.94" y1="435.55" x2="104.14" y2="435.55" stroke="#3a6f9e" stroke-width="0.9"/>
<line x1="100.94" y1="439.34" x2="104.14" y2="439.34" stroke="#3a6f9e" stroke-width="0.9"/>
<path d="M102.54 434.65L105.34 437.45L102.54 440.25L99.74 437.45Z" fill="#3a6f9e" stroke="none" stroke-width="1"/>
<line x1="113.32" y1="436.5" x2="113.32" y2="440.29" stroke="#3a6f9e" stroke-width="0.9"/>
<line x1="111.72" y1="436.5" x2="114.92" y2="436.5" stroke="#3a6f9e" stroke-width="0.9"/>
<line x1="111.72" y1="440.29" x2="114.92" y2="440.29" stroke="#3a6f9e" stroke-width="0.9"/>
<path d="M113.32 435.59L116.12 438.39L113.32 441.19L110.52 438.39Z" fill="#3a6f9e" stroke="none" stroke-width="1"/>
<line x1="124.09" y1="437.45" x2="124.09" y2="441.24" stroke="#3a6f9e" stroke-width="0.9"/>
<line x1="122.49" y1="437.45" x2="125.69" y2="437.45" stroke="#3a6f9e" stroke-width="0.9"/>
<line x1="122.49" y1="441.24" x2="125.69" y2="441.24" stroke="#3a6f9e" stroke-width="0.9"/>
<path d="M124.09 436.54L126.89 439.34L124.09 442.14L121.29 439.34Z" fill="#3a6f9e" stroke="none" stroke-width="1"/>
<line x1="134.86" y1="448.81" x2="134.86" y2="454.49" stroke="#3a6f9e" stroke-width="0.9"/>
<line x1="133.26" y1="448.81" x2="136.46" y2="448.81" stroke="#3a6f9e" stroke-width="0.9"/>
<line x1="133.26" y1="454.49" x2="136.46" y2="454.49" stroke="#3a6f9e" stroke-width="0.9"/>
<path d="M134.86 448.85L137.66 451.65L134.86 454.45L132.06 451.65Z" fill="#3a6f9e" stroke="none" stroke-width="1"/>
<line x1="145.63" y1="514.15" x2="145.63" y2="517.94" stroke="#3a6f9e" stroke-width="0.9"/>
<line x1="144.03" y1="514.15" x2="147.23" y2="514.15" stroke="#3a6f9e" stroke-width="0.9"/>
<line x1="144.03" y1="517.94" x2="147.23" y2="517.94" stroke="#3a6f9e" stroke-width="0.9"/>
<path d="M145.63 513.25L148.43 516.05L145.63 518.85L142.83 516.05Z" fill="#3a6f9e" stroke="none" stroke-width="1"/>
<line x1="156.41" y1="525.52" x2="156.41" y2="527.41" stroke="#3a6f9e" stroke-width="0.9"/>
<line x1="154.81" y1="525.52" x2="158.01" y2="525.52" stroke="#3a6f9e" stroke-width="0.9"/>
<line x1="154.81" y1="527.41" x2="158.01" y2="527.41" stroke="#3a6f9e" stroke-width="0.9"/>
<path d="M156.41 523.67L159.21 526.47L156.41 529.26L153.61 526.47Z" fill="#3a6f9e" stroke="none" stroke-width="1"/>
<line x1="167.18" y1="528.36" x2="167.18" y2="530.25" stroke="#3a6f9e" stroke-width="0.9"/>
<line x1="165.58" y1="528.36" x2="168.78" y2="528.36" stroke="#3a6f9e" stroke-width="0.9"/>
<line x1="165.58" y1="530.25" x2="168.78" y2="530.25" stroke="#3a6f9e" stroke-width="0.9"/>
<path d="M167.18 526.51L169.98 529.31L167.18 532.11L164.38 529.31Z" fill="#3a6f9e" stroke="none" stroke-width="1"/>
<line x1="177.95" y1="528.83" x2="177.95" y2="530.73" stroke="#3a6f9e" stroke-width="0.9"/>
<line x1="176.35" y1="528.83" x2="179.55" y2="528.83" stroke="#3a6f9e" stroke-width="0.9"/>
<line x1="176.35" y1="530.73" x2="179.55" y2="530.73" stroke="#3a6f9e" stroke-width="0.9"/>
<path d="M177.95 526.98L180.75 529.78L177.95 532.58L175.15 529.78Z" fill="#3a6f9e" stroke="none" stroke-width="1"/>
<line x1="81" y1="444.83" x2="81" y2="452.41" stroke="#e2262b" stroke-width="0.9"/>
<line x1="79.4" y1="444.83" x2="82.6" y2="444.83" stroke="#e2262b" stroke-width="0.9"/>
<line x1="79.4" y1="452.41" x2="82.6" y2="452.41" stroke="#e2262b" stroke-width="0.9"/>
<rect x="78.7" y="446.32" width="4.6" height="4.6" fill="#e2262b"/>
<line x1="91.77" y1="438.96" x2="91.77" y2="454.11" stroke="#e2262b" stroke-width="0.9"/>
<line x1="90.17" y1="438.96" x2="93.37" y2="438.96" stroke="#e2262b" stroke-width="0.9"/>
<line x1="90.17" y1="454.11" x2="93.37" y2="454.11" stroke="#e2262b" stroke-width="0.9"/>
<rect x="89.47" y="444.24" width="4.6" height="4.6" fill="#e2262b"/>
<line x1="102.54" y1="436.5" x2="102.54" y2="444.08" stroke="#e2262b" stroke-width="0.9"/>
<line x1="100.94" y1="436.5" x2="104.14" y2="436.5" stroke="#e2262b" stroke-width="0.9"/>
<line x1="100.94" y1="444.08" x2="104.14" y2="444.08" stroke="#e2262b" stroke-width="0.9"/>
<rect x="100.24" y="437.99" width="4.6" height="4.6" fill="#e2262b"/>
<line x1="113.32" y1="437.45" x2="113.32" y2="445.02" stroke="#e2262b" stroke-width="0.9"/>
<line x1="111.72" y1="437.45" x2="114.92" y2="437.45" stroke="#e2262b" stroke-width="0.9"/>
<line x1="111.72" y1="445.02" x2="114.92" y2="445.02" stroke="#e2262b" stroke-width="0.9"/>
<rect x="111.02" y="438.94" width="4.6" height="4.6" fill="#e2262b"/>
<line x1="124.09" y1="452.31" x2="124.09" y2="459.89" stroke="#e2262b" stroke-width="0.9"/>
<line x1="122.49" y1="452.31" x2="125.69" y2="452.31" stroke="#e2262b" stroke-width="0.9"/>
<line x1="122.49" y1="459.89" x2="125.69" y2="459.89" stroke="#e2262b" stroke-width="0.9"/>
<rect x="121.79" y="453.8" width="4.6" height="4.6" fill="#e2262b"/>
<line x1="134.86" y1="495.97" x2="134.86" y2="503.55" stroke="#e2262b" stroke-width="0.9"/>
<line x1="133.26" y1="495.97" x2="136.46" y2="495.97" stroke="#e2262b" stroke-width="0.9"/>
<line x1="133.26" y1="503.55" x2="136.46" y2="503.55" stroke="#e2262b" stroke-width="0.9"/>
<rect x="132.56" y="497.46" width="4.6" height="4.6" fill="#e2262b"/>
<line x1="145.63" y1="519.17" x2="145.63" y2="522.96" stroke="#e2262b" stroke-width="0.9"/>
<line x1="144.03" y1="519.17" x2="147.23" y2="519.17" stroke="#e2262b" stroke-width="0.9"/>
<line x1="144.03" y1="522.96" x2="147.23" y2="522.96" stroke="#e2262b" stroke-width="0.9"/>
<rect x="143.33" y="518.77" width="4.6" height="4.6" fill="#e2262b"/>
<line x1="156.41" y1="524.29" x2="156.41" y2="526.18" stroke="#e2262b" stroke-width="0.9"/>
<line x1="154.81" y1="524.29" x2="158.01" y2="524.29" stroke="#e2262b" stroke-width="0.9"/>
<line x1="154.81" y1="526.18" x2="158.01" y2="526.18" stroke="#e2262b" stroke-width="0.9"/>
<rect x="154.11" y="522.93" width="4.6" height="4.6" fill="#e2262b"/>
<line x1="167.18" y1="528.55" x2="167.18" y2="530.44" stroke="#e2262b" stroke-width="0.9"/>
<line x1="165.58" y1="528.55" x2="168.78" y2="528.55" stroke="#e2262b" stroke-width="0.9"/>
<line x1="165.58" y1="530.44" x2="168.78" y2="530.44" stroke="#e2262b" stroke-width="0.9"/>
<rect x="164.88" y="527.2" width="4.6" height="4.6" fill="#e2262b"/>
<line x1="177.95" y1="529.31" x2="177.95" y2="531.2" stroke="#e2262b" stroke-width="0.9"/>
<line x1="176.35" y1="529.31" x2="179.55" y2="529.31" stroke="#e2262b" stroke-width="0.9"/>
<line x1="176.35" y1="531.2" x2="179.55" y2="531.2" stroke="#e2262b" stroke-width="0.9"/>
<rect x="175.65" y="527.95" width="4.6" height="4.6" fill="#e2262b"/>
<line x1="81" y1="439.81" x2="81" y2="443.6" stroke="#111" stroke-width="0.9"/>
<line x1="79.4" y1="439.81" x2="82.6" y2="439.81" stroke="#111" stroke-width="0.9"/>
<line x1="79.4" y1="443.6" x2="82.6" y2="443.6" stroke="#111" stroke-width="0.9"/>
<circle cx="81" cy="441.71" r="2.4" fill="#111" stroke="none" stroke-width="1"/>
<line x1="91.77" y1="437.45" x2="91.77" y2="443.13" stroke="#111" stroke-width="0.9"/>
<line x1="90.17" y1="437.45" x2="93.37" y2="437.45" stroke="#111" stroke-width="0.9"/>
<line x1="90.17" y1="443.13" x2="93.37" y2="443.13" stroke="#111" stroke-width="0.9"/>
<circle cx="91.77" cy="440.29" r="2.4" fill="#111" stroke="none" stroke-width="1"/>
<line x1="102.54" y1="435.27" x2="102.54" y2="440.95" stroke="#111" stroke-width="0.9"/>
<line x1="100.94" y1="435.27" x2="104.14" y2="435.27" stroke="#111" stroke-width="0.9"/>
<line x1="100.94" y1="440.95" x2="104.14" y2="440.95" stroke="#111" stroke-width="0.9"/>
<circle cx="102.54" cy="438.11" r="2.4" fill="#111" stroke="none" stroke-width="1"/>
<line x1="113.32" y1="438.39" x2="113.32" y2="444.08" stroke="#111" stroke-width="0.9"/>
<line x1="111.72" y1="438.39" x2="114.92" y2="438.39" stroke="#111" stroke-width="0.9"/>
<line x1="111.72" y1="444.08" x2="114.92" y2="444.08" stroke="#111" stroke-width="0.9"/>
<circle cx="113.32" cy="441.24" r="2.4" fill="#111" stroke="none" stroke-width="1"/>
<line x1="124.09" y1="434.7" x2="124.09" y2="438.49" stroke="#111" stroke-width="0.9"/>
<line x1="122.49" y1="434.7" x2="125.69" y2="434.7" stroke="#111" stroke-width="0.9"/>
<line x1="122.49" y1="438.49" x2="125.69" y2="438.49" stroke="#111" stroke-width="0.9"/>
<circle cx="124.09" cy="436.59" r="2.4" fill="#111" stroke="none" stroke-width="1"/>
<line x1="134.86" y1="436.22" x2="134.86" y2="440" stroke="#111" stroke-width="0.9"/>
<line x1="133.26" y1="436.22" x2="136.46" y2="436.22" stroke="#111" stroke-width="0.9"/>
<line x1="133.26" y1="440" x2="136.46" y2="440" stroke="#111" stroke-width="0.9"/>
<circle cx="134.86" cy="438.11" r="2.4" fill="#111" stroke="none" stroke-width="1"/>
<line x1="145.63" y1="475.99" x2="145.63" y2="487.35" stroke="#111" stroke-width="0.9"/>
<line x1="144.03" y1="475.99" x2="147.23" y2="475.99" stroke="#111" stroke-width="0.9"/>
<line x1="144.03" y1="487.35" x2="147.23" y2="487.35" stroke="#111" stroke-width="0.9"/>
<circle cx="145.63" cy="481.67" r="2.4" fill="#111" stroke="none" stroke-width="1"/>
<line x1="156.41" y1="512.64" x2="156.41" y2="514.53" stroke="#111" stroke-width="0.9"/>
<line x1="154.81" y1="512.64" x2="158.01" y2="512.64" stroke="#111" stroke-width="0.9"/>
<line x1="154.81" y1="514.53" x2="158.01" y2="514.53" stroke="#111" stroke-width="0.9"/>
<circle cx="156.41" cy="513.59" r="2.4" fill="#111" stroke="none" stroke-width="1"/>
<line x1="167.18" y1="520.69" x2="167.18" y2="522.58" stroke="#111" stroke-width="0.9"/>
<line x1="165.58" y1="520.69" x2="168.78" y2="520.69" stroke="#111" stroke-width="0.9"/>
<line x1="165.58" y1="522.58" x2="168.78" y2="522.58" stroke="#111" stroke-width="0.9"/>
<circle cx="167.18" cy="521.64" r="2.4" fill="#111" stroke="none" stroke-width="1"/>
<line x1="177.95" y1="524.95" x2="177.95" y2="526.84" stroke="#111" stroke-width="0.9"/>
<line x1="176.35" y1="524.95" x2="179.55" y2="524.95" stroke="#111" stroke-width="0.9"/>
<line x1="176.35" y1="526.84" x2="179.55" y2="526.84" stroke="#111" stroke-width="0.9"/>
<circle cx="177.95" cy="525.9" r="2.4" fill="#111" stroke="none" stroke-width="1"/>
<line x1="74" y1="416.61" x2="74" y2="532.6" stroke="#000" stroke-width="1.6"/>
<line x1="73.2" y1="531.8" x2="184.45" y2="531.8" stroke="#000" stroke-width="1.8"/>
<line x1="71.5" y1="531.2" x2="74" y2="531.2" stroke="#000" stroke-width="1.1"/>
<text x="71.8" y="534.26" font-size="8.5" font-weight="bold" text-anchor="end">0</text>
<line x1="71.5" y1="512.26" x2="74" y2="512.26" stroke="#000" stroke-width="1.1"/>
<text x="71.8" y="515.32" font-size="8.5" font-weight="bold" text-anchor="end">20</text>
<line x1="71.5" y1="493.32" x2="74" y2="493.32" stroke="#000" stroke-width="1.1"/>
<text x="71.8" y="496.38" font-size="8.5" font-weight="bold" text-anchor="end">40</text>
<line x1="71.5" y1="483.85" x2="74" y2="483.85" stroke="#000" stroke-width="1.1"/>
<text x="71.8" y="486.91" font-size="8.5" font-weight="bold" text-anchor="end">50</text>
<line x1="71.5" y1="474.38" x2="74" y2="474.38" stroke="#000" stroke-width="1.1"/>
<text x="71.8" y="477.44" font-size="8.5" font-weight="bold" text-anchor="end">60</text>
<line x1="71.5" y1="455.44" x2="74" y2="455.44" stroke="#000" stroke-width="1.1"/>
<text x="71.8" y="458.5" font-size="8.5" font-weight="bold" text-anchor="end">80</text>
<line x1="71.5" y1="436.5" x2="74" y2="436.5" stroke="#000" stroke-width="1.1"/>
<text x="71.8" y="439.56" font-size="8.5" font-weight="bold" text-anchor="end">100</text>
<line x1="71.5" y1="417.56" x2="74" y2="417.56" stroke="#000" stroke-width="1.1"/>
<text x="71.8" y="420.62" font-size="8.5" font-weight="bold" text-anchor="end">120</text>
<line x1="81" y1="531.8" x2="81" y2="534.3" stroke="#000" stroke-width="1.1"/>
<text x="81.6" y="541.2" font-size="9" font-weight="bold" text-anchor="middle">-7</text>
<line x1="94.85" y1="531.8" x2="94.85" y2="534.3" stroke="#000" stroke-width="1.1"/>
<text x="95.45" y="541.2" font-size="9" font-weight="bold" text-anchor="middle">-6</text>
<line x1="108.7" y1="531.8" x2="108.7" y2="534.3" stroke="#000" stroke-width="1.1"/>
<text x="109.3" y="541.2" font-size="9" font-weight="bold" text-anchor="middle">-5</text>
<line x1="122.55" y1="531.8" x2="122.55" y2="534.3" stroke="#000" stroke-width="1.1"/>
<text x="123.15" y="541.2" font-size="9" font-weight="bold" text-anchor="middle">-4</text>
<line x1="136.4" y1="531.8" x2="136.4" y2="534.3" stroke="#000" stroke-width="1.1"/>
<text x="137" y="541.2" font-size="9" font-weight="bold" text-anchor="middle">-3</text>
<line x1="150.25" y1="531.8" x2="150.25" y2="534.3" stroke="#000" stroke-width="1.1"/>
<text x="150.85" y="541.2" font-size="9" font-weight="bold" text-anchor="middle">-2</text>
<line x1="164.1" y1="531.8" x2="164.1" y2="534.3" stroke="#000" stroke-width="1.1"/>
<text x="164.7" y="541.2" font-size="9" font-weight="bold" text-anchor="middle">-1</text>
<line x1="177.95" y1="531.8" x2="177.95" y2="534.3" stroke="#000" stroke-width="1.1"/>
<text x="178.55" y="541.2" font-size="9" font-weight="bold" text-anchor="middle">0</text>
<line x1="232.3" y1="519.46" x2="341.35" y2="519.46" stroke="#e07070" stroke-width="1" stroke-dasharray="1.2,1.1"/>
<line x1="232.3" y1="521.34" x2="341.35" y2="521.34" stroke="#6cbf9a" stroke-width="1" stroke-dasharray="1.2,1.1"/>
<line x1="232.3" y1="523.5" x2="341.35" y2="523.5" stroke="#5a66aa" stroke-width="1" stroke-dasharray="1.2,1.1"/>
<line x1="232.3" y1="525.57" x2="341.35" y2="525.57" stroke="#222" stroke-width="1" stroke-dasharray="1.2,1.1"/>
<line x1="232.3" y1="484.25" x2="341.35" y2="484.25" stroke="#222" stroke-width="1.1" stroke-dasharray="1.4,1.1"/>
<path d="M237.9 441.06L239.11 441.06L240.32 441.06L241.54 441.06L242.75 441.06L243.96 441.06L245.17 441.06L246.38 441.06L247.59 441.06L248.81 441.06L250.02 441.06L251.23 441.06L252.44 441.07L253.65 441.07L254.87 441.07L256.08 441.08L257.29 441.09L258.5 441.1L259.71 441.11L260.93 441.13L262.14 441.15L263.35 441.17L264.56 441.21L265.77 441.25L266.99 441.31L268.2 441.39L269.41 441.49L270.62 441.62L271.83 441.78L273.04 442L274.26 442.28L275.47 442.64L276.68 443.1L277.89 443.69L279.1 444.45L280.32 445.42L281.53 446.65L282.74 448.18L283.95 450.1L285.16 452.46L286.38 455.32L287.59 458.74L288.8 462.73L290.01 467.29L291.22 472.36L292.43 477.83L293.65 483.54L294.86 489.31L296.07 494.93L297.28 500.25L298.49 505.11L299.71 509.43L300.92 513.18L302.13 516.35L303.34 518.99L304.55 521.15L305.76 522.9L306.98 524.29L308.19 525.4L309.4 526.27L310.61 526.96L311.82 527.49L313.04 527.91L314.25 528.23L315.46 528.48L316.67 528.67L317.88 528.82L319.1 528.94L320.31 529.02L321.52 529.09L322.73 529.15L323.94 529.19L325.15 529.22L326.37 529.24L327.58 529.26L328.79 529.27L330 529.29L331.21 529.29L332.43 529.3L333.64 529.31L334.85 529.31" fill="none" stroke="#3a6f9e" stroke-width="1.6" stroke-linejoin="round"/>
<path d="M237.9 442L239.11 442L240.32 442L241.54 442L242.75 442L243.96 442L245.17 442L246.38 442L247.59 442L248.81 442L250.02 442L251.23 442L252.44 442.01L253.65 442.01L254.87 442.01L256.08 442.02L257.29 442.02L258.5 442.03L259.71 442.04L260.93 442.06L262.14 442.08L263.35 442.1L264.56 442.14L265.77 442.18L266.99 442.23L268.2 442.31L269.41 442.4L270.62 442.52L271.83 442.67L273.04 442.88L274.26 443.14L275.47 443.47L276.68 443.9L277.89 444.46L279.1 445.17L280.32 446.07L281.53 447.22L282.74 448.67L283.95 450.47L285.16 452.7L286.38 455.41L287.59 458.66L288.8 462.48L290.01 466.87L291.22 471.78L292.43 477.11L293.65 482.72L294.86 488.43L296.07 494.05L297.28 499.39L298.49 504.31L299.71 508.72L300.92 512.55L302.13 515.82L303.34 518.55L304.55 520.79L305.76 522.6L306.98 524.06L308.19 525.21L309.4 526.13L310.61 526.84L311.82 527.4L313.04 527.84L314.25 528.17L315.46 528.44L316.67 528.64L317.88 528.79L319.1 528.92L320.31 529.01L321.52 529.08L322.73 529.14L323.94 529.18L325.15 529.21L326.37 529.24L327.58 529.26L328.79 529.27L330 529.28L331.21 529.29L332.43 529.3L333.64 529.3L334.85 529.31" fill="none" stroke="#3fae4f" stroke-width="1.6" stroke-linejoin="round"/>
<path d="M237.9 445.76L239.11 445.77L240.32 445.77L241.54 445.78L242.75 445.78L243.96 445.79L245.17 445.8L246.38 445.81L247.59 445.83L248.81 445.85L250.02 445.87L251.23 445.9L252.44 445.94L253.65 445.99L254.87 446.05L256.08 446.12L257.29 446.21L258.5 446.33L259.71 446.47L260.93 446.64L262.14 446.86L263.35 447.13L264.56 447.47L265.77 447.89L266.99 448.4L268.2 449.03L269.41 449.81L270.62 450.75L271.83 451.9L273.04 453.29L274.26 454.95L275.47 456.93L276.68 459.26L277.89 461.96L279.1 465.05L280.32 468.53L281.53 472.38L282.74 476.56L283.95 480.98L285.16 485.55L286.38 490.18L287.59 494.74L288.8 499.13L290.01 503.26L291.22 507.06L292.43 510.49L293.65 513.53L294.86 516.17L296.07 518.45L297.28 520.38L298.49 522L299.71 523.35L300.92 524.47L302.13 525.39L303.34 526.14L304.55 526.75L305.76 527.25L306.98 527.65L308.19 527.98L309.4 528.24L310.61 528.46L311.82 528.63L313.04 528.76L314.25 528.87L315.46 528.96L316.67 529.03L317.88 529.09L319.1 529.14L320.31 529.17L321.52 529.2L322.73 529.23L323.94 529.25L325.15 529.26L326.37 529.27L327.58 529.28L328.79 529.29L330 529.3L331.21 529.3L332.43 529.31L333.64 529.31L334.85 529.31" fill="none" stroke="#e2262b" stroke-width="1.6" stroke-linejoin="round"/>
<path d="M237.9 441.53L239.11 441.53L240.32 441.53L241.54 441.53L242.75 441.53L243.96 441.53L245.17 441.53L246.38 441.53L247.59 441.53L248.81 441.53L250.02 441.53L251.23 441.53L252.44 441.53L253.65 441.53L254.87 441.54L256.08 441.54L257.29 441.54L258.5 441.55L259.71 441.55L260.93 441.56L262.14 441.56L263.35 441.57L264.56 441.58L265.77 441.59L266.99 441.61L268.2 441.63L269.41 441.65L270.62 441.68L271.83 441.71L273.04 441.75L274.26 441.8L275.47 441.86L276.68 441.94L277.89 442.03L279.1 442.14L280.32 442.28L281.53 442.44L282.74 442.64L283.95 442.88L285.16 443.18L286.38 443.54L287.59 443.97L288.8 444.48L290.01 445.1L291.22 445.84L292.43 446.72L293.65 447.76L294.86 448.97L296.07 450.39L297.28 452.01L298.49 453.86L299.71 455.94L300.92 458.24L302.13 460.75L303.34 463.43L304.55 466.26L305.76 469.18L306.98 472.14L308.19 475.06L309.4 477.91L310.61 480.62L311.82 483.16L313.04 485.49L314.25 487.6L315.46 489.48L316.67 491.13L317.88 492.57L319.1 493.82L320.31 494.88L321.52 495.78L322.73 496.54L323.94 497.17L325.15 497.7L326.37 498.15L327.58 498.51L328.79 498.81L330 499.06L331.21 499.27L332.43 499.44L333.64 499.58L334.85 499.69" fill="none" stroke="#111" stroke-width="1.6" stroke-linejoin="round"/>
<line x1="237.9" y1="437.3" x2="237.9" y2="442.93" stroke="#3a6f9e" stroke-width="0.9"/>
<line x1="236.3" y1="437.3" x2="239.5" y2="437.3" stroke="#3a6f9e" stroke-width="0.9"/>
<line x1="236.3" y1="442.93" x2="239.5" y2="442.93" stroke="#3a6f9e" stroke-width="0.9"/>
<path d="M237.9 437.32L240.7 440.12L237.9 442.92L235.1 440.12Z" fill="#3a6f9e" stroke="none" stroke-width="1"/>
<line x1="248.67" y1="429.79" x2="248.67" y2="444.81" stroke="#3a6f9e" stroke-width="0.9"/>
<line x1="247.07" y1="429.79" x2="250.27" y2="429.79" stroke="#3a6f9e" stroke-width="0.9"/>
<line x1="247.07" y1="444.81" x2="250.27" y2="444.81" stroke="#3a6f9e" stroke-width="0.9"/>
<path d="M248.67 434.5L251.47 437.3L248.67 440.1L245.87 437.3Z" fill="#3a6f9e" stroke="none" stroke-width="1"/>
<line x1="259.44" y1="437.3" x2="259.44" y2="444.81" stroke="#3a6f9e" stroke-width="0.9"/>
<line x1="257.84" y1="437.3" x2="261.04" y2="437.3" stroke="#3a6f9e" stroke-width="0.9"/>
<line x1="257.84" y1="444.81" x2="261.04" y2="444.81" stroke="#3a6f9e" stroke-width="0.9"/>
<path d="M259.44 438.26L262.24 441.06L259.44 443.86L256.64 441.06Z" fill="#3a6f9e" stroke="none" stroke-width="1"/>
<line x1="270.22" y1="437.3" x2="270.22" y2="442.93" stroke="#3a6f9e" stroke-width="0.9"/>
<line x1="268.62" y1="437.3" x2="271.82" y2="437.3" stroke="#3a6f9e" stroke-width="0.9"/>
<line x1="268.62" y1="442.93" x2="271.82" y2="442.93" stroke="#3a6f9e" stroke-width="0.9"/>
<path d="M270.22 437.32L273.02 440.12L270.22 442.92L267.42 440.12Z" fill="#3a6f9e" stroke="none" stroke-width="1"/>
<line x1="280.99" y1="438.24" x2="280.99" y2="443.87" stroke="#3a6f9e" stroke-width="0.9"/>
<line x1="279.39" y1="438.24" x2="282.59" y2="438.24" stroke="#3a6f9e" stroke-width="0.9"/>
<line x1="279.39" y1="443.87" x2="282.59" y2="443.87" stroke="#3a6f9e" stroke-width="0.9"/>
<path d="M280.99 438.26L283.79 441.06L280.99 443.86L278.19 441.06Z" fill="#3a6f9e" stroke="none" stroke-width="1"/>
<line x1="291.76" y1="468.57" x2="291.76" y2="474.2" stroke="#3a6f9e" stroke-width="0.9"/>
<line x1="290.16" y1="468.57" x2="293.36" y2="468.57" stroke="#3a6f9e" stroke-width="0.9"/>
<line x1="290.16" y1="474.2" x2="293.36" y2="474.2" stroke="#3a6f9e" stroke-width="0.9"/>
<path d="M291.76 468.59L294.56 471.39L291.76 474.19L288.96 471.39Z" fill="#3a6f9e" stroke="none" stroke-width="1"/>
<line x1="302.53" y1="513.73" x2="302.53" y2="517.49" stroke="#3a6f9e" stroke-width="0.9"/>
<line x1="300.93" y1="513.73" x2="304.13" y2="513.73" stroke="#3a6f9e" stroke-width="0.9"/>
<line x1="300.93" y1="517.49" x2="304.13" y2="517.49" stroke="#3a6f9e" stroke-width="0.9"/>
<path d="M302.53 512.81L305.33 515.61L302.53 518.41L299.73 515.61Z" fill="#3a6f9e" stroke="none" stroke-width="1"/>
<line x1="313.31" y1="525.57" x2="313.31" y2="527.44" stroke="#3a6f9e" stroke-width="0.9"/>
<line x1="311.71" y1="525.57" x2="314.91" y2="525.57" stroke="#3a6f9e" stroke-width="0.9"/>
<line x1="311.71" y1="527.44" x2="314.91" y2="527.44" stroke="#3a6f9e" stroke-width="0.9"/>
<path d="M313.31 523.71L316.11 526.5L313.31 529.3L310.51 526.5Z" fill="#3a6f9e" stroke="none" stroke-width="1"/>
<line x1="324.08" y1="528.38" x2="324.08" y2="530.26" stroke="#3a6f9e" stroke-width="0.9"/>
<line x1="322.48" y1="528.38" x2="325.68" y2="528.38" stroke="#3a6f9e" stroke-width="0.9"/>
<line x1="322.48" y1="530.26" x2="325.68" y2="530.26" stroke="#3a6f9e" stroke-width="0.9"/>
<path d="M324.08 526.52L326.88 529.32L324.08 532.12L321.28 529.32Z" fill="#3a6f9e" stroke="none" stroke-width="1"/>
<line x1="334.85" y1="528.85" x2="334.85" y2="530.73" stroke="#3a6f9e" stroke-width="0.9"/>
<line x1="333.25" y1="528.85" x2="336.45" y2="528.85" stroke="#3a6f9e" stroke-width="0.9"/>
<line x1="333.25" y1="530.73" x2="336.45" y2="530.73" stroke="#3a6f9e" stroke-width="0.9"/>
<path d="M334.85 526.99L337.65 529.79L334.85 532.59L332.05 529.79Z" fill="#3a6f9e" stroke="none" stroke-width="1"/>
<line x1="237.9" y1="433.54" x2="237.9" y2="441.06" stroke="#3fae4f" stroke-width="0.9"/>
<line x1="236.3" y1="433.54" x2="239.5" y2="433.54" stroke="#3fae4f" stroke-width="0.9"/>
<line x1="236.3" y1="441.06" x2="239.5" y2="441.06" stroke="#3fae4f" stroke-width="0.9"/>
<path d="M237.9 434.4L240.8 439.62L235 439.62Z" fill="#3fae4f" stroke="none" stroke-width="1"/>
<line x1="248.67" y1="437.3" x2="248.67" y2="444.81" stroke="#3fae4f" stroke-width="0.9"/>
<line x1="247.07" y1="437.3" x2="250.27" y2="437.3" stroke="#3fae4f" stroke-width="0.9"/>
<line x1="247.07" y1="444.81" x2="250.27" y2="444.81" stroke="#3fae4f" stroke-width="0.9"/>
<path d="M248.67 438.16L251.57 443.38L245.77 443.38Z" fill="#3fae4f" stroke="none" stroke-width="1"/>
<line x1="259.44" y1="437.3" x2="259.44" y2="442.93" stroke="#3fae4f" stroke-width="0.9"/>
<line x1="257.84" y1="437.3" x2="261.04" y2="437.3" stroke="#3fae4f" stroke-width="0.9"/>
<line x1="257.84" y1="442.93" x2="261.04" y2="442.93" stroke="#3fae4f" stroke-width="0.9"/>
<path d="M259.44 437.22L262.34 442.44L256.54 442.44Z" fill="#3fae4f" stroke="none" stroke-width="1"/>
<line x1="270.22" y1="426.97" x2="270.22" y2="453.26" stroke="#3fae4f" stroke-width="0.9"/>
<line x1="268.62" y1="426.97" x2="271.82" y2="426.97" stroke="#3fae4f" stroke-width="0.9"/>
<line x1="268.62" y1="453.26" x2="271.82" y2="453.26" stroke="#3fae4f" stroke-width="0.9"/>
<path d="M270.22 437.22L273.12 442.44L267.32 442.44Z" fill="#3fae4f" stroke="none" stroke-width="1"/>
<line x1="280.99" y1="429.79" x2="280.99" y2="448.57" stroke="#3fae4f" stroke-width="0.9"/>
<line x1="279.39" y1="429.79" x2="282.59" y2="429.79" stroke="#3fae4f" stroke-width="0.9"/>
<line x1="279.39" y1="448.57" x2="282.59" y2="448.57" stroke="#3fae4f" stroke-width="0.9"/>
<path d="M280.99 436.28L283.89 441.5L278.09 441.5Z" fill="#3fae4f" stroke="none" stroke-width="1"/>
<line x1="291.76" y1="471.95" x2="291.76" y2="479.46" stroke="#3fae4f" stroke-width="0.9"/>
<line x1="290.16" y1="471.95" x2="293.36" y2="471.95" stroke="#3fae4f" stroke-width="0.9"/>
<line x1="290.16" y1="479.46" x2="293.36" y2="479.46" stroke="#3fae4f" stroke-width="0.9"/>
<path d="M291.76 472.81L294.66 478.03L288.86 478.03Z" fill="#3fae4f" stroke="none" stroke-width="1"/>
<line x1="302.53" y1="511.95" x2="302.53" y2="517.58" stroke="#3fae4f" stroke-width="0.9"/>
<line x1="300.93" y1="511.95" x2="304.13" y2="511.95" stroke="#3fae4f" stroke-width="0.9"/>
<line x1="300.93" y1="517.58" x2="304.13" y2="517.58" stroke="#3fae4f" stroke-width="0.9"/>
<path d="M302.53 511.87L305.43 517.09L299.63 517.09Z" fill="#3fae4f" stroke="none" stroke-width="1"/>
<line x1="313.31" y1="522.37" x2="313.31" y2="526.13" stroke="#3fae4f" stroke-width="0.9"/>
<line x1="311.71" y1="522.37" x2="314.91" y2="522.37" stroke="#3fae4f" stroke-width="0.9"/>
<line x1="311.71" y1="526.13" x2="314.91" y2="526.13" stroke="#3fae4f" stroke-width="0.9"/>
<path d="M313.31 521.35L316.21 526.57L310.41 526.57Z" fill="#3fae4f" stroke="none" stroke-width="1"/>
<line x1="324.08" y1="528.38" x2="324.08" y2="530.26" stroke="#3fae4f" stroke-width="0.9"/>
<line x1="322.48" y1="528.38" x2="325.68" y2="528.38" stroke="#3fae4f" stroke-width="0.9"/>
<line x1="322.48" y1="530.26" x2="325.68" y2="530.26" stroke="#3fae4f" stroke-width="0.9"/>
<path d="M324.08 526.42L326.98 531.64L321.18 531.64Z" fill="#3fae4f" stroke="none" stroke-width="1"/>
<line x1="334.85" y1="528.85" x2="334.85" y2="530.73" stroke="#3fae4f" stroke-width="0.9"/>
<line x1="333.25" y1="528.85" x2="336.45" y2="528.85" stroke="#3fae4f" stroke-width="0.9"/>
<line x1="333.25" y1="530.73" x2="336.45" y2="530.73" stroke="#3fae4f" stroke-width="0.9"/>
<path d="M334.85 526.89L337.75 532.11L331.95 532.11Z" fill="#3fae4f" stroke="none" stroke-width="1"/>
<line x1="237.9" y1="443.59" x2="237.9" y2="454.86" stroke="#e2262b" stroke-width="0.9"/>
<line x1="236.3" y1="443.59" x2="239.5" y2="443.59" stroke="#e2262b" stroke-width="0.9"/>
<line x1="236.3" y1="454.86" x2="239.5" y2="454.86" stroke="#e2262b" stroke-width="0.9"/>
<rect x="235.6" y="446.93" width="4.6" height="4.6" fill="#e2262b"/>
<line x1="248.67" y1="441.24" x2="248.67" y2="448.76" stroke="#e2262b" stroke-width="0.9"/>
<line x1="247.07" y1="441.24" x2="250.27" y2="441.24" stroke="#e2262b" stroke-width="0.9"/>
<line x1="247.07" y1="448.76" x2="250.27" y2="448.76" stroke="#e2262b" stroke-width="0.9"/>
<rect x="246.37" y="442.7" width="4.6" height="4.6" fill="#e2262b"/>
<line x1="259.44" y1="444.53" x2="259.44" y2="470.82" stroke="#e2262b" stroke-width="0.9"/>
<line x1="257.84" y1="444.53" x2="261.04" y2="444.53" stroke="#e2262b" stroke-width="0.9"/>
<line x1="257.84" y1="470.82" x2="261.04" y2="470.82" stroke="#e2262b" stroke-width="0.9"/>
<rect x="257.14" y="455.38" width="4.6" height="4.6" fill="#e2262b"/>
<line x1="270.22" y1="439.18" x2="270.22" y2="444.81" stroke="#e2262b" stroke-width="0.9"/>
<line x1="268.62" y1="439.18" x2="271.82" y2="439.18" stroke="#e2262b" stroke-width="0.9"/>
<line x1="268.62" y1="444.81" x2="271.82" y2="444.81" stroke="#e2262b" stroke-width="0.9"/>
<rect x="267.92" y="439.7" width="4.6" height="4.6" fill="#e2262b"/>
<line x1="280.99" y1="464.53" x2="280.99" y2="473.92" stroke="#e2262b" stroke-width="0.9"/>
<line x1="279.39" y1="464.53" x2="282.59" y2="464.53" stroke="#e2262b" stroke-width="0.9"/>
<line x1="279.39" y1="473.92" x2="282.59" y2="473.92" stroke="#e2262b" stroke-width="0.9"/>
<rect x="278.69" y="466.93" width="4.6" height="4.6" fill="#e2262b"/>
<line x1="291.76" y1="503.59" x2="291.76" y2="511.11" stroke="#e2262b" stroke-width="0.9"/>
<line x1="290.16" y1="503.59" x2="293.36" y2="503.59" stroke="#e2262b" stroke-width="0.9"/>
<line x1="290.16" y1="511.11" x2="293.36" y2="511.11" stroke="#e2262b" stroke-width="0.9"/>
<rect x="289.46" y="505.05" width="4.6" height="4.6" fill="#e2262b"/>
<line x1="302.53" y1="522.37" x2="302.53" y2="526.13" stroke="#e2262b" stroke-width="0.9"/>
<line x1="300.93" y1="522.37" x2="304.13" y2="522.37" stroke="#e2262b" stroke-width="0.9"/>
<line x1="300.93" y1="526.13" x2="304.13" y2="526.13" stroke="#e2262b" stroke-width="0.9"/>
<rect x="300.23" y="521.95" width="4.6" height="4.6" fill="#e2262b"/>
<line x1="313.31" y1="527.54" x2="313.31" y2="529.42" stroke="#e2262b" stroke-width="0.9"/>
<line x1="311.71" y1="527.54" x2="314.91" y2="527.54" stroke="#e2262b" stroke-width="0.9"/>
<line x1="311.71" y1="529.42" x2="314.91" y2="529.42" stroke="#e2262b" stroke-width="0.9"/>
<rect x="311.01" y="526.18" width="4.6" height="4.6" fill="#e2262b"/>
<line x1="324.08" y1="528.57" x2="324.08" y2="530.45" stroke="#e2262b" stroke-width="0.9"/>
<line x1="322.48" y1="528.57" x2="325.68" y2="528.57" stroke="#e2262b" stroke-width="0.9"/>
<line x1="322.48" y1="530.45" x2="325.68" y2="530.45" stroke="#e2262b" stroke-width="0.9"/>
<rect x="321.78" y="527.21" width="4.6" height="4.6" fill="#e2262b"/>
<line x1="334.85" y1="528.57" x2="334.85" y2="530.45" stroke="#e2262b" stroke-width="0.9"/>
<line x1="333.25" y1="528.57" x2="336.45" y2="528.57" stroke="#e2262b" stroke-width="0.9"/>
<line x1="333.25" y1="530.45" x2="336.45" y2="530.45" stroke="#e2262b" stroke-width="0.9"/>
<rect x="332.55" y="527.21" width="4.6" height="4.6" fill="#e2262b"/>
<line x1="237.9" y1="439.93" x2="237.9" y2="443.69" stroke="#111" stroke-width="0.9"/>
<line x1="236.3" y1="439.93" x2="239.5" y2="439.93" stroke="#111" stroke-width="0.9"/>
<line x1="236.3" y1="443.69" x2="239.5" y2="443.69" stroke="#111" stroke-width="0.9"/>
<circle cx="237.9" cy="441.81" r="2.4" fill="#111" stroke="none" stroke-width="1"/>
<line x1="248.67" y1="441.06" x2="248.67" y2="444.81" stroke="#111" stroke-width="0.9"/>
<line x1="247.07" y1="441.06" x2="250.27" y2="441.06" stroke="#111" stroke-width="0.9"/>
<line x1="247.07" y1="444.81" x2="250.27" y2="444.81" stroke="#111" stroke-width="0.9"/>
<circle cx="248.67" cy="442.93" r="2.4" fill="#111" stroke="none" stroke-width="1"/>
<line x1="259.44" y1="439.55" x2="259.44" y2="443.31" stroke="#111" stroke-width="0.9"/>
<line x1="257.84" y1="439.55" x2="261.04" y2="439.55" stroke="#111" stroke-width="0.9"/>
<line x1="257.84" y1="443.31" x2="261.04" y2="443.31" stroke="#111" stroke-width="0.9"/>
<circle cx="259.44" cy="441.43" r="2.4" fill="#111" stroke="none" stroke-width="1"/>
<line x1="270.22" y1="435.42" x2="270.22" y2="439.18" stroke="#111" stroke-width="0.9"/>
<line x1="268.62" y1="435.42" x2="271.82" y2="435.42" stroke="#111" stroke-width="0.9"/>
<line x1="268.62" y1="439.18" x2="271.82" y2="439.18" stroke="#111" stroke-width="0.9"/>
<circle cx="270.22" cy="437.3" r="2.4" fill="#111" stroke="none" stroke-width="1"/>
<line x1="280.99" y1="439.93" x2="280.99" y2="443.69" stroke="#111" stroke-width="0.9"/>
<line x1="279.39" y1="439.93" x2="282.59" y2="439.93" stroke="#111" stroke-width="0.9"/>
<line x1="279.39" y1="443.69" x2="282.59" y2="443.69" stroke="#111" stroke-width="0.9"/>
<circle cx="280.99" cy="441.81" r="2.4" fill="#111" stroke="none" stroke-width="1"/>
<line x1="291.76" y1="448.85" x2="291.76" y2="452.61" stroke="#111" stroke-width="0.9"/>
<line x1="290.16" y1="448.85" x2="293.36" y2="448.85" stroke="#111" stroke-width="0.9"/>
<line x1="290.16" y1="452.61" x2="293.36" y2="452.61" stroke="#111" stroke-width="0.9"/>
<circle cx="291.76" cy="450.73" r="2.4" fill="#111" stroke="none" stroke-width="1"/>
<line x1="302.53" y1="462.28" x2="302.53" y2="469.79" stroke="#111" stroke-width="0.9"/>
<line x1="300.93" y1="462.28" x2="304.13" y2="462.28" stroke="#111" stroke-width="0.9"/>
<line x1="300.93" y1="469.79" x2="304.13" y2="469.79" stroke="#111" stroke-width="0.9"/>
<circle cx="302.53" cy="466.03" r="2.4" fill="#111" stroke="none" stroke-width="1"/>
<line x1="313.31" y1="479.56" x2="313.31" y2="485.19" stroke="#111" stroke-width="0.9"/>
<line x1="311.71" y1="479.56" x2="314.91" y2="479.56" stroke="#111" stroke-width="0.9"/>
<line x1="311.71" y1="485.19" x2="314.91" y2="485.19" stroke="#111" stroke-width="0.9"/>
<circle cx="313.31" cy="482.37" r="2.4" fill="#111" stroke="none" stroke-width="1"/>
<line x1="324.08" y1="495.33" x2="324.08" y2="499.09" stroke="#111" stroke-width="0.9"/>
<line x1="322.48" y1="495.33" x2="325.68" y2="495.33" stroke="#111" stroke-width="0.9"/>
<line x1="322.48" y1="499.09" x2="325.68" y2="499.09" stroke="#111" stroke-width="0.9"/>
<circle cx="324.08" cy="497.21" r="2.4" fill="#111" stroke="none" stroke-width="1"/>
<line x1="334.85" y1="498.24" x2="334.85" y2="503.88" stroke="#111" stroke-width="0.9"/>
<line x1="333.25" y1="498.24" x2="336.45" y2="498.24" stroke="#111" stroke-width="0.9"/>
<line x1="333.25" y1="503.88" x2="336.45" y2="503.88" stroke="#111" stroke-width="0.9"/>
<circle cx="334.85" cy="501.06" r="2.4" fill="#111" stroke="none" stroke-width="1"/>
<line x1="231.3" y1="417.58" x2="231.3" y2="532.6" stroke="#000" stroke-width="1.6"/>
<line x1="230.5" y1="531.8" x2="341.35" y2="531.8" stroke="#000" stroke-width="1.8"/>
<line x1="228.8" y1="531.2" x2="231.3" y2="531.2" stroke="#000" stroke-width="1.1"/>
<text x="229.1" y="534.26" font-size="8.5" font-weight="bold" text-anchor="end">0</text>
<line x1="228.8" y1="512.42" x2="231.3" y2="512.42" stroke="#000" stroke-width="1.1"/>
<text x="229.1" y="515.48" font-size="8.5" font-weight="bold" text-anchor="end">20</text>
<line x1="228.8" y1="493.64" x2="231.3" y2="493.64" stroke="#000" stroke-width="1.1"/>
<text x="229.1" y="496.7" font-size="8.5" font-weight="bold" text-anchor="end">40</text>
<line x1="228.8" y1="484.25" x2="231.3" y2="484.25" stroke="#000" stroke-width="1.1"/>
<text x="229.1" y="487.31" font-size="8.5" font-weight="bold" text-anchor="end">50</text>
<line x1="228.8" y1="474.86" x2="231.3" y2="474.86" stroke="#000" stroke-width="1.1"/>
<text x="229.1" y="477.92" font-size="8.5" font-weight="bold" text-anchor="end">60</text>
<line x1="228.8" y1="456.08" x2="231.3" y2="456.08" stroke="#000" stroke-width="1.1"/>
<text x="229.1" y="459.14" font-size="8.5" font-weight="bold" text-anchor="end">80</text>
<line x1="228.8" y1="437.3" x2="231.3" y2="437.3" stroke="#000" stroke-width="1.1"/>
<text x="229.1" y="440.36" font-size="8.5" font-weight="bold" text-anchor="end">100</text>
<line x1="228.8" y1="418.52" x2="231.3" y2="418.52" stroke="#000" stroke-width="1.1"/>
<text x="229.1" y="421.58" font-size="8.5" font-weight="bold" text-anchor="end">120</text>
<line x1="237.9" y1="531.8" x2="237.9" y2="534.3" stroke="#000" stroke-width="1.1"/>
<text x="238.5" y="541.2" font-size="9" font-weight="bold" text-anchor="middle">-7</text>
<line x1="251.75" y1="531.8" x2="251.75" y2="534.3" stroke="#000" stroke-width="1.1"/>
<text x="252.35" y="541.2" font-size="9" font-weight="bold" text-anchor="middle">-6</text>
<line x1="265.6" y1="531.8" x2="265.6" y2="534.3" stroke="#000" stroke-width="1.1"/>
<text x="266.2" y="541.2" font-size="9" font-weight="bold" text-anchor="middle">-5</text>
<line x1="279.45" y1="531.8" x2="279.45" y2="534.3" stroke="#000" stroke-width="1.1"/>
<text x="280.05" y="541.2" font-size="9" font-weight="bold" text-anchor="middle">-4</text>
<line x1="293.3" y1="531.8" x2="293.3" y2="534.3" stroke="#000" stroke-width="1.1"/>
<text x="293.9" y="541.2" font-size="9" font-weight="bold" text-anchor="middle">-3</text>
<line x1="307.15" y1="531.8" x2="307.15" y2="534.3" stroke="#000" stroke-width="1.1"/>
<text x="307.75" y="541.2" font-size="9" font-weight="bold" text-anchor="middle">-2</text>
<line x1="321" y1="531.8" x2="321" y2="534.3" stroke="#000" stroke-width="1.1"/>
<text x="321.6" y="541.2" font-size="9" font-weight="bold" text-anchor="middle">-1</text>
<line x1="334.85" y1="531.8" x2="334.85" y2="534.3" stroke="#000" stroke-width="1.1"/>
<text x="335.45" y="541.2" font-size="9" font-weight="bold" text-anchor="middle">0</text>
<line x1="387" y1="490.07" x2="496.65" y2="490.07" stroke="#7cc88a" stroke-width="1" stroke-dasharray="1.2,0.5"/>
<line x1="387" y1="505.28" x2="496.65" y2="505.28" stroke="#6a76b0" stroke-width="1" stroke-dasharray="1.2,0.5"/>
<line x1="387" y1="518.99" x2="496.65" y2="518.99" stroke="#333" stroke-width="1" stroke-dasharray="1.2,0.8"/>
<line x1="387" y1="484.25" x2="496.65" y2="484.25" stroke="#222" stroke-width="1.1" stroke-dasharray="1.4,1.1"/>
<path d="M393.2 457.02L394.41 457.02L395.62 457.02L396.84 457.02L398.05 457.02L399.26 457.02L400.47 457.02L401.68 457.02L402.89 457.02L404.11 457.02L405.32 457.02L406.53 457.03L407.74 457.03L408.95 457.03L410.17 457.04L411.38 457.04L412.59 457.05L413.8 457.05L415.01 457.06L416.23 457.08L417.44 457.1L418.65 457.12L419.86 457.15L421.07 457.19L422.28 457.24L423.5 457.3L424.71 457.39L425.92 457.5L427.13 457.64L428.34 457.83L429.56 458.06L430.77 458.37L431.98 458.77L433.19 459.27L434.4 459.92L435.62 460.75L436.83 461.79L438.04 463.1L439.25 464.73L440.46 466.73L441.68 469.16L442.89 472.04L444.1 475.41L445.31 479.25L446.52 483.5L447.73 488.07L448.95 492.82L450.16 497.6L451.37 502.25L452.58 506.62L453.79 510.6L455.01 514.14L456.22 517.19L457.43 519.77L458.64 521.91L459.85 523.66L461.06 525.07L462.28 526.2L463.49 527.1L464.7 527.8L465.91 528.35L467.12 528.78L468.34 529.12L469.55 529.38L470.76 529.58L471.97 529.74L473.18 529.86L474.4 529.95L475.61 530.02L476.82 530.08L478.03 530.12L479.24 530.15L480.45 530.18L481.67 530.2L482.88 530.21L484.09 530.22L485.3 530.23L486.51 530.24L487.73 530.24L488.94 530.25L490.15 530.25" fill="none" stroke="#3fae4f" stroke-width="1.6" stroke-linejoin="round"/>
<path d="M393.2 438.24L394.41 438.24L395.62 438.24L396.84 438.24L398.05 438.24L399.26 438.24L400.47 438.24L401.68 438.24L402.89 438.24L404.11 438.24L405.32 438.24L406.53 438.24L407.74 438.24L408.95 438.25L410.17 438.25L411.38 438.25L412.59 438.25L413.8 438.26L415.01 438.26L416.23 438.27L417.44 438.28L418.65 438.3L419.86 438.32L421.07 438.34L422.28 438.37L423.5 438.42L424.71 438.48L425.92 438.55L427.13 438.66L428.34 438.79L429.56 438.97L430.77 439.21L431.98 439.52L433.19 439.93L434.4 440.47L435.62 441.17L436.83 442.09L438.04 443.27L439.25 444.79L440.46 446.73L441.68 449.17L442.89 452.18L444.1 455.85L445.31 460.22L446.52 465.26L447.73 470.93L448.95 477.06L450.16 483.46L451.37 489.89L452.58 496.08L453.79 501.84L455.01 507L456.22 511.48L457.43 515.27L458.64 518.39L459.85 520.92L461.06 522.94L462.28 524.53L463.49 525.76L464.7 526.72L465.91 527.46L467.12 528.02L468.34 528.45L469.55 528.77L470.76 529.02L471.97 529.21L473.18 529.35L474.4 529.46L475.61 529.54L476.82 529.6L478.03 529.65L479.24 529.68L480.45 529.71L481.67 529.73L482.88 529.75L484.09 529.76L485.3 529.77L486.51 529.77L487.73 529.78L488.94 529.78L490.15 529.78" fill="none" stroke="#34488f" stroke-width="1.6" stroke-linejoin="round"/>
<path d="M393.2 439.18L394.41 439.18L395.62 439.18L396.84 439.18L398.05 439.18L399.26 439.18L400.47 439.18L401.68 439.18L402.89 439.18L404.11 439.18L405.32 439.18L406.53 439.18L407.74 439.18L408.95 439.18L410.17 439.19L411.38 439.19L412.59 439.19L413.8 439.2L415.01 439.2L416.23 439.21L417.44 439.22L418.65 439.23L419.86 439.25L421.07 439.27L422.28 439.3L423.5 439.34L424.71 439.39L425.92 439.46L427.13 439.55L428.34 439.66L429.56 439.81L430.77 440.01L431.98 440.26L433.19 440.6L434.4 441.03L435.62 441.59L436.83 442.32L438.04 443.26L439.25 444.46L440.46 445.99L441.68 447.91L442.89 450.31L444.1 453.24L445.31 456.79L446.52 460.97L447.73 465.78L448.95 471.16L450.16 476.98L451.37 483.08L452.58 489.22L453.79 495.19L455.01 500.8L456.22 505.88L457.43 510.35L458.64 514.18L459.85 517.39L461.06 520.03L462.28 522.16L463.49 523.86L464.7 525.2L465.91 526.25L467.12 527.07L468.34 527.7L469.55 528.19L470.76 528.57L471.97 528.85L473.18 529.08L474.4 529.25L475.61 529.37L476.82 529.47L478.03 529.55L479.24 529.61L480.45 529.65L481.67 529.68L482.88 529.71L484.09 529.73L485.3 529.74L486.51 529.76L487.73 529.76L488.94 529.77L490.15 529.78" fill="none" stroke="#111" stroke-width="1.6" stroke-linejoin="round"/>
<line x1="393.2" y1="481.15" x2="393.2" y2="483.03" stroke="#3fae4f" stroke-width="0.9"/>
<line x1="391.6" y1="481.15" x2="394.8" y2="481.15" stroke="#3fae4f" stroke-width="0.9"/>
<line x1="391.6" y1="483.03" x2="394.8" y2="483.03" stroke="#3fae4f" stroke-width="0.9"/>
<path d="M393.2 479.19L396.1 484.41L390.3 484.41Z" fill="#3fae4f" stroke="none" stroke-width="1"/>
<line x1="403.97" y1="459.55" x2="403.97" y2="461.43" stroke="#3fae4f" stroke-width="0.9"/>
<line x1="402.37" y1="459.55" x2="405.57" y2="459.55" stroke="#3fae4f" stroke-width="0.9"/>
<line x1="402.37" y1="461.43" x2="405.57" y2="461.43" stroke="#3fae4f" stroke-width="0.9"/>
<path d="M403.97 457.59L406.87 462.81L401.07 462.81Z" fill="#3fae4f" stroke="none" stroke-width="1"/>
<line x1="414.74" y1="435.99" x2="414.74" y2="456.64" stroke="#3fae4f" stroke-width="0.9"/>
<line x1="413.14" y1="435.99" x2="416.34" y2="435.99" stroke="#3fae4f" stroke-width="0.9"/>
<line x1="413.14" y1="456.64" x2="416.34" y2="456.64" stroke="#3fae4f" stroke-width="0.9"/>
<path d="M414.74 443.41L417.64 448.63L411.84 448.63Z" fill="#3fae4f" stroke="none" stroke-width="1"/>
<line x1="425.52" y1="432.61" x2="425.52" y2="457.02" stroke="#3fae4f" stroke-width="0.9"/>
<line x1="423.92" y1="432.61" x2="427.12" y2="432.61" stroke="#3fae4f" stroke-width="0.9"/>
<line x1="423.92" y1="457.02" x2="427.12" y2="457.02" stroke="#3fae4f" stroke-width="0.9"/>
<path d="M425.52 441.91L428.42 447.13L422.62 447.13Z" fill="#3fae4f" stroke="none" stroke-width="1"/>
<line x1="436.29" y1="450.07" x2="436.29" y2="461.34" stroke="#3fae4f" stroke-width="0.9"/>
<line x1="434.69" y1="450.07" x2="437.89" y2="450.07" stroke="#3fae4f" stroke-width="0.9"/>
<line x1="434.69" y1="461.34" x2="437.89" y2="461.34" stroke="#3fae4f" stroke-width="0.9"/>
<path d="M436.29 452.8L439.19 458.02L433.39 458.02Z" fill="#3fae4f" stroke="none" stroke-width="1"/>
<line x1="447.06" y1="481.25" x2="447.06" y2="485" stroke="#3fae4f" stroke-width="0.9"/>
<line x1="445.46" y1="481.25" x2="448.66" y2="481.25" stroke="#3fae4f" stroke-width="0.9"/>
<line x1="445.46" y1="485" x2="448.66" y2="485" stroke="#3fae4f" stroke-width="0.9"/>
<path d="M447.06 480.22L449.96 485.44L444.16 485.44Z" fill="#3fae4f" stroke="none" stroke-width="1"/>
<line x1="457.83" y1="509.7" x2="457.83" y2="513.45" stroke="#3fae4f" stroke-width="0.9"/>
<line x1="456.23" y1="509.7" x2="459.43" y2="509.7" stroke="#3fae4f" stroke-width="0.9"/>
<line x1="456.23" y1="513.45" x2="459.43" y2="513.45" stroke="#3fae4f" stroke-width="0.9"/>
<path d="M457.83 508.67L460.73 513.89L454.93 513.89Z" fill="#3fae4f" stroke="none" stroke-width="1"/>
<line x1="468.61" y1="525.57" x2="468.61" y2="527.44" stroke="#3fae4f" stroke-width="0.9"/>
<line x1="467.01" y1="525.57" x2="470.21" y2="525.57" stroke="#3fae4f" stroke-width="0.9"/>
<line x1="467.01" y1="527.44" x2="470.21" y2="527.44" stroke="#3fae4f" stroke-width="0.9"/>
<path d="M468.61 523.61L471.51 528.83L465.71 528.83Z" fill="#3fae4f" stroke="none" stroke-width="1"/>
<line x1="479.38" y1="528.85" x2="479.38" y2="530.73" stroke="#3fae4f" stroke-width="0.9"/>
<line x1="477.78" y1="528.85" x2="480.98" y2="528.85" stroke="#3fae4f" stroke-width="0.9"/>
<line x1="477.78" y1="530.73" x2="480.98" y2="530.73" stroke="#3fae4f" stroke-width="0.9"/>
<path d="M479.38 526.89L482.28 532.11L476.48 532.11Z" fill="#3fae4f" stroke="none" stroke-width="1"/>
<line x1="490.15" y1="528.85" x2="490.15" y2="530.73" stroke="#3fae4f" stroke-width="0.9"/>
<line x1="488.55" y1="528.85" x2="491.75" y2="528.85" stroke="#3fae4f" stroke-width="0.9"/>
<line x1="488.55" y1="530.73" x2="491.75" y2="530.73" stroke="#3fae4f" stroke-width="0.9"/>
<path d="M490.15 526.89L493.05 532.11L487.25 532.11Z" fill="#3fae4f" stroke="none" stroke-width="1"/>
<line x1="393.2" y1="435.42" x2="393.2" y2="439.18" stroke="#34488f" stroke-width="0.9"/>
<line x1="391.6" y1="435.42" x2="394.8" y2="435.42" stroke="#34488f" stroke-width="0.9"/>
<line x1="391.6" y1="439.18" x2="394.8" y2="439.18" stroke="#34488f" stroke-width="0.9"/>
<path d="M393.2 434.5L396 437.3L393.2 440.1L390.4 437.3Z" fill="#34488f" stroke="none" stroke-width="1"/>
<line x1="403.97" y1="434.48" x2="403.97" y2="445.75" stroke="#34488f" stroke-width="0.9"/>
<line x1="402.37" y1="434.48" x2="405.57" y2="434.48" stroke="#34488f" stroke-width="0.9"/>
<line x1="402.37" y1="445.75" x2="405.57" y2="445.75" stroke="#34488f" stroke-width="0.9"/>
<path d="M403.97 437.32L406.77 440.12L403.97 442.92L401.17 440.12Z" fill="#34488f" stroke="none" stroke-width="1"/>
<line x1="414.74" y1="434.48" x2="414.74" y2="442" stroke="#34488f" stroke-width="0.9"/>
<line x1="413.14" y1="434.48" x2="416.34" y2="434.48" stroke="#34488f" stroke-width="0.9"/>
<line x1="413.14" y1="442" x2="416.34" y2="442" stroke="#34488f" stroke-width="0.9"/>
<path d="M414.74 435.44L417.54 438.24L414.74 441.04L411.94 438.24Z" fill="#34488f" stroke="none" stroke-width="1"/>
<line x1="425.52" y1="438.24" x2="425.52" y2="443.87" stroke="#34488f" stroke-width="0.9"/>
<line x1="423.92" y1="438.24" x2="427.12" y2="438.24" stroke="#34488f" stroke-width="0.9"/>
<line x1="423.92" y1="443.87" x2="427.12" y2="443.87" stroke="#34488f" stroke-width="0.9"/>
<path d="M425.52 438.26L428.32 441.06L425.52 443.86L422.72 441.06Z" fill="#34488f" stroke="none" stroke-width="1"/>
<line x1="436.29" y1="445.75" x2="436.29" y2="451.39" stroke="#34488f" stroke-width="0.9"/>
<line x1="434.69" y1="445.75" x2="437.89" y2="445.75" stroke="#34488f" stroke-width="0.9"/>
<line x1="434.69" y1="451.39" x2="437.89" y2="451.39" stroke="#34488f" stroke-width="0.9"/>
<path d="M436.29 445.77L439.09 448.57L436.29 451.37L433.49 448.57Z" fill="#34488f" stroke="none" stroke-width="1"/>
<line x1="447.06" y1="458.9" x2="447.06" y2="464.53" stroke="#34488f" stroke-width="0.9"/>
<line x1="445.46" y1="458.9" x2="448.66" y2="458.9" stroke="#34488f" stroke-width="0.9"/>
<line x1="445.46" y1="464.53" x2="448.66" y2="464.53" stroke="#34488f" stroke-width="0.9"/>
<path d="M447.06 458.91L449.86 461.71L447.06 464.51L444.26 461.71Z" fill="#34488f" stroke="none" stroke-width="1"/>
<line x1="457.83" y1="508.66" x2="457.83" y2="512.42" stroke="#34488f" stroke-width="0.9"/>
<line x1="456.23" y1="508.66" x2="459.43" y2="508.66" stroke="#34488f" stroke-width="0.9"/>
<line x1="456.23" y1="512.42" x2="459.43" y2="512.42" stroke="#34488f" stroke-width="0.9"/>
<path d="M457.83 507.74L460.63 510.54L457.83 513.34L455.03 510.54Z" fill="#34488f" stroke="none" stroke-width="1"/>
<line x1="468.61" y1="524.63" x2="468.61" y2="526.5" stroke="#34488f" stroke-width="0.9"/>
<line x1="467.01" y1="524.63" x2="470.21" y2="524.63" stroke="#34488f" stroke-width="0.9"/>
<line x1="467.01" y1="526.5" x2="470.21" y2="526.5" stroke="#34488f" stroke-width="0.9"/>
<path d="M468.61 522.77L471.41 525.57L468.61 528.37L465.81 525.57Z" fill="#34488f" stroke="none" stroke-width="1"/>
<line x1="479.38" y1="528.85" x2="479.38" y2="530.73" stroke="#34488f" stroke-width="0.9"/>
<line x1="477.78" y1="528.85" x2="480.98" y2="528.85" stroke="#34488f" stroke-width="0.9"/>
<line x1="477.78" y1="530.73" x2="480.98" y2="530.73" stroke="#34488f" stroke-width="0.9"/>
<path d="M479.38 526.99L482.18 529.79L479.38 532.59L476.58 529.79Z" fill="#34488f" stroke="none" stroke-width="1"/>
<line x1="490.15" y1="528.85" x2="490.15" y2="530.73" stroke="#34488f" stroke-width="0.9"/>
<line x1="488.55" y1="528.85" x2="491.75" y2="528.85" stroke="#34488f" stroke-width="0.9"/>
<line x1="488.55" y1="530.73" x2="491.75" y2="530.73" stroke="#34488f" stroke-width="0.9"/>
<path d="M490.15 526.99L492.95 529.79L490.15 532.59L487.35 529.79Z" fill="#34488f" stroke="none" stroke-width="1"/>
<line x1="393.2" y1="436.45" x2="393.2" y2="438.33" stroke="#111" stroke-width="0.9"/>
<line x1="391.6" y1="436.45" x2="394.8" y2="436.45" stroke="#111" stroke-width="0.9"/>
<line x1="391.6" y1="438.33" x2="394.8" y2="438.33" stroke="#111" stroke-width="0.9"/>
<circle cx="393.2" cy="437.39" r="2.4" fill="#111" stroke="none" stroke-width="1"/>
<line x1="403.97" y1="438.71" x2="403.97" y2="446.22" stroke="#111" stroke-width="0.9"/>
<line x1="402.37" y1="438.71" x2="405.57" y2="438.71" stroke="#111" stroke-width="0.9"/>
<line x1="402.37" y1="446.22" x2="405.57" y2="446.22" stroke="#111" stroke-width="0.9"/>
<circle cx="403.97" cy="442.46" r="2.4" fill="#111" stroke="none" stroke-width="1"/>
<line x1="414.74" y1="434.95" x2="414.74" y2="440.59" stroke="#111" stroke-width="0.9"/>
<line x1="413.14" y1="434.95" x2="416.34" y2="434.95" stroke="#111" stroke-width="0.9"/>
<line x1="413.14" y1="440.59" x2="416.34" y2="440.59" stroke="#111" stroke-width="0.9"/>
<circle cx="414.74" cy="437.77" r="2.4" fill="#111" stroke="none" stroke-width="1"/>
<line x1="425.52" y1="437.3" x2="425.52" y2="446.69" stroke="#111" stroke-width="0.9"/>
<line x1="423.92" y1="437.3" x2="427.12" y2="437.3" stroke="#111" stroke-width="0.9"/>
<line x1="423.92" y1="446.69" x2="427.12" y2="446.69" stroke="#111" stroke-width="0.9"/>
<circle cx="425.52" cy="442" r="2.4" fill="#111" stroke="none" stroke-width="1"/>
<line x1="436.29" y1="445.56" x2="436.29" y2="451.2" stroke="#111" stroke-width="0.9"/>
<line x1="434.69" y1="445.56" x2="437.89" y2="445.56" stroke="#111" stroke-width="0.9"/>
<line x1="434.69" y1="451.2" x2="437.89" y2="451.2" stroke="#111" stroke-width="0.9"/>
<circle cx="436.29" cy="448.38" r="2.4" fill="#111" stroke="none" stroke-width="1"/>
<line x1="447.06" y1="457.11" x2="447.06" y2="462.75" stroke="#111" stroke-width="0.9"/>
<line x1="445.46" y1="457.11" x2="448.66" y2="457.11" stroke="#111" stroke-width="0.9"/>
<line x1="445.46" y1="462.75" x2="448.66" y2="462.75" stroke="#111" stroke-width="0.9"/>
<circle cx="447.06" cy="459.93" r="2.4" fill="#111" stroke="none" stroke-width="1"/>
<line x1="457.83" y1="506.6" x2="457.83" y2="510.35" stroke="#111" stroke-width="0.9"/>
<line x1="456.23" y1="506.6" x2="459.43" y2="506.6" stroke="#111" stroke-width="0.9"/>
<line x1="456.23" y1="510.35" x2="459.43" y2="510.35" stroke="#111" stroke-width="0.9"/>
<circle cx="457.83" cy="508.48" r="2.4" fill="#111" stroke="none" stroke-width="1"/>
<line x1="468.61" y1="524.35" x2="468.61" y2="526.22" stroke="#111" stroke-width="0.9"/>
<line x1="467.01" y1="524.35" x2="470.21" y2="524.35" stroke="#111" stroke-width="0.9"/>
<line x1="467.01" y1="526.22" x2="470.21" y2="526.22" stroke="#111" stroke-width="0.9"/>
<circle cx="468.61" cy="525.28" r="2.4" fill="#111" stroke="none" stroke-width="1"/>
<line x1="479.38" y1="528.57" x2="479.38" y2="530.45" stroke="#111" stroke-width="0.9"/>
<line x1="477.78" y1="528.57" x2="480.98" y2="528.57" stroke="#111" stroke-width="0.9"/>
<line x1="477.78" y1="530.45" x2="480.98" y2="530.45" stroke="#111" stroke-width="0.9"/>
<circle cx="479.38" cy="529.51" r="2.4" fill="#111" stroke="none" stroke-width="1"/>
<line x1="490.15" y1="528.57" x2="490.15" y2="530.45" stroke="#111" stroke-width="0.9"/>
<line x1="488.55" y1="528.57" x2="491.75" y2="528.57" stroke="#111" stroke-width="0.9"/>
<line x1="488.55" y1="530.45" x2="491.75" y2="530.45" stroke="#111" stroke-width="0.9"/>
<circle cx="490.15" cy="529.51" r="2.4" fill="#111" stroke="none" stroke-width="1"/>
<line x1="386" y1="417.58" x2="386" y2="532.6" stroke="#000" stroke-width="1.6"/>
<line x1="385.2" y1="531.8" x2="496.65" y2="531.8" stroke="#000" stroke-width="1.8"/>
<line x1="383.5" y1="531.2" x2="386" y2="531.2" stroke="#000" stroke-width="1.1"/>
<text x="383.8" y="534.26" font-size="8.5" font-weight="bold" text-anchor="end">0</text>
<line x1="383.5" y1="512.42" x2="386" y2="512.42" stroke="#000" stroke-width="1.1"/>
<text x="383.8" y="515.48" font-size="8.5" font-weight="bold" text-anchor="end">20</text>
<line x1="383.5" y1="493.64" x2="386" y2="493.64" stroke="#000" stroke-width="1.1"/>
<text x="383.8" y="496.7" font-size="8.5" font-weight="bold" text-anchor="end">40</text>
<line x1="383.5" y1="484.25" x2="386" y2="484.25" stroke="#000" stroke-width="1.1"/>
<text x="383.8" y="487.31" font-size="8.5" font-weight="bold" text-anchor="end">50</text>
<line x1="383.5" y1="474.86" x2="386" y2="474.86" stroke="#000" stroke-width="1.1"/>
<text x="383.8" y="477.92" font-size="8.5" font-weight="bold" text-anchor="end">60</text>
<line x1="383.5" y1="456.08" x2="386" y2="456.08" stroke="#000" stroke-width="1.1"/>
<text x="383.8" y="459.14" font-size="8.5" font-weight="bold" text-anchor="end">80</text>
<line x1="383.5" y1="437.3" x2="386" y2="437.3" stroke="#000" stroke-width="1.1"/>
<text x="383.8" y="440.36" font-size="8.5" font-weight="bold" text-anchor="end">100</text>
<line x1="383.5" y1="418.52" x2="386" y2="418.52" stroke="#000" stroke-width="1.1"/>
<text x="383.8" y="421.58" font-size="8.5" font-weight="bold" text-anchor="end">120</text>
<line x1="393.2" y1="531.8" x2="393.2" y2="534.3" stroke="#000" stroke-width="1.1"/>
<text x="393.8" y="541.2" font-size="9" font-weight="bold" text-anchor="middle">-7</text>
<line x1="407.05" y1="531.8" x2="407.05" y2="534.3" stroke="#000" stroke-width="1.1"/>
<text x="407.65" y="541.2" font-size="9" font-weight="bold" text-anchor="middle">-6</text>
<line x1="420.9" y1="531.8" x2="420.9" y2="534.3" stroke="#000" stroke-width="1.1"/>
<text x="421.5" y="541.2" font-size="9" font-weight="bold" text-anchor="middle">-5</text>
<line x1="434.75" y1="531.8" x2="434.75" y2="534.3" stroke="#000" stroke-width="1.1"/>
<text x="435.35" y="541.2" font-size="9" font-weight="bold" text-anchor="middle">-4</text>
<line x1="448.6" y1="531.8" x2="448.6" y2="534.3" stroke="#000" stroke-width="1.1"/>
<text x="449.2" y="541.2" font-size="9" font-weight="bold" text-anchor="middle">-3</text>
<line x1="462.45" y1="531.8" x2="462.45" y2="534.3" stroke="#000" stroke-width="1.1"/>
<text x="463.05" y="541.2" font-size="9" font-weight="bold" text-anchor="middle">-2</text>
<line x1="476.3" y1="531.8" x2="476.3" y2="534.3" stroke="#000" stroke-width="1.1"/>
<text x="476.9" y="541.2" font-size="9" font-weight="bold" text-anchor="middle">-1</text>
<line x1="490.15" y1="531.8" x2="490.15" y2="534.3" stroke="#000" stroke-width="1.1"/>
<text x="490.75" y="541.2" font-size="9" font-weight="bold" text-anchor="middle">0</text>
<text x="129.7" y="553.7" font-size="9" font-weight="bold" text-anchor="middle">Log<tspan font-size="6.5" dy="2">10</tspan><tspan dy="-2"> trametinib (µmol/L)</tspan></text>
<text x="287" y="553.7" font-size="9" font-weight="bold" text-anchor="middle">Log<tspan font-size="6.5" dy="2">10</tspan><tspan dy="-2"> trametinib (µmol/L)</tspan></text>
<text x="443.9" y="553.7" font-size="9" font-weight="bold" text-anchor="middle">Log<tspan font-size="6.5" dy="2">10</tspan><tspan dy="-2"> trametinib (µmol/L)</tspan></text>
<text x="53.2" y="471.6" font-size="8.8" font-weight="bold" text-anchor="middle" transform="rotate(-90 53.2 471.6)">Relative viability (%)</text>
<text x="210.8" y="472.4" font-size="8.8" font-weight="bold" text-anchor="middle" transform="rotate(-90 210.8 472.4)">Relative viability (%)</text>
<text x="364.8" y="472.4" font-size="8.8" font-weight="bold" text-anchor="middle" transform="rotate(-90 364.8 472.4)">Relative viability (%)</text>
<text x="41.4" y="472.4" font-size="10.4" font-weight="bold" text-anchor="middle" transform="rotate(-90 41.4 472.4)">Trametinib</text>
<text x="46" y="590.8" font-size="16.5" font-weight="bold">D</text>
<text x="156" y="585.6" font-size="11" font-weight="bold" text-anchor="middle">T3M-4</text>
<text x="156" y="597.1" font-size="10.5" font-style="italic" text-anchor="middle">KRAS Q61H</text>
<line x1="80.9" y1="705.14" x2="253.1" y2="705.14" stroke="#a8d8a0" stroke-width="1" stroke-dasharray="1.2,1.1"/>
<line x1="80.9" y1="714.38" x2="253.1" y2="714.38" stroke="#9aa0d0" stroke-width="1" stroke-dasharray="1.2,1.1"/>
<line x1="80.9" y1="670.4" x2="253.1" y2="670.4" stroke="#111" stroke-width="1.4" stroke-dasharray="1.3,1.0"/>
<path d="M86.88 622.19L88.72 622.19L90.56 622.19L92.4 622.19L94.24 622.19L96.08 622.19L97.92 622.19L99.77 622.19L101.61 622.19L103.45 622.19L105.29 622.19L107.13 622.2L108.97 622.2L110.81 622.2L112.65 622.2L114.49 622.2L116.34 622.21L118.18 622.21L120.02 622.21L121.86 622.22L123.7 622.22L125.54 622.22L127.38 622.23L129.22 622.23L131.06 622.24L132.91 622.25L134.75 622.26L136.59 622.27L138.43 622.28L140.27 622.29L142.11 622.3L143.95 622.32L145.79 622.34L147.63 622.36L149.48 622.38L151.32 622.41L153.16 622.44L155 622.47L156.84 622.51L158.68 622.55L160.52 622.6L162.36 622.65L164.2 622.71L166.04 622.78L167.89 622.86L169.73 622.95L171.57 623.05L173.41 623.16L175.25 623.29L177.09 623.43L178.93 623.6L180.77 623.78L182.61 623.99L184.46 624.22L186.3 624.48L188.14 624.77L189.98 625.1L191.82 625.47L193.66 625.89L195.5 626.36L197.34 626.88L199.18 627.47L201.03 628.12L202.87 628.84L204.71 629.65L206.55 630.55L208.39 631.55L210.23 632.65L212.07 633.86L213.91 635.19L215.75 636.65L217.6 638.24L219.44 639.96L221.28 641.83L223.12 643.84L224.96 645.99L226.8 648.28L228.64 650.71L230.48 653.27L232.32 655.94L234.17 658.72" fill="none" stroke="#3fae4f" stroke-width="1.6" stroke-linejoin="round"/>
<path d="M86.88 624.15L88.72 624.15L90.56 624.15L92.4 624.15L94.24 624.15L96.08 624.15L97.92 624.15L99.77 624.15L101.61 624.15L103.45 624.15L105.29 624.15L107.13 624.15L108.97 624.15L110.81 624.15L112.65 624.15L114.49 624.15L116.34 624.15L118.18 624.15L120.02 624.15L121.86 624.15L123.7 624.15L125.54 624.15L127.38 624.15L129.22 624.15L131.06 624.15L132.91 624.15L134.75 624.15L136.59 624.15L138.43 624.15L140.27 624.15L142.11 624.15L143.95 624.15L145.79 624.15L147.63 624.15L149.48 624.15L151.32 624.15L153.16 624.15L155 624.16L156.84 624.16L158.68 624.16L160.52 624.16L162.36 624.16L164.2 624.16L166.04 624.17L167.89 624.17L169.73 624.18L171.57 624.18L173.41 624.19L175.25 624.2L177.09 624.22L178.93 624.23L180.77 624.26L182.61 624.29L184.46 624.33L186.3 624.37L188.14 624.44L189.98 624.52L191.82 624.62L193.66 624.75L195.5 624.91L197.34 625.12L199.18 625.39L201.03 625.73L202.87 626.17L204.71 626.71L206.55 627.41L208.39 628.28L210.23 629.38L212.07 630.74L213.91 632.43L215.75 634.5L217.6 637.01L219.44 640.01L221.28 643.56L223.12 647.66L224.96 652.31L226.8 657.45L228.64 662.99L230.48 668.78L232.32 674.68L234.17 680.48" fill="none" stroke="#3a4fa8" stroke-width="1.6" stroke-linejoin="round"/>
<line x1="86.88" y1="618.25" x2="86.88" y2="624.15" stroke="#3fae4f" stroke-width="0.9"/>
<line x1="85.28" y1="618.25" x2="88.48" y2="618.25" stroke="#3fae4f" stroke-width="0.9"/>
<line x1="85.28" y1="624.15" x2="88.48" y2="624.15" stroke="#3fae4f" stroke-width="0.9"/>
<path d="M86.88 618.3L89.78 623.52L83.98 623.52Z" fill="#3fae4f" stroke="none" stroke-width="1"/>
<line x1="103.24" y1="619.23" x2="103.24" y2="625.14" stroke="#3fae4f" stroke-width="0.9"/>
<line x1="101.64" y1="619.23" x2="104.84" y2="619.23" stroke="#3fae4f" stroke-width="0.9"/>
<line x1="101.64" y1="625.14" x2="104.84" y2="625.14" stroke="#3fae4f" stroke-width="0.9"/>
<path d="M103.24 619.28L106.14 624.5L100.34 624.5Z" fill="#3fae4f" stroke="none" stroke-width="1"/>
<line x1="119.61" y1="619.23" x2="119.61" y2="625.14" stroke="#3fae4f" stroke-width="0.9"/>
<line x1="118.01" y1="619.23" x2="121.21" y2="619.23" stroke="#3fae4f" stroke-width="0.9"/>
<line x1="118.01" y1="625.14" x2="121.21" y2="625.14" stroke="#3fae4f" stroke-width="0.9"/>
<path d="M119.61 619.28L122.51 624.5L116.71 624.5Z" fill="#3fae4f" stroke="none" stroke-width="1"/>
<line x1="135.97" y1="620.22" x2="135.97" y2="624.15" stroke="#3fae4f" stroke-width="0.9"/>
<line x1="134.37" y1="620.22" x2="137.57" y2="620.22" stroke="#3fae4f" stroke-width="0.9"/>
<line x1="134.37" y1="624.15" x2="137.57" y2="624.15" stroke="#3fae4f" stroke-width="0.9"/>
<path d="M135.97 619.28L138.87 624.5L133.07 624.5Z" fill="#3fae4f" stroke="none" stroke-width="1"/>
<line x1="152.34" y1="620.22" x2="152.34" y2="626.12" stroke="#3fae4f" stroke-width="0.9"/>
<line x1="150.74" y1="620.22" x2="153.94" y2="620.22" stroke="#3fae4f" stroke-width="0.9"/>
<line x1="150.74" y1="626.12" x2="153.94" y2="626.12" stroke="#3fae4f" stroke-width="0.9"/>
<path d="M152.34 620.27L155.24 625.49L149.44 625.49Z" fill="#3fae4f" stroke="none" stroke-width="1"/>
<line x1="168.7" y1="620.22" x2="168.7" y2="626.12" stroke="#3fae4f" stroke-width="0.9"/>
<line x1="167.1" y1="620.22" x2="170.3" y2="620.22" stroke="#3fae4f" stroke-width="0.9"/>
<line x1="167.1" y1="626.12" x2="170.3" y2="626.12" stroke="#3fae4f" stroke-width="0.9"/>
<path d="M168.7 620.27L171.6 625.49L165.8 625.49Z" fill="#3fae4f" stroke="none" stroke-width="1"/>
<line x1="185.07" y1="622.18" x2="185.07" y2="628.09" stroke="#3fae4f" stroke-width="0.9"/>
<line x1="183.47" y1="622.18" x2="186.67" y2="622.18" stroke="#3fae4f" stroke-width="0.9"/>
<line x1="183.47" y1="628.09" x2="186.67" y2="628.09" stroke="#3fae4f" stroke-width="0.9"/>
<path d="M185.07 622.24L187.97 627.46L182.17 627.46Z" fill="#3fae4f" stroke="none" stroke-width="1"/>
<line x1="201.43" y1="625.14" x2="201.43" y2="634.98" stroke="#3fae4f" stroke-width="0.9"/>
<line x1="199.83" y1="625.14" x2="203.03" y2="625.14" stroke="#3fae4f" stroke-width="0.9"/>
<line x1="199.83" y1="634.98" x2="203.03" y2="634.98" stroke="#3fae4f" stroke-width="0.9"/>
<path d="M201.43 627.16L204.33 632.38L198.53 632.38Z" fill="#3fae4f" stroke="none" stroke-width="1"/>
<line x1="217.8" y1="643.34" x2="217.8" y2="645.31" stroke="#3fae4f" stroke-width="0.9"/>
<line x1="216.2" y1="643.34" x2="219.4" y2="643.34" stroke="#3fae4f" stroke-width="0.9"/>
<line x1="216.2" y1="645.31" x2="219.4" y2="645.31" stroke="#3fae4f" stroke-width="0.9"/>
<path d="M217.8 641.42L220.7 646.64L214.9 646.64Z" fill="#3fae4f" stroke="none" stroke-width="1"/>
<line x1="234.17" y1="658.1" x2="234.17" y2="660.07" stroke="#3fae4f" stroke-width="0.9"/>
<line x1="232.57" y1="658.1" x2="235.77" y2="658.1" stroke="#3fae4f" stroke-width="0.9"/>
<line x1="232.57" y1="660.07" x2="235.77" y2="660.07" stroke="#3fae4f" stroke-width="0.9"/>
<path d="M234.17 656.18L237.07 661.4L231.27 661.4Z" fill="#3fae4f" stroke="none" stroke-width="1"/>
<line x1="86.88" y1="624.15" x2="86.88" y2="628.09" stroke="#3a4fa8" stroke-width="0.9"/>
<line x1="85.28" y1="624.15" x2="88.48" y2="624.15" stroke="#3a4fa8" stroke-width="0.9"/>
<line x1="85.28" y1="628.09" x2="88.48" y2="628.09" stroke="#3a4fa8" stroke-width="0.9"/>
<circle cx="86.88" cy="626.12" r="3" fill="#3a4fa8" stroke="none" stroke-width="1"/>
<line x1="103.24" y1="615.79" x2="103.24" y2="635.47" stroke="#3a4fa8" stroke-width="0.9"/>
<line x1="101.64" y1="615.79" x2="104.84" y2="615.79" stroke="#3a4fa8" stroke-width="0.9"/>
<line x1="101.64" y1="635.47" x2="104.84" y2="635.47" stroke="#3a4fa8" stroke-width="0.9"/>
<circle cx="103.24" cy="625.63" r="3" fill="#3a4fa8" stroke="none" stroke-width="1"/>
<line x1="119.61" y1="614.02" x2="119.61" y2="629.76" stroke="#3a4fa8" stroke-width="0.9"/>
<line x1="118.01" y1="614.02" x2="121.21" y2="614.02" stroke="#3a4fa8" stroke-width="0.9"/>
<line x1="118.01" y1="629.76" x2="121.21" y2="629.76" stroke="#3a4fa8" stroke-width="0.9"/>
<circle cx="119.61" cy="621.89" r="3" fill="#3a4fa8" stroke="none" stroke-width="1"/>
<line x1="135.97" y1="622.58" x2="135.97" y2="634.39" stroke="#3a4fa8" stroke-width="0.9"/>
<line x1="134.37" y1="622.58" x2="137.57" y2="622.58" stroke="#3a4fa8" stroke-width="0.9"/>
<line x1="134.37" y1="634.39" x2="137.57" y2="634.39" stroke="#3a4fa8" stroke-width="0.9"/>
<circle cx="135.97" cy="628.48" r="3" fill="#3a4fa8" stroke="none" stroke-width="1"/>
<line x1="152.34" y1="617.46" x2="152.34" y2="629.27" stroke="#3a4fa8" stroke-width="0.9"/>
<line x1="150.74" y1="617.46" x2="153.94" y2="617.46" stroke="#3a4fa8" stroke-width="0.9"/>
<line x1="150.74" y1="629.27" x2="153.94" y2="629.27" stroke="#3a4fa8" stroke-width="0.9"/>
<circle cx="152.34" cy="623.36" r="3" fill="#3a4fa8" stroke="none" stroke-width="1"/>
<line x1="168.7" y1="612.34" x2="168.7" y2="628.09" stroke="#3a4fa8" stroke-width="0.9"/>
<line x1="167.1" y1="612.34" x2="170.3" y2="612.34" stroke="#3a4fa8" stroke-width="0.9"/>
<line x1="167.1" y1="628.09" x2="170.3" y2="628.09" stroke="#3a4fa8" stroke-width="0.9"/>
<circle cx="168.7" cy="620.22" r="3" fill="#3a4fa8" stroke="none" stroke-width="1"/>
<line x1="185.07" y1="617.26" x2="185.07" y2="633.01" stroke="#3a4fa8" stroke-width="0.9"/>
<line x1="183.47" y1="617.26" x2="186.67" y2="617.26" stroke="#3a4fa8" stroke-width="0.9"/>
<line x1="183.47" y1="633.01" x2="186.67" y2="633.01" stroke="#3a4fa8" stroke-width="0.9"/>
<circle cx="185.07" cy="625.14" r="3" fill="#3a4fa8" stroke="none" stroke-width="1"/>
<line x1="201.43" y1="626.61" x2="201.43" y2="646.29" stroke="#3a4fa8" stroke-width="0.9"/>
<line x1="199.83" y1="626.61" x2="203.03" y2="626.61" stroke="#3a4fa8" stroke-width="0.9"/>
<line x1="199.83" y1="646.29" x2="203.03" y2="646.29" stroke="#3a4fa8" stroke-width="0.9"/>
<circle cx="201.43" cy="636.45" r="3" fill="#3a4fa8" stroke="none" stroke-width="1"/>
<line x1="217.8" y1="642.85" x2="217.8" y2="646.78" stroke="#3a4fa8" stroke-width="0.9"/>
<line x1="216.2" y1="642.85" x2="219.4" y2="642.85" stroke="#3a4fa8" stroke-width="0.9"/>
<line x1="216.2" y1="646.78" x2="219.4" y2="646.78" stroke="#3a4fa8" stroke-width="0.9"/>
<circle cx="217.8" cy="644.82" r="3" fill="#3a4fa8" stroke="none" stroke-width="1"/>
<line x1="234.17" y1="677.09" x2="234.17" y2="683" stroke="#3a4fa8" stroke-width="0.9"/>
<line x1="232.57" y1="677.09" x2="235.77" y2="677.09" stroke="#3a4fa8" stroke-width="0.9"/>
<line x1="232.57" y1="683" x2="235.77" y2="683" stroke="#3a4fa8" stroke-width="0.9"/>
<circle cx="234.17" cy="680.04" r="3" fill="#3a4fa8" stroke="none" stroke-width="1"/>
<line x1="79.9" y1="600.54" x2="79.9" y2="721" stroke="#000" stroke-width="1.6"/>
<line x1="79.1" y1="720.2" x2="253.1" y2="720.2" stroke="#000" stroke-width="1.8"/>
<line x1="77.4" y1="719.6" x2="79.9" y2="719.6" stroke="#000" stroke-width="1.1"/>
<text x="77.7" y="721.94" font-size="9" font-weight="bold" text-anchor="end">0</text>
<line x1="77.4" y1="699.92" x2="79.9" y2="699.92" stroke="#000" stroke-width="1.1"/>
<text x="77.7" y="702.26" font-size="9" font-weight="bold" text-anchor="end">20</text>
<line x1="77.4" y1="680.24" x2="79.9" y2="680.24" stroke="#000" stroke-width="1.1"/>
<text x="77.7" y="682.58" font-size="9" font-weight="bold" text-anchor="end">40</text>
<line x1="77.4" y1="670.4" x2="79.9" y2="670.4" stroke="#000" stroke-width="1.1"/>
<text x="77.7" y="672.74" font-size="9" font-weight="bold" text-anchor="end">50</text>
<line x1="77.4" y1="660.56" x2="79.9" y2="660.56" stroke="#000" stroke-width="1.1"/>
<text x="77.7" y="662.9" font-size="9" font-weight="bold" text-anchor="end">60</text>
<line x1="77.4" y1="640.88" x2="79.9" y2="640.88" stroke="#000" stroke-width="1.1"/>
<text x="77.7" y="643.22" font-size="9" font-weight="bold" text-anchor="end">80</text>
<line x1="77.4" y1="621.2" x2="79.9" y2="621.2" stroke="#000" stroke-width="1.1"/>
<text x="77.7" y="623.54" font-size="9" font-weight="bold" text-anchor="end">100</text>
<line x1="77.4" y1="601.52" x2="79.9" y2="601.52" stroke="#000" stroke-width="1.1"/>
<text x="77.7" y="603.86" font-size="9" font-weight="bold" text-anchor="end">120</text>
<line x1="80.6" y1="720.2" x2="80.6" y2="722.7" stroke="#000" stroke-width="1.1"/>
<text x="80.6" y="729.8" font-size="8.8" font-weight="bold" text-anchor="middle">0.001</text>
<line x1="114.9" y1="720.2" x2="114.9" y2="722.7" stroke="#000" stroke-width="1.1"/>
<text x="114.9" y="729.8" font-size="8.8" font-weight="bold" text-anchor="middle">0.01</text>
<line x1="149.2" y1="720.2" x2="149.2" y2="722.7" stroke="#000" stroke-width="1.1"/>
<text x="149.2" y="729.8" font-size="8.8" font-weight="bold" text-anchor="middle">0.1</text>
<line x1="183.5" y1="720.2" x2="183.5" y2="722.7" stroke="#000" stroke-width="1.1"/>
<text x="183.5" y="729.8" font-size="8.8" font-weight="bold" text-anchor="middle">1</text>
<line x1="217.8" y1="720.2" x2="217.8" y2="722.7" stroke="#000" stroke-width="1.1"/>
<text x="217.8" y="729.8" font-size="8.8" font-weight="bold" text-anchor="middle">10</text>
<line x1="252.1" y1="720.2" x2="252.1" y2="722.7" stroke="#000" stroke-width="1.1"/>
<text x="252.1" y="729.8" font-size="8.8" font-weight="bold" text-anchor="middle">100</text>
<line x1="87" y1="680.9" x2="98.3" y2="680.9" stroke="#3a4fa8" stroke-width="1.6"/>
<line x1="87" y1="689.7" x2="98.3" y2="689.7" stroke="#3fae4f" stroke-width="1.6"/>
<text x="102.7" y="683.3" font-size="8.5" font-weight="bold" fill="#3a4fa8">2D</text>
<text x="102.7" y="691.6" font-size="8.5" font-weight="bold" fill="#3c9e4a">3D 20% Matrigel</text>
<text x="164" y="742.7" font-size="9.2" font-weight="bold" text-anchor="middle">SHP099 (µmol/L)</text>
<text x="58.2" y="656.7" font-size="9" font-weight="bold" text-anchor="middle" transform="rotate(-90 58.2 656.7)">Relative viability (%)</text>
<text x="281.3" y="585.8" font-size="16.5" font-weight="bold">E</text>
<line x1="321.6" y1="595.5" x2="321.6" y2="730.5" stroke="#000" stroke-width="1.6"/>
<line x1="320.8" y1="729.6" x2="461.8" y2="729.6" stroke="#000" stroke-width="1.6"/>
<line x1="319" y1="729.9" x2="321.6" y2="729.9" stroke="#000" stroke-width="1.1"/>
<text x="318.2" y="731.7" font-size="9.6" font-weight="bold" text-anchor="end">0</text>
<line x1="319" y1="703.2" x2="321.6" y2="703.2" stroke="#000" stroke-width="1.1"/>
<text x="318.2" y="705" font-size="9.6" font-weight="bold" text-anchor="end">2</text>
<line x1="319" y1="676.5" x2="321.6" y2="676.5" stroke="#000" stroke-width="1.1"/>
<text x="318.2" y="678.3" font-size="9.6" font-weight="bold" text-anchor="end">4</text>
<line x1="319" y1="649.8" x2="321.6" y2="649.8" stroke="#000" stroke-width="1.1"/>
<text x="318.2" y="651.6" font-size="9.6" font-weight="bold" text-anchor="end">6</text>
<line x1="319" y1="623.1" x2="321.6" y2="623.1" stroke="#000" stroke-width="1.1"/>
<text x="318.2" y="624.9" font-size="9.6" font-weight="bold" text-anchor="end">8</text>
<line x1="319" y1="596.4" x2="321.6" y2="596.4" stroke="#000" stroke-width="1.1"/>
<text x="318.2" y="598.2" font-size="9.6" font-weight="bold" text-anchor="end">10</text>
<line x1="398.1" y1="590.5" x2="398.1" y2="729.6" stroke="#000" stroke-width="1.1"/>
<line x1="355.4" y1="729.6" x2="355.4" y2="732" stroke="#000" stroke-width="1.1"/>
<line x1="427.4" y1="729.6" x2="427.4" y2="732" stroke="#000" stroke-width="1.1"/>
<text x="358.6" y="736.5" font-size="9" font-weight="bold" text-anchor="end" transform="rotate(-45 358.6 736.5)">2D</text>
<text x="430.6" y="736.5" font-size="9" font-weight="bold" text-anchor="end" transform="rotate(-45 430.6 736.5)">3D</text>
<text x="304.2" y="664.2" font-size="10" font-weight="bold" text-anchor="middle" transform="rotate(-90 304.2 664.2)">SHP099IC<tspan font-size="7.6" dy="2">50</tspan><tspan dy="-2"> (µmol/L)</tspan></text>
<rect x="332.2" y="593" width="24" height="6.4" fill="#000"/>
<path d="M357.2 599.63L360.53 593.63L353.87 593.63Z" fill="#000" stroke="none" stroke-width="1"/>
<path d="M359.8 599.63L363.13 593.63L356.47 593.63Z" fill="#000" stroke="none" stroke-width="1"/>
<path d="M363.4 593.08L366.62 596.3L363.4 599.52L360.18 596.3Z" fill="#000" stroke="none" stroke-width="1"/>
<path d="M368.3 593.08L371.52 596.3L368.3 599.52L365.08 596.3Z" fill="#000" stroke="none" stroke-width="1"/>
<circle cx="372.6" cy="596.3" r="2.76" fill="#000" stroke="none" stroke-width="1"/>
<line x1="372.6" y1="596.3" x2="376.05" y2="596.3" stroke="#000" stroke-width="1.3"/>
<line x1="372.6" y1="596.3" x2="375.04" y2="598.74" stroke="#000" stroke-width="1.3"/>
<line x1="372.6" y1="596.3" x2="372.6" y2="599.75" stroke="#000" stroke-width="1.3"/>
<line x1="372.6" y1="596.3" x2="370.16" y2="598.74" stroke="#000" stroke-width="1.3"/>
<line x1="372.6" y1="596.3" x2="369.15" y2="596.3" stroke="#000" stroke-width="1.3"/>
<line x1="372.6" y1="596.3" x2="370.16" y2="593.86" stroke="#000" stroke-width="1.3"/>
<line x1="372.6" y1="596.3" x2="372.6" y2="592.85" stroke="#000" stroke-width="1.3"/>
<line x1="372.6" y1="596.3" x2="375.04" y2="593.86" stroke="#000" stroke-width="1.3"/>
<circle cx="375" cy="596.3" r="2.76" fill="#000" stroke="none" stroke-width="1"/>
<line x1="375" y1="596.3" x2="378.45" y2="596.3" stroke="#000" stroke-width="1.3"/>
<line x1="375" y1="596.3" x2="377.44" y2="598.74" stroke="#000" stroke-width="1.3"/>
<line x1="375" y1="596.3" x2="375" y2="599.75" stroke="#000" stroke-width="1.3"/>
<line x1="375" y1="596.3" x2="372.56" y2="598.74" stroke="#000" stroke-width="1.3"/>
<line x1="375" y1="596.3" x2="371.55" y2="596.3" stroke="#000" stroke-width="1.3"/>
<line x1="375" y1="596.3" x2="372.56" y2="593.86" stroke="#000" stroke-width="1.3"/>
<line x1="375" y1="596.3" x2="375" y2="592.85" stroke="#000" stroke-width="1.3"/>
<line x1="375" y1="596.3" x2="377.44" y2="593.86" stroke="#000" stroke-width="1.3"/>
<line x1="378.32" y1="596.3" x2="385.68" y2="596.3" stroke="#000" stroke-width="1.4"/>
<line x1="382" y1="592.62" x2="382" y2="599.98" stroke="#000" stroke-width="1.4"/>
<line x1="385.52" y1="596.3" x2="392.88" y2="596.3" stroke="#000" stroke-width="1.4"/>
<line x1="389.2" y1="592.62" x2="389.2" y2="599.98" stroke="#000" stroke-width="1.4"/>
<circle cx="328" cy="677.5" r="3.2" fill="#9b5fb0" stroke="none" stroke-width="1"/>
<path d="M418.3 592.53L422.07 599.32L414.53 599.32Z" fill="#000" stroke="none" stroke-width="1"/>
<circle cx="445.5" cy="596.3" r="3.12" fill="#000" stroke="none" stroke-width="1"/>
<line x1="445.5" y1="596.3" x2="449.4" y2="596.3" stroke="#000" stroke-width="1.3"/>
<line x1="445.5" y1="596.3" x2="448.26" y2="599.06" stroke="#000" stroke-width="1.3"/>
<line x1="445.5" y1="596.3" x2="445.5" y2="600.2" stroke="#000" stroke-width="1.3"/>
<line x1="445.5" y1="596.3" x2="442.74" y2="599.06" stroke="#000" stroke-width="1.3"/>
<line x1="445.5" y1="596.3" x2="441.6" y2="596.3" stroke="#000" stroke-width="1.3"/>
<line x1="445.5" y1="596.3" x2="442.74" y2="593.54" stroke="#000" stroke-width="1.3"/>
<line x1="445.5" y1="596.3" x2="445.5" y2="592.4" stroke="#000" stroke-width="1.3"/>
<line x1="445.5" y1="596.3" x2="448.26" y2="593.54" stroke="#000" stroke-width="1.3"/>
<line x1="452.14" y1="596.3" x2="460.46" y2="596.3" stroke="#000" stroke-width="1.4"/>
<line x1="456.3" y1="592.14" x2="456.3" y2="600.46" stroke="#000" stroke-width="1.4"/>
<path d="M418.3 645.93L422.07 652.72L414.53 652.72Z" fill="#000" stroke="none" stroke-width="1"/>
<path d="M437.1 674.96L440.74 678.6L437.1 682.24L433.46 678.6Z" fill="#000" stroke="none" stroke-width="1"/>
<path d="M437.1 686.26L440.74 689.9L437.1 693.54L433.46 689.9Z" fill="#000" stroke="none" stroke-width="1"/>
<rect x="405.71" y="700.11" width="5.98" height="5.98" fill="#000"/>
<path d="M423.4 702.43L427.17 709.22L419.63 709.22Z" fill="#000" stroke="none" stroke-width="1"/>
<path d="M417.1 708.93L420.87 715.72L413.33 715.72Z" fill="#000" stroke="none" stroke-width="1"/>
<path d="M427.9 721.27L431.67 714.48L424.13 714.48Z" fill="#000" stroke="none" stroke-width="1"/>
<text x="486.4" y="591.7" font-size="10" font-weight="bold">KRAS</text>
<circle cx="476.7" cy="601.4" r="3.3" fill="#9b5fb0" stroke="none" stroke-width="1"/>
<text x="486.4" y="604.7" font-size="8.5" fill="#222">Wild type</text>
<rect x="474.32" y="613.12" width="5.75" height="5.75" fill="#000"/>
<text x="486.4" y="618.9" font-size="8.3" fill="#111">G12A</text>
<path d="M477.2 623.77L480.82 630.3L473.57 630.3Z" fill="#000" stroke="none" stroke-width="1"/>
<text x="486.4" y="630.3" font-size="8.3" fill="#111">G12C</text>
<path d="M477.2 641.23L480.82 634.7L473.57 634.7Z" fill="#000" stroke="none" stroke-width="1"/>
<text x="486.4" y="640.5" font-size="8.3" fill="#111">G12D</text>
<path d="M477.2 645.3L480.7 648.8L477.2 652.3L473.7 648.8Z" fill="#000" stroke="none" stroke-width="1"/>
<text x="486.4" y="651.7" font-size="8.3" fill="#111">G12V</text>
<circle cx="477.2" cy="659.8" r="3" fill="#000" stroke="none" stroke-width="1"/>
<line x1="477.2" y1="659.8" x2="480.95" y2="659.8" stroke="#000" stroke-width="1.3"/>
<line x1="477.2" y1="659.8" x2="479.85" y2="662.45" stroke="#000" stroke-width="1.3"/>
<line x1="477.2" y1="659.8" x2="477.2" y2="663.55" stroke="#000" stroke-width="1.3"/>
<line x1="477.2" y1="659.8" x2="474.55" y2="662.45" stroke="#000" stroke-width="1.3"/>
<line x1="477.2" y1="659.8" x2="473.45" y2="659.8" stroke="#000" stroke-width="1.3"/>
<line x1="477.2" y1="659.8" x2="474.55" y2="657.15" stroke="#000" stroke-width="1.3"/>
<line x1="477.2" y1="659.8" x2="477.2" y2="656.05" stroke="#000" stroke-width="1.3"/>
<line x1="477.2" y1="659.8" x2="479.85" y2="657.15" stroke="#000" stroke-width="1.3"/>
<text x="486.4" y="662.7" font-size="8.3" fill="#111">G13D</text>
<line x1="473.2" y1="670.8" x2="481.2" y2="670.8" stroke="#000" stroke-width="1.4"/>
<line x1="477.2" y1="666.8" x2="477.2" y2="674.8" stroke="#000" stroke-width="1.4"/>
<text x="486.4" y="673.7" font-size="8.3" fill="#111">Q61H/K</text>
</svg>
</body></html>
